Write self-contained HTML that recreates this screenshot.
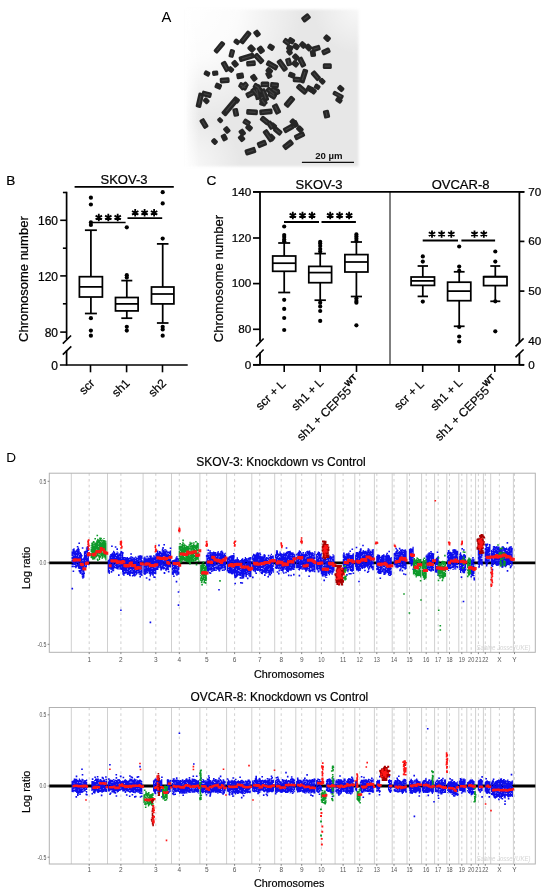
<!DOCTYPE html>
<html><head><meta charset="utf-8"><style>html,body{margin:0;padding:0;background:#fff}svg{display:block;will-change:transform}.bc text{stroke:#000;stroke-width:0.22px}.dd text.t{stroke:#000;stroke-width:0.2px}</style></head>
<body><svg width="550" height="894" viewBox="0 0 550 894">
<defs><radialGradient id="acorner" gradientUnits="userSpaceOnUse" cx="186" cy="9" r="115"><stop offset="0" stop-color="#fff" stop-opacity="1"/><stop offset="0.45" stop-color="#fff" stop-opacity="0.85"/><stop offset="1" stop-color="#fff" stop-opacity="0"/></radialGradient><radialGradient id="acorner2" gradientUnits="userSpaceOnUse" cx="186" cy="167" r="55"><stop offset="0" stop-color="#fff" stop-opacity="0.8"/><stop offset="1" stop-color="#fff" stop-opacity="0"/></radialGradient><radialGradient id="acorner3" gradientUnits="userSpaceOnUse" cx="358" cy="9" r="45"><stop offset="0" stop-color="#fff" stop-opacity="0.7"/><stop offset="1" stop-color="#fff" stop-opacity="0"/></radialGradient><linearGradient id="aleft" x1="0" x2="1" y1="0" y2="0"><stop offset="0" stop-color="#fff" stop-opacity="0.9"/><stop offset="1" stop-color="#fff" stop-opacity="0"/></linearGradient><filter id="asoft" x="-5%" y="-5%" width="110%" height="110%"><feGaussianBlur stdDeviation="0.55"/></filter><filter id="aedge" x="-5%" y="-5%" width="110%" height="110%"><feGaussianBlur stdDeviation="1.2"/></filter></defs><rect x="186" y="9.5" width="172.5" height="157" fill="#e7e7e7" filter="url(#aedge)"/><rect x="185" y="8" width="175" height="160" fill="url(#acorner)"/><rect x="185" y="8" width="175" height="160" fill="url(#acorner2)"/><rect x="300" y="8" width="60" height="60" fill="url(#acorner3)"/><rect x="185" y="8" width="14" height="160" fill="url(#aleft)"/><g fill="#262626" filter="url(#asoft)"><rect x="-3.4" y="-2.9" width="6.9" height="5.7" rx="1.5" transform="translate(257.0 33.5) rotate(53)"/><rect x="-7.4" y="-2.9" width="14.7" height="5.7" rx="1.5" transform="translate(245.2 37.5) rotate(128)"/><rect x="-3.1" y="-2.6" width="6.2" height="5.2" rx="1.5" transform="translate(236.8 41.8) rotate(36)"/><rect x="-6.8" y="-2.6" width="13.6" height="5.2" rx="1.5" transform="translate(219.4 47.3) rotate(130)"/><rect x="-4.2" y="-2.6" width="8.5" height="5.2" rx="1.5" transform="translate(231.8 53.4) rotate(105)"/><rect x="-3.7" y="-3.1" width="7.5" height="6.2" rx="1.5" transform="translate(251.5 48.5) rotate(45)"/><rect x="-3.7" y="-3.1" width="7.5" height="6.2" rx="1.5" transform="translate(260.8 49.8) rotate(54)"/><rect x="-3.4" y="-2.9" width="6.9" height="5.7" rx="1.5" transform="translate(271.0 47.2) rotate(32)"/><rect x="-8.0" y="-2.9" width="15.9" height="5.7" rx="1.5" transform="translate(246.7 57.4) rotate(-17)"/><rect x="-5.9" y="-2.9" width="11.8" height="5.7" rx="1.5" transform="translate(258.8 58.5) rotate(47)"/><rect x="-4.8" y="-2.9" width="9.6" height="5.7" rx="1.5" transform="translate(251.0 63.5) rotate(-5)"/><rect x="-5.5" y="-2.9" width="11.0" height="5.7" rx="1.5" transform="translate(225.4 66.5) rotate(61)"/><rect x="-3.4" y="-2.9" width="6.9" height="5.7" rx="1.5" transform="translate(235.0 63.8) rotate(49)"/><rect x="-3.1" y="-2.6" width="6.2" height="5.2" rx="1.5" transform="translate(230.8 69.5) rotate(41)"/><rect x="-3.1" y="-2.6" width="6.2" height="5.2" rx="1.5" transform="translate(207.0 73.5) rotate(27)"/><rect x="-3.1" y="-2.6" width="6.2" height="5.2" rx="1.5" transform="translate(215.2 73.2) rotate(-6)"/><rect x="-4.9" y="-2.9" width="9.8" height="5.7" rx="1.5" transform="translate(224.7 80.4) rotate(-5)"/><rect x="-3.7" y="-3.1" width="7.5" height="6.2" rx="1.5" transform="translate(240.1 75.9) rotate(-10)"/><rect x="-3.4" y="-2.9" width="6.9" height="5.7" rx="1.5" transform="translate(253.8 77.8) rotate(54)"/><rect x="-3.4" y="-2.9" width="6.9" height="5.7" rx="1.5" transform="translate(269.2 70.8) rotate(39)"/><rect x="-3.4" y="-2.9" width="6.9" height="5.7" rx="1.5" transform="translate(268.8 75.0) rotate(63)"/><rect x="-6.3" y="-2.9" width="12.5" height="5.7" rx="1.5" transform="translate(272.1 65.4) rotate(30)"/><rect x="-3.4" y="-2.9" width="6.9" height="5.7" rx="1.5" transform="translate(218.2 86.2) rotate(24)"/><rect x="-4.6" y="-2.9" width="9.1" height="5.7" rx="1.5" transform="translate(244.1 86.0) rotate(-38)"/><rect x="-3.8" y="-2.9" width="7.6" height="5.7" rx="1.5" transform="translate(256.8 86.8) rotate(32)"/><rect x="-4.4" y="-2.9" width="8.8" height="5.7" rx="1.5" transform="translate(265.0 84.5) rotate(0)"/><rect x="-4.4" y="-2.9" width="8.8" height="5.7" rx="1.5" transform="translate(274.5 85.2) rotate(4)"/><rect x="-4.5" y="-3.1" width="9.0" height="6.2" rx="1.5" transform="translate(306.0 17.9) rotate(-37)"/><rect x="-3.4" y="-2.9" width="6.9" height="5.7" rx="1.5" transform="translate(327.0 38.2) rotate(41)"/><rect x="-4.4" y="-2.9" width="8.8" height="5.7" rx="1.5" transform="translate(326.0 51.4) rotate(-24)"/><rect x="-4.5" y="-2.9" width="9.0" height="5.7" rx="1.5" transform="translate(327.3 66.1) rotate(0)"/><rect x="-4.3" y="-2.9" width="8.6" height="5.7" rx="1.5" transform="translate(316.2 48.5) rotate(-18)"/><rect x="-3.4" y="-2.9" width="6.9" height="5.7" rx="1.5" transform="translate(312.9 53.4) rotate(81)"/><rect x="-3.4" y="-2.9" width="6.9" height="5.7" rx="1.5" transform="translate(308.5 47.5) rotate(45)"/><rect x="-3.4" y="-2.9" width="6.9" height="5.7" rx="1.5" transform="translate(302.8 45.0) rotate(41)"/><rect x="-3.9" y="-2.9" width="7.8" height="5.7" rx="1.5" transform="translate(286.8 42.0) rotate(36)"/><rect x="-3.4" y="-2.9" width="6.9" height="5.7" rx="1.5" transform="translate(291.2 40.8) rotate(31)"/><rect x="-3.4" y="-2.9" width="6.9" height="5.7" rx="1.5" transform="translate(296.0 46.5) rotate(34)"/><rect x="-3.4" y="-2.9" width="6.9" height="5.7" rx="1.5" transform="translate(289.8 47.8) rotate(23)"/><rect x="-3.1" y="-2.6" width="6.2" height="5.2" rx="1.5" transform="translate(289.5 52.2) rotate(51)"/><rect x="-4.1" y="-2.9" width="8.1" height="5.7" rx="1.5" transform="translate(288.6 62.0) rotate(73)"/><rect x="-3.4" y="-2.9" width="6.9" height="5.7" rx="1.5" transform="translate(295.7 57.2) rotate(46)"/><rect x="-3.4" y="-2.9" width="6.9" height="5.7" rx="1.5" transform="translate(295.2 63.8) rotate(39)"/><rect x="-5.3" y="-2.9" width="10.6" height="5.7" rx="1.5" transform="translate(301.7 62.1) rotate(63)"/><rect x="-6.7" y="-2.9" width="13.3" height="5.7" rx="1.5" transform="translate(282.2 65.4) rotate(54)"/><rect x="-3.5" y="-2.9" width="7.0" height="5.7" rx="1.5" transform="translate(291.7 75.2) rotate(21)"/><rect x="-7.2" y="-2.9" width="14.5" height="5.7" rx="1.5" transform="translate(303.6 76.0) rotate(108)"/><rect x="-5.4" y="-2.9" width="10.8" height="5.7" rx="1.5" transform="translate(315.8 75.8) rotate(49)"/><rect x="-3.1" y="-2.6" width="6.2" height="5.2" rx="1.5" transform="translate(322.2 81.2) rotate(45)"/><rect x="-4.1" y="-2.9" width="8.1" height="5.7" rx="1.5" transform="translate(296.9 79.6) rotate(5)"/><rect x="-6.1" y="-2.9" width="12.2" height="5.7" rx="1.5" transform="translate(301.9 89.3) rotate(40)"/><rect x="-3.4" y="-2.9" width="6.9" height="5.7" rx="1.5" transform="translate(309.5 88.8) rotate(27)"/><rect x="-3.4" y="-2.9" width="6.9" height="5.7" rx="1.5" transform="translate(312.9 90.8) rotate(39)"/><rect x="-3.1" y="-2.6" width="6.2" height="5.2" rx="1.5" transform="translate(317.2 86.8) rotate(31)"/><rect x="-7.5" y="-2.9" width="15.1" height="5.7" rx="1.5" transform="translate(199.8 100.2) rotate(103)"/><rect x="-5.1" y="-2.9" width="10.1" height="5.7" rx="1.5" transform="translate(206.7 94.4) rotate(15)"/><rect x="-3.1" y="-2.6" width="6.2" height="5.2" rx="1.5" transform="translate(206.2 100.8) rotate(45)"/><rect x="-11.1" y="-3.1" width="22.3" height="6.2" rx="1.5" transform="translate(230.4 106.3) rotate(130)"/><rect x="-4.2" y="-2.9" width="8.4" height="5.7" rx="1.5" transform="translate(235.7 112.4) rotate(78)"/><rect x="-5.1" y="-2.9" width="10.3" height="5.7" rx="1.5" transform="translate(203.9 123.5) rotate(59)"/><rect x="-2.8" y="-2.3" width="5.6" height="4.7" rx="1.5" transform="translate(220.2 120.2) rotate(45)"/><rect x="-3.4" y="-2.9" width="6.9" height="5.7" rx="1.5" transform="translate(226.8 130.0) rotate(50)"/><rect x="-3.4" y="-2.9" width="6.9" height="5.7" rx="1.5" transform="translate(224.2 137.5) rotate(63)"/><rect x="-3.1" y="-2.6" width="6.2" height="5.2" rx="1.5" transform="translate(214.5 141.5) rotate(45)"/><rect x="-3.8" y="-2.9" width="7.7" height="5.7" rx="1.5" transform="translate(246.6 122.4) rotate(33)"/><rect x="-3.4" y="-2.9" width="6.9" height="5.7" rx="1.5" transform="translate(249.0 127.8) rotate(40)"/><rect x="-3.4" y="-2.9" width="6.9" height="5.7" rx="1.5" transform="translate(242.2 132.5) rotate(53)"/><rect x="-3.4" y="-2.9" width="6.9" height="5.7" rx="1.5" transform="translate(241.5 138.2) rotate(51)"/><rect x="-5.9" y="-2.9" width="11.7" height="5.7" rx="1.5" transform="translate(252.1 112.2) rotate(4)"/><rect x="-6.6" y="-2.9" width="13.3" height="5.7" rx="1.5" transform="translate(265.9 111.9) rotate(-6)"/><rect x="-5.1" y="-2.9" width="10.1" height="5.7" rx="1.5" transform="translate(264.9 120.6) rotate(38)"/><rect x="-6.8" y="-2.9" width="13.6" height="5.7" rx="1.5" transform="translate(268.3 135.8) rotate(55)"/><rect x="-4.8" y="-3.1" width="9.6" height="6.2" rx="1.5" transform="translate(261.9 143.9) rotate(-21)"/><rect x="-5.6" y="-3.1" width="11.2" height="6.2" rx="1.5" transform="translate(250.4 151.2) rotate(-18)"/><rect x="-4.5" y="-2.9" width="8.9" height="5.7" rx="1.5" transform="translate(250.2 94.1) rotate(-26)"/><rect x="-3.7" y="-2.9" width="7.4" height="5.7" rx="1.5" transform="translate(259.8 94.5) rotate(64)"/><rect x="-6.1" y="-2.9" width="12.2" height="5.7" rx="1.5" transform="translate(271.4 92.2) rotate(40)"/><rect x="-3.4" y="-2.9" width="6.9" height="5.7" rx="1.5" transform="translate(262.8 103.2) rotate(18)"/><rect x="-3.4" y="-2.9" width="6.9" height="5.7" rx="1.5" transform="translate(276.5 92.2) rotate(-19)"/><rect x="-3.1" y="-2.6" width="6.2" height="5.2" rx="1.5" transform="translate(236.5 100.2) rotate(37)"/><rect x="-6.7" y="-2.9" width="13.5" height="5.7" rx="1.5" transform="translate(257.4 93.2) rotate(80)"/><rect x="-6.5" y="-2.9" width="13.0" height="5.7" rx="1.5" transform="translate(264.5 94.9) rotate(69)"/><rect x="-5.1" y="-3.1" width="10.1" height="6.2" rx="1.5" transform="translate(255.4 92.2) rotate(52)"/><rect x="-4.6" y="-3.1" width="9.2" height="6.2" rx="1.5" transform="translate(272.1 95.2) rotate(31)"/><rect x="-4.0" y="-3.1" width="8.0" height="6.2" rx="1.5" transform="translate(263.4 101.7) rotate(53)"/><rect x="-4.6" y="-2.9" width="9.2" height="5.7" rx="1.5" transform="translate(243.0 86.4) rotate(31)"/><rect x="-4.6" y="-3.1" width="9.2" height="6.2" rx="1.5" transform="translate(275.0 90.8) rotate(31)"/><rect x="-4.7" y="-3.1" width="9.3" height="6.2" rx="1.5" transform="translate(259.0 89.3) rotate(59)"/><rect x="-4.3" y="-2.9" width="8.7" height="5.7" rx="1.5" transform="translate(270.5 125.2) rotate(57)"/><rect x="-3.4" y="-2.6" width="6.8" height="5.2" rx="1.5" transform="translate(340.8 88.5) rotate(42)"/><rect x="-5.8" y="-2.3" width="11.5" height="4.7" rx="1.5" transform="translate(338.2 95.0) rotate(28)"/><rect x="-3.5" y="-2.6" width="6.9" height="5.2" rx="1.5" transform="translate(339.0 100.2) rotate(35)"/><rect x="-4.1" y="-3.1" width="8.3" height="6.2" rx="1.5" transform="translate(326.5 114.1) rotate(77)"/><rect x="-6.1" y="-3.1" width="12.2" height="6.2" rx="1.5" transform="translate(289.5 101.8) rotate(-50)"/><rect x="-5.3" y="-3.1" width="10.6" height="6.2" rx="1.5" transform="translate(276.5 109.0) rotate(64)"/><rect x="-3.4" y="-2.9" width="6.9" height="5.7" rx="1.5" transform="translate(275.8 91.5) rotate(0)"/><rect x="-3.4" y="-2.9" width="6.9" height="5.7" rx="1.5" transform="translate(295.2 124.0) rotate(63)"/><rect x="-5.5" y="-2.9" width="11.1" height="5.7" rx="1.5" transform="translate(288.5 128.5) rotate(-29)"/><rect x="-3.4" y="-2.9" width="6.9" height="5.7" rx="1.5" transform="translate(299.8 129.2) rotate(45)"/><rect x="-5.4" y="-2.9" width="10.9" height="5.7" rx="1.5" transform="translate(299.5 135.8) rotate(-27)"/><rect x="-4.7" y="-2.9" width="9.3" height="5.7" rx="1.5" transform="translate(277.8 131.2) rotate(40)"/><rect x="-3.4" y="-2.9" width="6.9" height="5.7" rx="1.5" transform="translate(271.5 137.5) rotate(45)"/><rect x="-3.4" y="-2.9" width="6.9" height="5.7" rx="1.5" transform="translate(273.2 126.0) rotate(39)"/><rect x="-5.6" y="-3.1" width="11.3" height="6.2" rx="1.5" transform="translate(288.0 144.8) rotate(-38)"/><rect x="-3.4" y="-2.9" width="6.9" height="5.7" rx="1.5" transform="translate(293.2 122.2) rotate(45)"/></g><g fill="#404040" filter="url(#asoft)"><rect x="-4.4" y="-0.6" width="8.8" height="1.2" transform="translate(245.2 37.5) rotate(128)"/><rect x="-4.1" y="-0.6" width="8.1" height="1.2" transform="translate(219.4 47.3) rotate(130)"/><rect x="-2.5" y="-0.6" width="5.1" height="1.2" transform="translate(231.8 53.4) rotate(105)"/><rect x="-4.8" y="-0.6" width="9.6" height="1.2" transform="translate(246.7 57.4) rotate(-17)"/><rect x="-3.5" y="-0.6" width="7.1" height="1.2" transform="translate(258.8 58.5) rotate(47)"/><rect x="-2.9" y="-0.6" width="5.8" height="1.2" transform="translate(251.0 63.5) rotate(-5)"/><rect x="-3.3" y="-0.6" width="6.6" height="1.2" transform="translate(225.4 66.5) rotate(61)"/><rect x="-3.0" y="-0.6" width="5.9" height="1.2" transform="translate(224.7 80.4) rotate(-5)"/><rect x="-3.8" y="-0.6" width="7.5" height="1.2" transform="translate(272.1 65.4) rotate(30)"/><rect x="-2.7" y="-0.6" width="5.5" height="1.2" transform="translate(244.1 86.0) rotate(-38)"/><rect x="-2.3" y="-0.6" width="4.6" height="1.2" transform="translate(256.8 86.8) rotate(32)"/><rect x="-2.6" y="-0.6" width="5.3" height="1.2" transform="translate(265.0 84.5) rotate(0)"/><rect x="-2.6" y="-0.6" width="5.3" height="1.2" transform="translate(274.5 85.2) rotate(4)"/><rect x="-2.7" y="-0.6" width="5.4" height="1.2" transform="translate(306.0 17.9) rotate(-37)"/><rect x="-2.6" y="-0.6" width="5.3" height="1.2" transform="translate(326.0 51.4) rotate(-24)"/><rect x="-2.7" y="-0.6" width="5.4" height="1.2" transform="translate(327.3 66.1) rotate(0)"/><rect x="-2.6" y="-0.6" width="5.1" height="1.2" transform="translate(316.2 48.5) rotate(-18)"/><rect x="-2.3" y="-0.6" width="4.7" height="1.2" transform="translate(286.8 42.0) rotate(36)"/><rect x="-2.4" y="-0.6" width="4.9" height="1.2" transform="translate(288.6 62.0) rotate(73)"/><rect x="-3.2" y="-0.6" width="6.4" height="1.2" transform="translate(301.7 62.1) rotate(63)"/><rect x="-4.0" y="-0.6" width="8.0" height="1.2" transform="translate(282.2 65.4) rotate(54)"/><rect x="-4.3" y="-0.6" width="8.7" height="1.2" transform="translate(303.6 76.0) rotate(108)"/><rect x="-3.2" y="-0.6" width="6.5" height="1.2" transform="translate(315.8 75.8) rotate(49)"/><rect x="-2.4" y="-0.6" width="4.9" height="1.2" transform="translate(296.9 79.6) rotate(5)"/><rect x="-3.7" y="-0.6" width="7.3" height="1.2" transform="translate(301.9 89.3) rotate(40)"/><rect x="-4.5" y="-0.6" width="9.1" height="1.2" transform="translate(199.8 100.2) rotate(103)"/><rect x="-3.0" y="-0.6" width="6.1" height="1.2" transform="translate(206.7 94.4) rotate(15)"/><rect x="-6.7" y="-0.6" width="13.4" height="1.2" transform="translate(230.4 106.3) rotate(130)"/><rect x="-2.5" y="-0.6" width="5.0" height="1.2" transform="translate(235.7 112.4) rotate(78)"/><rect x="-3.1" y="-0.6" width="6.2" height="1.2" transform="translate(203.9 123.5) rotate(59)"/><rect x="-2.3" y="-0.6" width="4.6" height="1.2" transform="translate(246.6 122.4) rotate(33)"/><rect x="-3.5" y="-0.6" width="7.0" height="1.2" transform="translate(252.1 112.2) rotate(4)"/><rect x="-4.0" y="-0.6" width="8.0" height="1.2" transform="translate(265.9 111.9) rotate(-6)"/><rect x="-3.0" y="-0.6" width="6.1" height="1.2" transform="translate(264.9 120.6) rotate(38)"/><rect x="-4.1" y="-0.6" width="8.2" height="1.2" transform="translate(268.3 135.8) rotate(55)"/><rect x="-2.9" y="-0.6" width="5.8" height="1.2" transform="translate(261.9 143.9) rotate(-21)"/><rect x="-3.4" y="-0.6" width="6.7" height="1.2" transform="translate(250.4 151.2) rotate(-18)"/><rect x="-2.7" y="-0.6" width="5.4" height="1.2" transform="translate(250.2 94.1) rotate(-26)"/><rect x="-3.6" y="-0.6" width="7.3" height="1.2" transform="translate(271.4 92.2) rotate(40)"/><rect x="-4.0" y="-0.6" width="8.1" height="1.2" transform="translate(257.4 93.2) rotate(80)"/><rect x="-3.9" y="-0.6" width="7.8" height="1.2" transform="translate(264.5 94.9) rotate(69)"/><rect x="-3.0" y="-0.6" width="6.1" height="1.2" transform="translate(255.4 92.2) rotate(52)"/><rect x="-2.8" y="-0.6" width="5.5" height="1.2" transform="translate(272.1 95.2) rotate(31)"/><rect x="-2.4" y="-0.6" width="4.8" height="1.2" transform="translate(263.4 101.7) rotate(53)"/><rect x="-2.8" y="-0.6" width="5.5" height="1.2" transform="translate(243.0 86.4) rotate(31)"/><rect x="-2.8" y="-0.6" width="5.5" height="1.2" transform="translate(275.0 90.8) rotate(31)"/><rect x="-2.8" y="-0.6" width="5.6" height="1.2" transform="translate(259.0 89.3) rotate(59)"/><rect x="-2.6" y="-0.6" width="5.2" height="1.2" transform="translate(270.5 125.2) rotate(57)"/><rect x="-3.5" y="-0.6" width="6.9" height="1.2" transform="translate(338.2 95.0) rotate(28)"/><rect x="-2.5" y="-0.6" width="5.0" height="1.2" transform="translate(326.5 114.1) rotate(77)"/><rect x="-3.6" y="-0.6" width="7.3" height="1.2" transform="translate(289.5 101.8) rotate(-50)"/><rect x="-3.2" y="-0.6" width="6.4" height="1.2" transform="translate(276.5 109.0) rotate(64)"/><rect x="-3.3" y="-0.6" width="6.7" height="1.2" transform="translate(288.5 128.5) rotate(-29)"/><rect x="-3.3" y="-0.6" width="6.5" height="1.2" transform="translate(299.5 135.8) rotate(-27)"/><rect x="-2.8" y="-0.6" width="5.6" height="1.2" transform="translate(277.8 131.2) rotate(40)"/><rect x="-3.4" y="-0.6" width="6.8" height="1.2" transform="translate(288.0 144.8) rotate(-38)"/></g><line x1="301.9" y1="162.3" x2="354" y2="162.3" stroke="#111" stroke-width="1.3"/><text x="328.9" y="158.7" font-size="9.6" font-weight="bold" text-anchor="middle" fill="#111" font-family="Liberation Sans, sans-serif">20 µm</text><text x="161.5" y="22.2" font-size="14.8" font-family="Liberation Sans, sans-serif">A</text><g class="bc"><text x="6.3" y="185.4" font-size="13.6" font-family="Liberation Sans, sans-serif">B</text><text x="124" y="184.2" font-size="13" text-anchor="middle" font-family="Liberation Sans, sans-serif">SKOV-3</text><line x1="74.6" y1="186.9" x2="173.8" y2="186.9" stroke="#000" stroke-width="1.6"/><path d="M66.6 191.7 V339.3 M66.6 350.4 V365.6" stroke="#000" stroke-width="1.7" fill="none"/><line x1="62.9" y1="192.5" x2="66.6" y2="192.5" stroke="#000" stroke-width="1.6"/><line x1="60.2" y1="220.3" x2="66.6" y2="220.3" stroke="#000" stroke-width="1.6"/><line x1="62.9" y1="248.2" x2="66.6" y2="248.2" stroke="#000" stroke-width="1.6"/><line x1="60.2" y1="275.9" x2="66.6" y2="275.9" stroke="#000" stroke-width="1.6"/><line x1="62.9" y1="303.8" x2="66.6" y2="303.8" stroke="#000" stroke-width="1.6"/><line x1="60.2" y1="332.1" x2="66.6" y2="332.1" stroke="#000" stroke-width="1.6"/><path d="M62.8 343.6 L71.1 335.5 M62.8 354.6 L71.3 346.4" stroke="#000" stroke-width="1.6" fill="none"/><text x="58.0" y="225.0" font-size="12" text-anchor="end" font-family="Liberation Sans, sans-serif">160</text><text x="58.0" y="280.6" font-size="12" text-anchor="end" font-family="Liberation Sans, sans-serif">120</text><text x="58.0" y="336.8" font-size="12" text-anchor="end" font-family="Liberation Sans, sans-serif">80</text><text x="58.0" y="369.6" font-size="12" text-anchor="end" font-family="Liberation Sans, sans-serif">0</text><line x1="59.9" y1="365" x2="187.7" y2="365" stroke="#000" stroke-width="1.7"/><line x1="90.5" y1="365" x2="90.5" y2="372.3" stroke="#000" stroke-width="1.6"/><line x1="126.6" y1="365" x2="126.6" y2="372.3" stroke="#000" stroke-width="1.6"/><line x1="162.5" y1="365" x2="162.5" y2="372.3" stroke="#000" stroke-width="1.6"/><text transform="translate(28.0 342.0) rotate(-90)" font-size="13.0" font-family="Liberation Sans, sans-serif">Chromosome number</text><text transform="translate(95.3 383.9) rotate(-45)" font-size="12" text-anchor="end" font-family="Liberation Sans, sans-serif">scr</text><text transform="translate(130.4 383.9) rotate(-45)" font-size="12" text-anchor="end" font-family="Liberation Sans, sans-serif">sh1</text><text transform="translate(166.9 383.9) rotate(-45)" font-size="12" text-anchor="end" font-family="Liberation Sans, sans-serif">sh2</text><rect x="79.4" y="276.7" width="23.0" height="20.30000000000001" fill="#fff" stroke="#000" stroke-width="1.75"/><line x1="79.4" y1="286.9" x2="102.4" y2="286.9" stroke="#000" stroke-width="1.75"/><line x1="90.9" y1="276.7" x2="90.9" y2="230.2" stroke="#000" stroke-width="1.75"/><line x1="90.9" y1="297" x2="90.9" y2="313.5" stroke="#000" stroke-width="1.75"/><line x1="84.9" y1="230.2" x2="96.9" y2="230.2" stroke="#000" stroke-width="1.75"/><line x1="84.9" y1="313.5" x2="96.9" y2="313.5" stroke="#000" stroke-width="1.75"/><circle cx="90.9" cy="197.7" r="2.1"/><circle cx="90.9" cy="204.5" r="2.1"/><circle cx="90.9" cy="222.4" r="2.1"/><circle cx="90.9" cy="225.0" r="2.1"/><circle cx="90.9" cy="318.2" r="2.1"/><circle cx="90.9" cy="330.6" r="2.1"/><circle cx="90.9" cy="335.7" r="2.1"/><rect x="115.5" y="297.5" width="22.6" height="13.399999999999977" fill="#fff" stroke="#000" stroke-width="1.75"/><line x1="115.5" y1="303.9" x2="138.1" y2="303.9" stroke="#000" stroke-width="1.75"/><line x1="126.8" y1="297.5" x2="126.8" y2="280.6" stroke="#000" stroke-width="1.75"/><line x1="126.8" y1="310.9" x2="126.8" y2="318.2" stroke="#000" stroke-width="1.75"/><line x1="121.3" y1="280.6" x2="132.3" y2="280.6" stroke="#000" stroke-width="1.75"/><line x1="121.3" y1="318.2" x2="132.3" y2="318.2" stroke="#000" stroke-width="1.75"/><circle cx="126.8" cy="227.3" r="2.1"/><circle cx="126.8" cy="275.2" r="2.1"/><circle cx="126.8" cy="277.6" r="2.1"/><circle cx="126.8" cy="326.8" r="2.1"/><circle cx="126.8" cy="330.6" r="2.1"/><rect x="151.5" y="287.0" width="22.4" height="16.899999999999977" fill="#fff" stroke="#000" stroke-width="1.75"/><line x1="151.5" y1="294.0" x2="173.89999999999998" y2="294.0" stroke="#000" stroke-width="1.75"/><line x1="162.7" y1="287.0" x2="162.7" y2="243.9" stroke="#000" stroke-width="1.75"/><line x1="162.7" y1="303.9" x2="162.7" y2="323.0" stroke="#000" stroke-width="1.75"/><line x1="156.89999999999998" y1="243.9" x2="168.5" y2="243.9" stroke="#000" stroke-width="1.75"/><line x1="156.89999999999998" y1="323.0" x2="168.5" y2="323.0" stroke="#000" stroke-width="1.75"/><circle cx="162.7" cy="192.2" r="2.1"/><circle cx="162.7" cy="203.4" r="2.1"/><circle cx="162.7" cy="238.6" r="2.1"/><circle cx="162.7" cy="326.8" r="2.1"/><circle cx="162.7" cy="329.4" r="2.1"/><circle cx="162.7" cy="335.7" r="2.1"/><path d="M90.5 222.5 H125.6" stroke="#000" stroke-width="1.7" fill="none"/><path d="M127.5 218.2 H162.2" stroke="#000" stroke-width="1.7" fill="none"/><path d="M98.80 213.80V221.20M95.60 215.65L102.00 219.35M95.60 219.35L102.00 215.65M108.30 213.80V221.20M105.10 215.65L111.50 219.35M105.10 219.35L111.50 215.65M117.70 213.80V221.20M114.50 215.65L120.90 219.35M114.50 219.35L120.90 215.65" stroke="#000" stroke-width="1.8" fill="none"/><path d="M135.20 209.10V216.50M132.00 210.95L138.40 214.65M132.00 214.65L138.40 210.95M144.60 209.10V216.50M141.40 210.95L147.80 214.65M141.40 214.65L147.80 210.95M154.10 209.10V216.50M150.90 210.95L157.30 214.65M150.90 214.65L157.30 210.95" stroke="#000" stroke-width="1.8" fill="none"/></g><g class="bc"><text x="206.5" y="185.4" font-size="13.6" font-family="Liberation Sans, sans-serif">C</text><text x="319.1" y="189.3" font-size="13" text-anchor="middle" font-family="Liberation Sans, sans-serif">SKOV-3</text><text x="460.6" y="189.0" font-size="13" text-anchor="middle" font-family="Liberation Sans, sans-serif">OVCAR-8</text><path d="M253.0 191.9 H524.3" stroke="#000" stroke-width="1.7" fill="none"/><path d="M260.0 191.9 V341.5 M260.0 352.5 V365" stroke="#000" stroke-width="1.8" fill="none"/><path d="M519.4 191.9 V342.2 M519.4 353.6 V365" stroke="#000" stroke-width="1.8" fill="none"/><line x1="390" y1="191.9" x2="390" y2="365" stroke="#000" stroke-width="1"/><line x1="253.2" y1="364.8" x2="524" y2="364.8" stroke="#000" stroke-width="1.7"/><line x1="253.0" y1="191.9" x2="260.0" y2="191.9" stroke="#000" stroke-width="1.7"/><text x="251.2" y="195.70000000000002" font-size="11.7" text-anchor="end" font-family="Liberation Sans, sans-serif">140</text><line x1="253.0" y1="238.0" x2="260.0" y2="238.0" stroke="#000" stroke-width="1.7"/><text x="251.2" y="241.8" font-size="11.7" text-anchor="end" font-family="Liberation Sans, sans-serif">120</text><line x1="253.0" y1="283.6" x2="260.0" y2="283.6" stroke="#000" stroke-width="1.7"/><text x="251.2" y="287.40000000000003" font-size="11.7" text-anchor="end" font-family="Liberation Sans, sans-serif">100</text><line x1="253.0" y1="329.3" x2="260.0" y2="329.3" stroke="#000" stroke-width="1.7"/><text x="251.2" y="333.1" font-size="11.7" text-anchor="end" font-family="Liberation Sans, sans-serif">80</text><line x1="253.0" y1="364.8" x2="260.0" y2="364.8" stroke="#000" stroke-width="1.7"/><text x="251.2" y="368.6" font-size="11.7" text-anchor="end" font-family="Liberation Sans, sans-serif">0</text><line x1="519.4" y1="191.9" x2="524.4" y2="191.9" stroke="#000" stroke-width="1.7"/><text x="528.2" y="195.9" font-size="11.7" font-family="Liberation Sans, sans-serif">70</text><line x1="519.4" y1="241.4" x2="524.4" y2="241.4" stroke="#000" stroke-width="1.7"/><text x="528.2" y="245.4" font-size="11.7" font-family="Liberation Sans, sans-serif">60</text><line x1="519.4" y1="291.1" x2="524.4" y2="291.1" stroke="#000" stroke-width="1.7"/><text x="528.2" y="295.1" font-size="11.7" font-family="Liberation Sans, sans-serif">50</text><text x="528.2" y="344.6" font-size="11.7" font-family="Liberation Sans, sans-serif">40</text><line x1="519.4" y1="364.8" x2="524.4" y2="364.8" stroke="#000" stroke-width="1.7"/><text x="528.2" y="368.8" font-size="11.7" font-family="Liberation Sans, sans-serif">0</text><path d="M256 346.5 L263.6 338.5 M256 357.5 L263.6 349.5" stroke="#000" stroke-width="1.6" fill="none"/><path d="M515.5 346.4 L523.6 338.4 M515.5 357.3 L523.6 349.5" stroke="#000" stroke-width="1.6" fill="none"/><text transform="translate(222.8 342.3) rotate(-90)" font-size="13.2" font-family="Liberation Sans, sans-serif">Chromosome number</text><line x1="284.2" y1="365" x2="284.2" y2="372" stroke="#000" stroke-width="1.6"/><line x1="320.2" y1="365" x2="320.2" y2="372" stroke="#000" stroke-width="1.6"/><line x1="356.5" y1="365" x2="356.5" y2="372" stroke="#000" stroke-width="1.6"/><line x1="422.7" y1="365" x2="422.7" y2="372" stroke="#000" stroke-width="1.6"/><line x1="459" y1="365" x2="459" y2="372" stroke="#000" stroke-width="1.6"/><line x1="494.8" y1="365" x2="494.8" y2="372" stroke="#000" stroke-width="1.6"/><text transform="translate(286.3 385.0) rotate(-45)" font-size="12" text-anchor="end" font-family="Liberation Sans, sans-serif">scr + L</text><text transform="translate(324.3 383.2) rotate(-45)" font-size="12" text-anchor="end" font-family="Liberation Sans, sans-serif">sh1 + L</text><text transform="translate(361.4 382.0) rotate(-45)" font-size="12" text-anchor="end" font-family="Liberation Sans, sans-serif">sh1 + CEP55<tspan font-size="8.5" font-weight="bold" dy="-5.8">WT</tspan></text><text transform="translate(424.7 385.0) rotate(-45)" font-size="12" text-anchor="end" font-family="Liberation Sans, sans-serif">scr + L</text><text transform="translate(463.2 383.2) rotate(-45)" font-size="12" text-anchor="end" font-family="Liberation Sans, sans-serif">sh1 + L</text><text transform="translate(499.4 382.0) rotate(-45)" font-size="12" text-anchor="end" font-family="Liberation Sans, sans-serif">sh1 + CEP55<tspan font-size="8.5" font-weight="bold" dy="-5.8">WT</tspan></text><rect x="272.7" y="256.0" width="23.0" height="15.300000000000011" fill="#fff" stroke="#000" stroke-width="1.75"/><line x1="272.7" y1="263.2" x2="295.7" y2="263.2" stroke="#000" stroke-width="1.75"/><line x1="284.2" y1="256.0" x2="284.2" y2="243.0" stroke="#000" stroke-width="1.75"/><line x1="284.2" y1="271.3" x2="284.2" y2="292.5" stroke="#000" stroke-width="1.75"/><line x1="278.2" y1="243.0" x2="290.2" y2="243.0" stroke="#000" stroke-width="1.75"/><line x1="278.2" y1="292.5" x2="290.2" y2="292.5" stroke="#000" stroke-width="1.75"/><circle cx="284.2" cy="226.5" r="2.1"/><circle cx="284.2" cy="235" r="2.1"/><circle cx="284.2" cy="237" r="2.1"/><circle cx="284.2" cy="239.5" r="2.1"/><circle cx="284.2" cy="241.3" r="2.1"/><circle cx="284.2" cy="299.8" r="2.1"/><circle cx="284.2" cy="308.9" r="2.1"/><circle cx="284.2" cy="318" r="2.1"/><circle cx="284.2" cy="330" r="2.1"/><rect x="308.8" y="266.4" width="22.8" height="16.30000000000001" fill="#fff" stroke="#000" stroke-width="1.75"/><line x1="308.8" y1="272.6" x2="331.59999999999997" y2="272.6" stroke="#000" stroke-width="1.75"/><line x1="320.2" y1="266.4" x2="320.2" y2="253.6" stroke="#000" stroke-width="1.75"/><line x1="320.2" y1="282.7" x2="320.2" y2="300.2" stroke="#000" stroke-width="1.75"/><line x1="314.5" y1="253.6" x2="325.9" y2="253.6" stroke="#000" stroke-width="1.75"/><line x1="314.5" y1="300.2" x2="325.9" y2="300.2" stroke="#000" stroke-width="1.75"/><circle cx="320.2" cy="241.8" r="2.1"/><circle cx="320.2" cy="243.5" r="2.1"/><circle cx="320.2" cy="246" r="2.1"/><circle cx="320.2" cy="249" r="2.1"/><circle cx="320.2" cy="251.5" r="2.1"/><circle cx="320.2" cy="302.7" r="2.1"/><circle cx="320.2" cy="306.4" r="2.1"/><circle cx="320.2" cy="311" r="2.1"/><circle cx="320.2" cy="320.9" r="2.1"/><rect x="344.9" y="254.6" width="23.0" height="17.400000000000006" fill="#fff" stroke="#000" stroke-width="1.75"/><line x1="344.9" y1="262.0" x2="367.9" y2="262.0" stroke="#000" stroke-width="1.75"/><line x1="356.4" y1="254.6" x2="356.4" y2="242.0" stroke="#000" stroke-width="1.75"/><line x1="356.4" y1="272.0" x2="356.4" y2="296.5" stroke="#000" stroke-width="1.75"/><line x1="350.79999999999995" y1="242.0" x2="362.0" y2="242.0" stroke="#000" stroke-width="1.75"/><line x1="350.79999999999995" y1="296.5" x2="362.0" y2="296.5" stroke="#000" stroke-width="1.75"/><circle cx="356.4" cy="234.4" r="2.1"/><circle cx="356.4" cy="236.5" r="2.1"/><circle cx="356.4" cy="238.7" r="2.1"/><circle cx="356.4" cy="241" r="2.1"/><circle cx="356.4" cy="298.6" r="2.1"/><circle cx="356.4" cy="300.9" r="2.1"/><circle cx="356.4" cy="302.7" r="2.1"/><circle cx="356.4" cy="325.3" r="2.1"/><rect x="411.1" y="277.0" width="23.4" height="8.399999999999977" fill="#fff" stroke="#000" stroke-width="1.75"/><line x1="411.1" y1="280.9" x2="434.5" y2="280.9" stroke="#000" stroke-width="1.75"/><line x1="422.8" y1="277.0" x2="422.8" y2="266.0" stroke="#000" stroke-width="1.75"/><line x1="422.8" y1="285.4" x2="422.8" y2="296.4" stroke="#000" stroke-width="1.75"/><line x1="417.6" y1="266.0" x2="428.0" y2="266.0" stroke="#000" stroke-width="1.75"/><line x1="417.6" y1="296.4" x2="428.0" y2="296.4" stroke="#000" stroke-width="1.75"/><circle cx="422.8" cy="256.4" r="2.1"/><circle cx="422.8" cy="261.6" r="2.1"/><circle cx="422.8" cy="301.6" r="2.1"/><rect x="447.59999999999997" y="282.2" width="23.2" height="18.5" fill="#fff" stroke="#000" stroke-width="1.75"/><line x1="447.59999999999997" y1="291.1" x2="470.8" y2="291.1" stroke="#000" stroke-width="1.75"/><line x1="459.2" y1="282.2" x2="459.2" y2="271.8" stroke="#000" stroke-width="1.75"/><line x1="459.2" y1="300.7" x2="459.2" y2="326.3" stroke="#000" stroke-width="1.75"/><line x1="453.8" y1="271.8" x2="464.59999999999997" y2="271.8" stroke="#000" stroke-width="1.75"/><line x1="453.8" y1="326.3" x2="464.59999999999997" y2="326.3" stroke="#000" stroke-width="1.75"/><circle cx="459.2" cy="246.5" r="2.1"/><circle cx="459.2" cy="266.6" r="2.1"/><circle cx="459.2" cy="270.8" r="2.1"/><circle cx="459.2" cy="327.0" r="2.1"/><circle cx="459.2" cy="336.5" r="2.1"/><circle cx="459.2" cy="341.5" r="2.1"/><rect x="483.6" y="276.7" width="23.4" height="8.900000000000034" fill="#fff" stroke="#000" stroke-width="1.75"/><line x1="483.6" y1="276.7" x2="507.0" y2="276.7" stroke="#000" stroke-width="1.75"/><line x1="495.3" y1="276.7" x2="495.3" y2="266.0" stroke="#000" stroke-width="1.75"/><line x1="495.3" y1="285.6" x2="495.3" y2="301.3" stroke="#000" stroke-width="1.75"/><line x1="490.3" y1="266.0" x2="500.3" y2="266.0" stroke="#000" stroke-width="1.75"/><line x1="490.3" y1="301.3" x2="500.3" y2="301.3" stroke="#000" stroke-width="1.75"/><circle cx="495.3" cy="251.5" r="2.1"/><circle cx="495.3" cy="261.6" r="2.1"/><circle cx="495.3" cy="301.3" r="2.1"/><circle cx="495.3" cy="331.3" r="2.1"/><path d="M284.0 222 H319 M321.5 222 H355.9" stroke="#000" stroke-width="1.9" fill="none"/><path d="M422.7 240.5 H458 M461.4 240.5 H495.1" stroke="#000" stroke-width="1.9" fill="none"/><path d="M292.80 211.80V219.20M289.60 213.65L296.00 217.35M289.60 217.35L296.00 213.65M302.50 211.80V219.20M299.30 213.65L305.70 217.35M299.30 217.35L305.70 213.65M312.00 211.80V219.20M308.80 213.65L315.20 217.35M308.80 217.35L315.20 213.65" stroke="#000" stroke-width="1.8" fill="none"/><path d="M330.20 211.80V219.20M327.00 213.65L333.40 217.35M327.00 217.35L333.40 213.65M339.60 211.80V219.20M336.40 213.65L342.80 217.35M336.40 217.35L342.80 213.65M349.10 211.80V219.20M345.90 213.65L352.30 217.35M345.90 217.35L352.30 213.65" stroke="#000" stroke-width="1.8" fill="none"/><path d="M432.00 230.40V237.80M428.80 232.25L435.20 235.95M428.80 235.95L435.20 232.25M441.60 230.40V237.80M438.40 232.25L444.80 235.95M438.40 235.95L444.80 232.25M451.30 230.40V237.80M448.10 232.25L454.50 235.95M448.10 235.95L454.50 232.25" stroke="#000" stroke-width="1.8" fill="none"/><path d="M474.50 230.40V237.80M471.30 232.25L477.70 235.95M471.30 235.95L477.70 232.25M483.80 230.40V237.80M480.60 232.25L487.00 235.95M480.60 235.95L487.00 232.25" stroke="#000" stroke-width="1.8" fill="none"/></g><g class="dd"><defs><filter id="dsoft" x="-2%" y="-10%" width="104%" height="120%"><feGaussianBlur stdDeviation="0.35"/></filter></defs><text x="6.3" y="461.7" font-size="13.6" font-family="Liberation Sans, sans-serif">D</text><text class="t" x="281" y="465.6" font-size="12" text-anchor="middle" font-family="Liberation Sans, sans-serif">SKOV-3: Knockdown vs Control</text><path d="M71.3 473.2V652.3M107.5 473.2V652.3M143.1 473.2V652.3M171.5 473.2V652.3M199.9 473.2V652.3M226.6 473.2V652.3M251.8 473.2V652.3M274.7 473.2V652.3M295.8 473.2V652.3M315.8 473.2V652.3M335.1 473.2V652.3M354.8 473.2V652.3M374.4 473.2V652.3M392.2 473.2V652.3M407.0 473.2V652.3M421.6 473.2V652.3M434.6 473.2V652.3M446.8 473.2V652.3M458.8 473.2V652.3M466.8 473.2V652.3M475.6 473.2V652.3M483.4 473.2V652.3M490.7 473.2V652.3M513.4 473.2V652.3" stroke="#d0d0d0" stroke-width="1" fill="none"/><path d="M89.2 473.2V652.3M120.9 473.2V652.3M155.8 473.2V652.3M179.3 473.2V652.3M206.7 473.2V652.3M234.6 473.2V652.3M259.7 473.2V652.3M281.2 473.2V652.3M301.7 473.2V652.3M321.4 473.2V652.3M343.1 473.2V652.3M359.7 473.2V652.3M376.8 473.2V652.3M394.0 473.2V652.3M409.5 473.2V652.3M426.2 473.2V652.3M438.2 473.2V652.3M449.5 473.2V652.3M461.8 473.2V652.3M471.2 473.2V652.3M478.4 473.2V652.3M485.3 473.2V652.3M499.4 473.2V652.3M514.5 473.2V652.3" stroke="#c4c4c4" stroke-width="0.8" stroke-dasharray="2.6 3.2" fill="none"/><rect x="49.3" y="473.2" width="485.99999999999994" height="179.09999999999997" fill="none" stroke="#b2b2b2" stroke-width="1"/><line x1="47.6" y1="481.29999999999995" x2="49.3" y2="481.29999999999995" stroke="#666" stroke-width="0.8"/><text x="46.4" y="483.69999999999993" font-size="6.6" fill="#555" text-anchor="end" textLength="7.0" lengthAdjust="spacingAndGlyphs" font-family="Liberation Sans, sans-serif">0.5</text><line x1="47.6" y1="562.8" x2="49.3" y2="562.8" stroke="#666" stroke-width="0.8"/><text x="46.4" y="565.1999999999999" font-size="6.6" fill="#555" text-anchor="end" textLength="7.0" lengthAdjust="spacingAndGlyphs" font-family="Liberation Sans, sans-serif">0.0</text><line x1="47.6" y1="644.3" x2="49.3" y2="644.3" stroke="#666" stroke-width="0.8"/><text x="46.4" y="646.6999999999999" font-size="6.6" fill="#555" text-anchor="end" textLength="9.0" lengthAdjust="spacingAndGlyphs" font-family="Liberation Sans, sans-serif">-0.5</text><path d="M89.2 652.3v1.8M120.9 652.3v1.8M155.8 652.3v1.8M179.3 652.3v1.8M206.7 652.3v1.8M234.6 652.3v1.8M259.7 652.3v1.8M281.2 652.3v1.8M301.7 652.3v1.8M321.4 652.3v1.8M343.1 652.3v1.8M359.7 652.3v1.8M376.8 652.3v1.8M394.0 652.3v1.8M409.5 652.3v1.8M426.2 652.3v1.8M438.2 652.3v1.8M449.5 652.3v1.8M461.8 652.3v1.8M471.2 652.3v1.8M478.4 652.3v1.8M485.3 652.3v1.8M499.4 652.3v1.8M514.5 652.3v1.8" stroke="#666" stroke-width="0.8" fill="none"/><text x="89.2" y="661.8" font-size="6.5" fill="#555" text-anchor="middle" font-family="Liberation Sans, sans-serif">1</text><text x="120.9" y="661.8" font-size="6.5" fill="#555" text-anchor="middle" font-family="Liberation Sans, sans-serif">2</text><text x="155.8" y="661.8" font-size="6.5" fill="#555" text-anchor="middle" font-family="Liberation Sans, sans-serif">3</text><text x="179.3" y="661.8" font-size="6.5" fill="#555" text-anchor="middle" font-family="Liberation Sans, sans-serif">4</text><text x="206.7" y="661.8" font-size="6.5" fill="#555" text-anchor="middle" font-family="Liberation Sans, sans-serif">5</text><text x="234.6" y="661.8" font-size="6.5" fill="#555" text-anchor="middle" font-family="Liberation Sans, sans-serif">6</text><text x="259.7" y="661.8" font-size="6.5" fill="#555" text-anchor="middle" font-family="Liberation Sans, sans-serif">7</text><text x="281.2" y="661.8" font-size="6.5" fill="#555" text-anchor="middle" font-family="Liberation Sans, sans-serif">8</text><text x="301.7" y="661.8" font-size="6.5" fill="#555" text-anchor="middle" font-family="Liberation Sans, sans-serif">9</text><text x="321.4" y="661.8" font-size="6.5" fill="#555" text-anchor="middle" textLength="6.2" lengthAdjust="spacingAndGlyphs" font-family="Liberation Sans, sans-serif">10</text><text x="343.1" y="661.8" font-size="6.5" fill="#555" text-anchor="middle" textLength="6.2" lengthAdjust="spacingAndGlyphs" font-family="Liberation Sans, sans-serif">11</text><text x="359.7" y="661.8" font-size="6.5" fill="#555" text-anchor="middle" textLength="6.2" lengthAdjust="spacingAndGlyphs" font-family="Liberation Sans, sans-serif">12</text><text x="376.8" y="661.8" font-size="6.5" fill="#555" text-anchor="middle" textLength="6.2" lengthAdjust="spacingAndGlyphs" font-family="Liberation Sans, sans-serif">13</text><text x="394.0" y="661.8" font-size="6.5" fill="#555" text-anchor="middle" textLength="6.2" lengthAdjust="spacingAndGlyphs" font-family="Liberation Sans, sans-serif">14</text><text x="409.5" y="661.8" font-size="6.5" fill="#555" text-anchor="middle" textLength="6.2" lengthAdjust="spacingAndGlyphs" font-family="Liberation Sans, sans-serif">15</text><text x="426.2" y="661.8" font-size="6.5" fill="#555" text-anchor="middle" textLength="6.2" lengthAdjust="spacingAndGlyphs" font-family="Liberation Sans, sans-serif">16</text><text x="438.2" y="661.8" font-size="6.5" fill="#555" text-anchor="middle" textLength="6.2" lengthAdjust="spacingAndGlyphs" font-family="Liberation Sans, sans-serif">17</text><text x="449.5" y="661.8" font-size="6.5" fill="#555" text-anchor="middle" textLength="6.2" lengthAdjust="spacingAndGlyphs" font-family="Liberation Sans, sans-serif">18</text><text x="461.8" y="661.8" font-size="6.5" fill="#555" text-anchor="middle" textLength="6.2" lengthAdjust="spacingAndGlyphs" font-family="Liberation Sans, sans-serif">19</text><text x="471.2" y="661.8" font-size="6.5" fill="#555" text-anchor="middle" textLength="6.2" lengthAdjust="spacingAndGlyphs" font-family="Liberation Sans, sans-serif">20</text><text x="478.4" y="661.8" font-size="6.5" fill="#555" text-anchor="middle" textLength="6.2" lengthAdjust="spacingAndGlyphs" font-family="Liberation Sans, sans-serif">21</text><text x="485.3" y="661.8" font-size="6.5" fill="#555" text-anchor="middle" textLength="6.2" lengthAdjust="spacingAndGlyphs" font-family="Liberation Sans, sans-serif">22</text><text x="499.4" y="661.8" font-size="6.5" fill="#555" text-anchor="middle" font-family="Liberation Sans, sans-serif">X</text><text x="514.5" y="661.8" font-size="6.5" fill="#555" text-anchor="middle" font-family="Liberation Sans, sans-serif">Y</text><text class="t" x="254" y="677.5" font-size="11.6" textLength="70.4" lengthAdjust="spacingAndGlyphs" font-family="Liberation Sans, sans-serif">Chromosomes</text><text class="t" transform="translate(30.2 589.2) rotate(-90)" font-size="10.9" font-family="Liberation Sans, sans-serif">Log ratio</text><text x="530.5" y="649.5" font-size="6.6" fill="#d4d4d4" font-style="italic" text-anchor="end" textLength="54" lengthAdjust="spacingAndGlyphs" font-family="Liberation Sans, sans-serif">Sabine Jossel(UKE)</text><line x1="49.3" y1="562.8" x2="535.3" y2="562.8" stroke="#000" stroke-width="2.8"/><text class="t" x="279.4" y="701.1" font-size="12" text-anchor="middle" textLength="177.6" lengthAdjust="spacingAndGlyphs" font-family="Liberation Sans, sans-serif">OVCAR-8: Knockdown vs Control</text><path d="M71.3 707.5V864.0M107.5 707.5V864.0M143.1 707.5V864.0M171.5 707.5V864.0M199.9 707.5V864.0M226.6 707.5V864.0M251.8 707.5V864.0M274.7 707.5V864.0M295.8 707.5V864.0M315.8 707.5V864.0M335.1 707.5V864.0M354.8 707.5V864.0M374.4 707.5V864.0M392.2 707.5V864.0M407.0 707.5V864.0M421.6 707.5V864.0M434.6 707.5V864.0M446.8 707.5V864.0M458.8 707.5V864.0M466.8 707.5V864.0M475.6 707.5V864.0M483.4 707.5V864.0M490.7 707.5V864.0M513.4 707.5V864.0" stroke="#d0d0d0" stroke-width="1" fill="none"/><path d="M89.2 707.5V864.0M120.9 707.5V864.0M155.8 707.5V864.0M179.3 707.5V864.0M206.7 707.5V864.0M234.6 707.5V864.0M259.7 707.5V864.0M281.2 707.5V864.0M301.7 707.5V864.0M321.4 707.5V864.0M343.1 707.5V864.0M359.7 707.5V864.0M376.8 707.5V864.0M394.0 707.5V864.0M409.5 707.5V864.0M426.2 707.5V864.0M438.2 707.5V864.0M449.5 707.5V864.0M461.8 707.5V864.0M471.2 707.5V864.0M478.4 707.5V864.0M485.3 707.5V864.0M499.4 707.5V864.0M514.5 707.5V864.0" stroke="#c4c4c4" stroke-width="0.8" stroke-dasharray="2.6 3.2" fill="none"/><rect x="49.3" y="707.5" width="485.99999999999994" height="156.5" fill="none" stroke="#b2b2b2" stroke-width="1"/><line x1="47.6" y1="714.8" x2="49.3" y2="714.8" stroke="#666" stroke-width="0.8"/><text x="46.4" y="717.1999999999999" font-size="6.6" fill="#555" text-anchor="end" textLength="7.0" lengthAdjust="spacingAndGlyphs" font-family="Liberation Sans, sans-serif">0.5</text><line x1="47.6" y1="786.0" x2="49.3" y2="786.0" stroke="#666" stroke-width="0.8"/><text x="46.4" y="788.4" font-size="6.6" fill="#555" text-anchor="end" textLength="7.0" lengthAdjust="spacingAndGlyphs" font-family="Liberation Sans, sans-serif">0.0</text><line x1="47.6" y1="857.2" x2="49.3" y2="857.2" stroke="#666" stroke-width="0.8"/><text x="46.4" y="859.6" font-size="6.6" fill="#555" text-anchor="end" textLength="9.0" lengthAdjust="spacingAndGlyphs" font-family="Liberation Sans, sans-serif">-0.5</text><path d="M89.2 864.0v1.8M120.9 864.0v1.8M155.8 864.0v1.8M179.3 864.0v1.8M206.7 864.0v1.8M234.6 864.0v1.8M259.7 864.0v1.8M281.2 864.0v1.8M301.7 864.0v1.8M321.4 864.0v1.8M343.1 864.0v1.8M359.7 864.0v1.8M376.8 864.0v1.8M394.0 864.0v1.8M409.5 864.0v1.8M426.2 864.0v1.8M438.2 864.0v1.8M449.5 864.0v1.8M461.8 864.0v1.8M471.2 864.0v1.8M478.4 864.0v1.8M485.3 864.0v1.8M499.4 864.0v1.8M514.5 864.0v1.8" stroke="#666" stroke-width="0.8" fill="none"/><text x="89.2" y="872.3" font-size="6.5" fill="#555" text-anchor="middle" font-family="Liberation Sans, sans-serif">1</text><text x="120.9" y="872.3" font-size="6.5" fill="#555" text-anchor="middle" font-family="Liberation Sans, sans-serif">2</text><text x="155.8" y="872.3" font-size="6.5" fill="#555" text-anchor="middle" font-family="Liberation Sans, sans-serif">3</text><text x="179.3" y="872.3" font-size="6.5" fill="#555" text-anchor="middle" font-family="Liberation Sans, sans-serif">4</text><text x="206.7" y="872.3" font-size="6.5" fill="#555" text-anchor="middle" font-family="Liberation Sans, sans-serif">5</text><text x="234.6" y="872.3" font-size="6.5" fill="#555" text-anchor="middle" font-family="Liberation Sans, sans-serif">6</text><text x="259.7" y="872.3" font-size="6.5" fill="#555" text-anchor="middle" font-family="Liberation Sans, sans-serif">7</text><text x="281.2" y="872.3" font-size="6.5" fill="#555" text-anchor="middle" font-family="Liberation Sans, sans-serif">8</text><text x="301.7" y="872.3" font-size="6.5" fill="#555" text-anchor="middle" font-family="Liberation Sans, sans-serif">9</text><text x="321.4" y="872.3" font-size="6.5" fill="#555" text-anchor="middle" textLength="6.2" lengthAdjust="spacingAndGlyphs" font-family="Liberation Sans, sans-serif">10</text><text x="343.1" y="872.3" font-size="6.5" fill="#555" text-anchor="middle" textLength="6.2" lengthAdjust="spacingAndGlyphs" font-family="Liberation Sans, sans-serif">11</text><text x="359.7" y="872.3" font-size="6.5" fill="#555" text-anchor="middle" textLength="6.2" lengthAdjust="spacingAndGlyphs" font-family="Liberation Sans, sans-serif">12</text><text x="376.8" y="872.3" font-size="6.5" fill="#555" text-anchor="middle" textLength="6.2" lengthAdjust="spacingAndGlyphs" font-family="Liberation Sans, sans-serif">13</text><text x="394.0" y="872.3" font-size="6.5" fill="#555" text-anchor="middle" textLength="6.2" lengthAdjust="spacingAndGlyphs" font-family="Liberation Sans, sans-serif">14</text><text x="409.5" y="872.3" font-size="6.5" fill="#555" text-anchor="middle" textLength="6.2" lengthAdjust="spacingAndGlyphs" font-family="Liberation Sans, sans-serif">15</text><text x="426.2" y="872.3" font-size="6.5" fill="#555" text-anchor="middle" textLength="6.2" lengthAdjust="spacingAndGlyphs" font-family="Liberation Sans, sans-serif">16</text><text x="438.2" y="872.3" font-size="6.5" fill="#555" text-anchor="middle" textLength="6.2" lengthAdjust="spacingAndGlyphs" font-family="Liberation Sans, sans-serif">17</text><text x="449.5" y="872.3" font-size="6.5" fill="#555" text-anchor="middle" textLength="6.2" lengthAdjust="spacingAndGlyphs" font-family="Liberation Sans, sans-serif">18</text><text x="461.8" y="872.3" font-size="6.5" fill="#555" text-anchor="middle" textLength="6.2" lengthAdjust="spacingAndGlyphs" font-family="Liberation Sans, sans-serif">19</text><text x="471.2" y="872.3" font-size="6.5" fill="#555" text-anchor="middle" textLength="6.2" lengthAdjust="spacingAndGlyphs" font-family="Liberation Sans, sans-serif">20</text><text x="478.4" y="872.3" font-size="6.5" fill="#555" text-anchor="middle" textLength="6.2" lengthAdjust="spacingAndGlyphs" font-family="Liberation Sans, sans-serif">21</text><text x="485.3" y="872.3" font-size="6.5" fill="#555" text-anchor="middle" textLength="6.2" lengthAdjust="spacingAndGlyphs" font-family="Liberation Sans, sans-serif">22</text><text x="499.4" y="872.3" font-size="6.5" fill="#555" text-anchor="middle" font-family="Liberation Sans, sans-serif">X</text><text x="514.5" y="872.3" font-size="6.5" fill="#555" text-anchor="middle" font-family="Liberation Sans, sans-serif">Y</text><text class="t" x="254" y="887.3" font-size="11.6" textLength="70.4" lengthAdjust="spacingAndGlyphs" font-family="Liberation Sans, sans-serif">Chromosomes</text><text class="t" transform="translate(30.2 813.0) rotate(-90)" font-size="10.9" font-family="Liberation Sans, sans-serif">Log ratio</text><text x="530.5" y="861.2" font-size="6.6" fill="#d4d4d4" font-style="italic" text-anchor="end" textLength="54" lengthAdjust="spacingAndGlyphs" font-family="Liberation Sans, sans-serif">Sabine Jossel(UKE)</text><line x1="49.3" y1="786.0" x2="535.3" y2="786.0" stroke="#000" stroke-width="2.8"/><g filter="url(#dsoft)"><path d="M72.2 551.6v4.5M72.2 556.9v2.4M72.2 560.1v0.9M72.2 561.5v1.1M72.2 563.7v1.3M73.1 549v2.6M73.1 551.5v1M73.1 552.5v2M73.1 555.1v2.1M73.1 557.1v1.5M73.1 558.6v4.4M73.1 563.8v1M73.1 565.5v1.1M74 548.2v2M74 550.3v5M74 556.1v3.4M74 559.5v5.4M74 566v1.2M74.9 550.4v0.9M74.9 551.4v5.9M74.9 557.2v8.1M74.9 566.2v0.9M75.8 550.8v10.9M75.8 562.6v1M75.8 563.6v4.4M75.8 568.1v0.1M76.7 549.4v3M76.7 552.9v1M76.7 553.9v1.3M76.7 555.9v8M76.7 564.7v2.2M77.6 548.4v1.9M77.6 551v8.3M77.6 559.4v1.4M77.6 561.4v1.7M77.6 564v1.9M77.6 566.6v0.4M78.5 547.6v3.3M78.5 550.9v4.7M78.5 556.7v6.1M78.5 562.8v6M79.4 549.5v1M79.4 551.2v1.4M79.4 553.1v0.8M79.4 554.5v2.4M79.4 557.9v4.1M79.4 562.7v2.3M79.4 565.6v2.6M79.5 554.5v7.2M79.5 562.6v6.4M79.5 570v2.3M80.4 552.3v1.5M80.4 553.8v2.2M80.4 556v13.3M80.4 570v3.7M81.3 553.6v1.4M81.3 555v6.5M81.3 562.6v8.9M82 558.4v2.3M82 561.6v9M82 571.7v3.2M82 575.7v0.4M82.9 558.4v1.5M82.9 560.8v3.6M82.9 565.3v3.6M82.9 568.9v1.2M82.9 570.1v1.8M82.9 572.9v3.3M82.9 576.1v2.6M83.8 557.4v3.3M83.8 561.6v2.9M83.8 565.3v10.7M83.8 576v1.7M84.5 551.3v11.5M84.5 563.5v3.1M85.4 550.8v3.3M85.4 554.8v2.1M85.4 556.9v0.9M85.4 557.8v2.8M85.4 561.3v4.2M85.4 566.1v1.7M86.3 550.8v1.9M86.3 553.7v1.9M86.3 556.3v9.3M86.3 565.6v1.8M86.5 547.4v1.3M86.5 549.3v1.2M86.5 551.1v1.6M86.5 553.3v5.8M86.5 559.9v1.5M86.5 561.9v0.9M87.4 545.9v3.1M87.4 548.9v1.2M87.4 550.1v2.8M87.4 553.9v2.5M87.4 557.4v5.9M88.3 546.5v2.6M88.3 549.6v1.3M88.3 551.9v1.8M88.3 554.3v7.2M88.3 561.5v2.8M108.4 559.9v3.1M108.4 562.9v9.8M109.3 558.7v10M109.3 569.7v4.4M110 555.4v2.2M110 557.5v8.3M110 565.9v1.9M110 568.3v0.8M110.9 554.1v2.7M110.9 556.8v4.7M110.9 561.5v7.4M110.9 568.9v0.8M111.8 553.4v2.4M111.8 555.8v1.6M111.8 558.1v1.4M111.8 559.5v3.8M111.8 564v5.7M112.7 552.4v17.3M112.7 570.5v0.4M113.6 550.7v2M113.6 553.3v13.4M113.6 566.8v2.7M114.5 551.7v6.1M114.5 557.8v1.2M114.5 559v4.2M114.5 563.9v1.3M114.5 565.8v2.5M115.4 553.7v2.2M115.4 555.8v1.5M115.4 558v6.4M115.4 564.9v1.2M115.4 566.9v1.4M116.3 553v2M116.3 556v2.1M116.3 558.1v2.3M116.3 561.5v7.2M117.2 551.5v0.8M117.2 552.4v2.7M117.2 555.1v2.6M117.2 557.7v3M117.2 561.2v3.6M117.2 564.8v4.4M118.1 552.4v1.4M118.1 554.6v9.9M118.1 565.3v4.2M119 553.9v10.8M119 564.7v3.1M119 568.9v0.4M119.9 553.2v1.4M119.9 554.6v1.7M119.9 557.3v7M119.9 564.9v2.6M119.9 568.2v1.3M120.8 551.3v3.7M120.8 555v0.9M120.8 555.9v1.2M120.8 557.1v3.6M120.8 560.7v2.1M120.8 563.7v2.7M120.8 566.4v2.9M120.8 569.8v0.1M121.7 550.9v2.9M121.7 554.6v1.2M121.7 556.6v1.1M121.7 558.5v0.9M121.7 559.5v1.1M121.7 560.6v6.1M121.7 567.2v2.7M122.6 553v19.1M123 558.7v5.4M123 565.2v1M123 566.9v1.7M123 569.6v0.8M123 570.5v4.2M123.9 557.1v4.4M123.9 561.4v1.5M123.9 563.6v1M123.9 564.6v6.1M123.9 570.7v0.8M123.9 571.5v4.5M124.8 557v1.2M124.8 558.7v2.2M124.8 561v5M124.8 565.9v5.2M124.8 571.9v2.1M125.7 557.3v4.4M125.7 561.7v1.7M125.7 563.3v0.9M125.7 564.8v5.6M125.7 570.4v3M126.6 557.6v9.1M126.6 566.7v4.9M126.6 571.7v1.8M127.5 557.1v2.8M127.5 559.9v3.8M127.5 564.3v4.2M127.5 569.6v1.3M127.5 571.5v3.6M128.4 558v4.9M128.4 562.9v5M128.4 567.9v1M128.4 568.9v2.4M128.4 571.3v3.2M129.3 559.7v9.4M129.3 569.1v1.2M129.3 570.9v0.9M129.3 571.8v2.8M130.2 557.5v2M130.2 560v5.8M130.2 566.5v2.7M130.2 569.9v2M130.2 571.8v2.4M130.2 575.3v0.9M131.1 556v2.7M131.1 559.6v2.3M131.1 561.9v3.5M131.1 566.4v1.1M131.1 567.6v1.5M131.1 569.6v4.2M132 558.2v3.2M132 561.4v1.5M132 563.6v7M132 571.7v1.8M132.9 558.6v4.3M132.9 563.9v5M132.9 568.9v4.3M133.8 557.5v1.1M133.8 558.6v0.9M133.8 560.2v8.9M133.8 569.8v5M134.7 557.4v5.7M134.7 563.1v2.3M134.7 566v7.3M134.7 573.3v3.3M135.6 556.4v1.3M135.6 558.7v1.8M135.6 561.1v5.1M135.6 566.1v1.4M135.6 568.2v2.2M135.6 571v2.2M135.6 574.2v1.5M136.5 557.5v15.2M136.5 572.8v1.9M137.4 557.9v1.6M137.4 560v2.6M137.4 562.6v4.9M137.4 568.4v3M137.4 572.3v1.1M138.3 555.7v3.8M138.3 559.5v2.7M138.3 563.1v8.2M138.3 571.4v2.2M139.2 555.6v2.9M139.2 559.4v1.2M139.2 561.5v5.2M139.2 566.7v1.8M139.2 569.3v4.2M139.2 574.4v0.6M140.1 555.9v3.2M140.1 559.1v0.9M140.1 560.6v6.1M140.1 566.8v3.4M140.1 571v3.5M140.1 574.5v0.4M141 555.5v2.6M141 558.2v1.6M141 559.8v2.5M141 562.3v1.3M141 563.6v2.3M141 566.6v2.6M141 569.9v2.7M141 572.7v1.9M141.9 555.6v3.4M141.9 560v2.5M141.9 563.2v6M141.9 569.2v4.3M141.9 574.4v1.7M141.9 576.1v0M144 557.6v5.8M144 564.1v0.9M144 565v7.8M144.9 556.6v6.2M144.9 562.8v1.8M144.9 565.4v2.1M144.9 568.4v6.6M145.8 558.3v6.6M145.8 564.9v9.2M146.7 558.3v10.5M146.7 568.8v3.1M146.7 572.4v1.1M147.6 558.3v4.8M147.6 564.3v1.1M147.6 565.4v1.3M147.6 567.6v1.8M147.6 569.4v1.5M147.6 571.9v1.3M148.5 557.4v4.3M148.5 561.7v3M148.5 564.6v1.8M148.5 566.5v5.2M149.4 555.7v1.1M149.4 557.7v1.4M149.4 559.1v3.1M149.4 563v3.8M149.4 567.7v1.3M149.4 569v2.4M149.4 571.4v2.6M150.3 555.5v6.2M150.3 561.7v2M150.3 564.8v5.1M150.3 569.8v2.2M150.3 572v4.4M151.2 555.6v2.8M151.2 558.4v2.5M151.2 560.8v4M151.2 564.9v6.6M151.2 571.9v1.9M151.2 574.7v0.3M152.1 557.7v6.6M152.1 564.3v3.8M152.1 569.1v5.6M153 556.8v1.1M153 557.9v6.4M153 565.3v9.5M153.9 555.1v1.6M153.9 557.6v6.3M153.9 564.5v6.6M153.9 571v1.7M153.9 572.8v1M154.8 556.2v3.9M154.8 560.7v1.5M154.8 562.2v2.4M154.8 564.6v2.6M154.8 567.7v1M154.8 568.7v2.4M154.8 572v2.1M155.7 557.1v0.9M155.7 559v7.8M155.7 567.7v1.9M155.7 569.6v2.7M155.7 572.3v2M156 553.5v2.1M156 555.6v1.2M156 556.9v1M156 557.9v4.7M156 563.3v2M156 565.9v1.5M156.9 550.7v1.2M156.9 552.9v1M156.9 553.9v2M156.9 556v0.9M156.9 556.8v2.3M156.9 559.6v7M156.9 567.2v2.7M157.8 550.6v1.3M157.8 552.9v5.2M157.8 558.6v1.1M157.8 559.7v3.2M157.8 563.5v4.1M157.8 567.6v2.5M158.7 552.8v5.4M158.7 559.1v1M158.7 560.1v2.2M158.7 562.4v5.4M159.6 550.9v8M159.6 559.5v7M159.6 567.1v0.4M160.5 551.4v2.9M160.5 554.9v5.2M160.5 560.1v7.8M161.4 552.9v1M161.4 553.9v11.6M161.4 566.3v3.2M162.3 550.2v1.5M162.3 552.4v6.7M162.3 559.7v5M162.3 565.2v3.5M163.2 549.9v1.2M163.2 551v5.2M163.2 556.8v3.2M163.2 560.7v1.3M163.2 562.5v3.9M163.2 566.4v1.4M163.2 567.8v0.8M164.1 549.9v2.7M164.1 552.6v3.4M164.1 557.1v6.1M164.1 563.8v2.2M164.1 567.1v1.9M165 549.1v1M165 551.2v10.3M165 562.3v4.3M165 567.4v1.1M165 569.3v0.2M165.9 549.6v4.3M165.9 553.9v8.4M165.9 562.2v0.9M165.9 563.2v1.9M165.9 565v1.9M165.9 568v2.9M166.8 550.6v2M166.8 553.5v1.2M166.8 554.7v11.7M166.8 567.1v3M166.8 570.7v0.5M167.7 551.6v1.8M167.7 554.2v7.2M167.7 561.5v3.8M167.7 565.2v1.6M167.7 566.8v2.7M168.6 551.5v1.8M168.6 554.1v2.5M168.6 556.6v0.8M168.6 558.5v1.8M168.6 560.2v3.2M168.6 564.5v2M168.6 566.5v1.2M169.5 551.5v2.5M169.5 554.9v1.2M169.5 557.2v5.5M169.5 563.4v2.3M169.5 565.7v1.4M170.4 550.5v5.5M170.4 556v5.8M170.4 562.7v4.9M172.4 560.2v3.5M172.4 563.7v3.8M172.4 568v1.4M172.4 569.4v1.2M172.4 571.2v3.4M172.4 574.6v0.2M173.3 560v6M173.3 566.9v2.3M173.3 569.9v1.2M173.3 571.1v3.8M174.2 559.7v8.5M174.2 568.3v5M175.1 559.2v10.1M175.1 569.4v2.1M175.1 571.5v1.8M176 557.6v11.3M176 569.6v4.9M176.9 555.9v6.3M176.9 562.8v2.4M176.9 566.3v2M176.9 568.3v1.2M176.9 570.2v2.6M176.9 573.4v2.4M177.8 558v1.7M177.8 560.7v2.3M177.8 563.8v1.1M177.8 566v1.3M177.8 568.3v6.5M178.7 558.4v11.9M178.7 571.4v3.3M206.5 554.9v1.4M206.5 556.3v1.2M206.5 558.4v1.1M206.5 560.5v5.2M206.5 565.8v3.8M207.4 552.7v0.9M207.4 554.3v2.8M207.4 557.6v13.9M208.3 552.4v1.3M208.3 554.4v4.8M208.3 560.1v3.2M208.3 564.1v3.2M208.3 567.3v2.3M209.2 552.2v1.9M209.2 554.8v1M209.2 556.6v2.6M209.2 559.3v2.4M209.2 562.5v4.5M209.2 567.9v2.5M210.1 550.1v2.6M210.1 553.5v13.4M210.1 567.6v2.6M211 552.5v9.9M211 563.3v2.5M211 566.4v1.2M211 567.6v3.1M211.9 554.8v2.2M211.9 557v3.6M211.9 561.6v0.8M211.9 562.4v7.5M212.8 552.1v4.3M212.8 556.4v2.5M212.8 558.8v2.6M212.8 562.2v4.8M212.8 567.9v1.7M213.7 551.5v3M213.7 554.5v3.4M213.7 558.5v1.3M213.7 559.9v3.4M213.7 564.1v6.1M214.6 552v4.4M214.6 556.3v8.7M214.6 565v1M214.6 567v3.9M215.5 552v2.3M215.5 554.3v3.4M215.5 558.3v2.6M215.5 560.8v5M215.5 566.6v2M216.4 553.8v2.4M216.4 556.9v2.4M216.4 560v0.9M216.4 561.7v1M216.4 563.7v1.9M216.4 566.3v3M217.3 552.2v2.7M217.3 554.9v4.2M217.3 559.6v2.8M217.3 563.4v2M217.3 566.3v3.2M218.2 551v1.5M218.2 552.5v5.2M218.2 558.6v2.2M218.2 561.7v2.5M218.2 565v5.1M219.1 553.3v3M219.1 557.3v2.7M219.1 561v2.8M219.1 564.6v6.6M220 552.8v0.9M220 553.8v3.6M220 557.4v5.9M220 564v1.1M220 565.1v1.2M220 567.2v2.6M220.9 551v1M220.9 552v2.7M220.9 554.6v14.8M221.8 550.6v2.2M221.8 553.3v15.5M222.7 551.7v7.7M222.7 559.3v3.3M222.7 563.2v2.1M222.7 565.3v2.9M223.6 553.4v1M223.6 555.1v3M223.6 558.9v2.4M223.6 561.3v1.6M223.6 562.9v3.6M223.6 567.2v1.1M224.5 553.4v6.4M224.5 560.6v6.5M224.5 567.1v1.2M225.4 552.8v1M225.4 554.7v1M225.4 555.7v1.1M225.4 556.8v1.5M225.4 558.3v3.7M225.4 561.9v3.2M225.4 565.2v4.7M227.5 557.4v4M227.5 561.4v0.9M227.5 562.3v4.9M227.5 567.2v2.3M227.5 569.5v0.8M228.4 557.3v2.7M228.4 560.6v1.8M228.4 562.3v4.8M228.4 567.8v1.3M228.4 569.8v2.2M228.4 572v0.9M229.3 556.2v6.1M229.3 562.3v5.7M229.3 568v1.6M229.3 569.5v4.1M230.2 556v2.3M230.2 559.4v4.7M230.2 564.1v1.3M230.2 565.4v7.6M231.1 555.2v6.5M231.1 561.7v2.8M231.1 564.5v6.2M231.1 570.7v2M231.1 572.7v1.2M232 555.2v6.2M232 562.4v1.7M232 564.9v1.7M232 567.7v4.8M232 572.5v2.1M232.9 555v10.7M232.9 565.8v2.6M232.9 569.3v4.9M233.8 553.1v0.8M233.8 554.4v1.2M233.8 555.6v2.7M233.8 558.3v2.9M233.8 561.9v2.3M233.8 564.2v4.2M233.8 568.9v1.9M233.8 570.8v2.8M233.8 573.7v0M234.6 559.9v5.4M234.6 565.3v0.9M234.6 566.8v9.7M235.5 559.5v3.8M235.5 564v5.6M235.5 569.6v2M235.5 571.6v2M235.5 574.4v3.8M236.4 559.3v2.5M236.4 561.8v5.1M236.4 566.9v1.9M236.4 569.7v6.9M236.4 576.6v0.9M237.3 557.3v5.5M237.3 563.5v1M237.3 565.2v11.1M238.2 559v10.9M238.2 570.6v2.8M238.2 574.1v1.3M239.1 560.7v9.2M239.1 570.9v4.3M239.1 575.2v0.2M240 559.9v4.7M240 564.6v1.9M240 567.6v3.4M240 571.9v1.9M240 573.8v0.9M240 574.7v1.4M240.9 559.9v1.1M240.9 561.9v4.8M240.9 567.7v1.2M240.9 569.8v6.5M241.8 559.3v2.6M241.8 561.9v5.5M241.8 568.2v6.5M241.8 575.3v1.5M242.7 558.2v1.3M242.7 560v2.7M242.7 563.7v4.7M242.7 568.4v2.6M242.7 571v1.9M242.7 572.9v5.7M243.6 559.7v5.7M243.6 566.4v8.8M243.6 575.3v3.1M244.5 559.1v5.1M244.5 564.2v4.1M244.5 568.8v4M244.5 572.9v1.9M244.5 575.4v0.8M245.4 556.9v2.4M245.4 559.2v1.1M245.4 560.3v2.2M245.4 563.3v1.3M245.4 565.2v2.9M245.4 568.1v6.6M245.4 575.6v1M246.3 558.3v3.7M246.3 563.1v1.6M246.3 564.7v6.6M246.3 571.8v5.4M247.2 559.8v4.3M247.2 564.1v3.9M247.2 568.8v3.9M247.2 573.7v1.4M248.1 558.1v15.8M248.1 574.7v0.4M249 557.4v2.3M249 560.4v2M249 563.3v3.3M249 567.2v5.1M249 572.9v3.3M249.9 557.3v11.2M249.9 568.5v5.3M249.9 573.8v1M249.9 575.3v2M250.8 557.5v2.3M250.8 560.8v16.1M252.7 555.6v4M252.7 559.5v1.1M252.7 561.4v2M252.7 563.9v5.6M252.7 570.5v0.2M253.6 553.8v2.8M253.6 557.6v3.6M253.6 561.7v5.4M253.6 567.1v4.2M254.5 554.3v1.4M254.5 555.7v14.3M254.5 569.9v0.8M254.5 571.3v0.4M255.4 554.7v2.6M255.4 557.3v4.5M255.4 561.8v5.4M255.4 567.2v5.2M256.3 553.5v4.8M256.3 558.3v2.8M256.3 561.1v1.5M256.3 562.6v2.8M256.3 565.5v1.8M256.3 568v2.2M257.2 552.3v10.2M257.2 562.5v7.1M257.2 569.6v1.3M258.1 553.1v1.7M258.1 554.8v9.7M258.1 565.5v5.4M259 553.6v1.2M259 554.8v2.1M259 556.9v2.4M259 560.4v1.4M259 562.7v3.5M259 566.2v2.6M259 568.9v1.7M259.7 555.7v7.6M259.7 563.2v4.7M259.7 568.4v1.5M259.7 570v0.7M260.6 554.1v1.5M260.6 556.1v15M260.6 572v0.5M261.5 556.3v1.3M261.5 557.6v2.4M261.5 560v1.3M261.5 561.3v1.8M261.5 563.9v1.2M261.5 566.1v2M261.5 569v1.7M261.5 571.4v2.5M262.4 556.6v1M262.4 557.6v7.1M262.4 565.2v2.8M262.4 568.8v5.2M262.4 574.6v0.2M263.3 555.4v1M263.3 557.3v10.5M263.3 567.7v1.1M263.3 569.7v3M264.2 554.1v1.2M264.2 555.3v3.4M264.2 559.3v7.8M264.2 567.7v1.9M264.2 569.5v3M264.2 572.5v0.2M265.1 554.7v2.4M265.1 558.2v3.1M265.1 561.8v4.5M265.1 566.8v3M265.1 569.8v3.5M265.1 574.1v0.1M266 557v11M266 568v6.1M266.9 557.1v4M266.9 561v1.1M266.9 562.7v2.8M266.9 566.1v5.6M266.9 571.7v1.1M267.8 557.4v1.7M267.8 560v11.2M267.8 572.2v1.1M268.7 557.4v2.9M268.7 561.4v2.2M268.7 564.2v4.7M268.7 569.6v1.4M268.7 571v0.8M268.7 571.8v1.8M268.7 574.5v0.9M269.6 557.1v1.4M269.6 559.2v3.8M269.6 563.1v1M269.6 564.7v3.9M269.6 569.3v6.1M270.5 555.3v1.9M270.5 557.1v2.6M270.5 560.8v1.2M270.5 562.7v2M270.5 564.7v8M270.5 573.5v1.9M271.4 553.8v1.2M271.4 555.9v3.9M271.4 559.8v8.8M271.4 568.6v1.5M271.4 571.2v2.9M272.3 555.5v2.4M272.3 558.8v1.1M272.3 559.8v4.2M272.3 564.9v6.4M273.2 555.4v4.4M273.2 560.9v6.2M273.2 567.9v4.8M275.6 554.3v4.3M275.6 559.3v2.7M275.6 563v0.9M275.6 563.9v1.7M275.6 566.5v1.9M276.5 551.9v2.1M276.5 554v1.9M276.5 556.5v6M276.5 562.4v5.2M276.5 567.6v1.3M277.4 551.5v4.1M277.4 556.1v3.3M277.4 560.5v8.1M278.3 553.6v3.4M278.3 557.9v3.4M278.3 561.4v1.2M278.3 563.3v3.1M278.3 567.3v1.7M279.2 553.7v2.4M279.2 557.1v10.3M279.2 567.5v1.2M279.2 569.5v1.9M280.1 551.5v3M280.1 554.5v2M280.1 557.5v6M280.1 564v2.6M280.1 567.6v1M280.1 569.6v1M281 553v7.1M281 560.7v5.9M281 567.2v1.3M281 569.6v0.3M281.2 554.4v2.3M281.2 557.3v1.7M281.2 559v2.7M281.2 561.7v6.9M282.1 553.8v6.5M282.1 560.3v5.4M282.1 565.6v5.5M283 553.7v1.3M283 555.7v6.8M283 563.6v7.4M283 570.9v1.3M283 572.3v0.1M283.9 552.6v7.9M283.9 561.3v2.3M283.9 563.6v6.1M283.9 569.7v0.3M284.8 553.4v0.9M284.8 554.3v1.7M284.8 556.5v5.5M284.8 562.8v2.6M284.8 565.4v3.2M285.7 552.7v8.8M285.7 561.6v2.1M285.7 563.7v3.8M285.7 568.3v1.4M286.6 551.8v4.6M286.6 557.2v2.4M286.6 559.6v5M286.6 565.6v0.9M286.6 566.5v2.8M286.6 569.3v2M287.5 552v2.3M287.5 555.3v6.5M287.5 562.8v9.3M288.4 551.2v1.6M288.4 553.5v5.4M288.4 559.8v3.2M288.4 563v1.3M288.4 564.3v7.9M289.3 551.3v9.2M289.3 560.5v5.8M289.3 566.3v2.4M289.3 568.7v1.6M290.2 550.8v11.7M290.2 563.5v3.7M290.2 568.1v2.5M291.1 552.3v2.7M291.1 555.8v1.1M291.1 557.6v5.2M291.1 562.8v1.7M291.1 565.4v1.5M291.1 566.8v3.9M292 552.8v5.2M292 557.9v1.9M292 559.8v9.9M292.9 552.3v1.1M292.9 553.3v4.8M292.9 558.8v4.4M292.9 563.2v2.2M292.9 565.4v1.8M292.9 567.8v2M293.8 553.4v1.7M293.8 555.7v2.1M293.8 558.4v3.1M293.8 562.6v3.1M293.8 565.7v2.5M294.7 554.2v1.1M294.7 555.3v12.7M296.7 553.8v1.8M296.7 556.7v11.5M297.6 553.3v1.4M297.6 555.6v1M297.6 557.5v0.9M297.6 559.4v3.8M297.6 564.2v4M298.5 551.9v9.4M298.5 561.3v1.3M298.5 563.4v4.9M298.5 569.3v0.7M299.4 550.2v4.7M299.4 554.8v5.4M299.4 561.3v9.3M300.3 551.1v2.5M300.3 554.6v6.3M300.3 560.9v6.8M300.3 567.7v1.4M301.2 552.5v1.4M301.2 553.9v3.1M301.2 558.1v1.1M301.2 559.2v5.8M301.2 566v3.6M302.2 553.6v5.6M302.2 560.2v1M302.2 561.2v3.5M302.2 564.7v1.3M302.2 566v1.4M303.1 553.6v1.1M303.1 554.7v8.6M303.1 564.1v3M303.1 567.1v1.6M304 554.3v6.7M304 561.7v3.2M304 565.5v3.3M304.9 553.8v1.7M304.9 555.4v4.1M304.9 559.5v6M304.9 565.5v3.5M304.9 569v1M305.8 552v5.6M305.8 558.4v6.9M305.8 565.3v6.2M306.7 551.2v1.4M306.7 553.4v3.2M306.7 557.3v3.6M306.7 561v3.9M306.7 565.9v2.4M306.7 568.3v1.7M307.6 550.8v3.6M307.6 554.9v1.6M307.6 557.1v4.3M307.6 561.4v7.8M308.5 551.3v4.3M308.5 556.6v4.7M308.5 562.2v2M308.5 564.2v1.8M308.5 566v1M308.5 567.9v1.6M308.5 570v0.7M309.4 552.1v17.8M309.4 569.8v2.4M310.3 551.9v2.1M310.3 554v0.8M310.3 555.9v3.9M310.3 559.8v0.8M310.3 561.3v7M310.3 569.4v1.9M310.3 571.2v1M311.2 552.7v1M311.2 553.7v14.7M311.2 569.4v1.9M312.1 552v18.7M312.1 570.7v0.9M313 552.7v3.6M313 557.3v1.8M313 559.8v1.4M313 561.1v6.4M313 568.4v3.3M313.9 553.4v0.9M313.9 555v1.7M313.9 556.7v1.8M313.9 558.5v1.8M313.9 561v2.5M313.9 564.5v1.7M313.9 566.2v4.3M314.8 551.3v1.5M314.8 553.3v2.2M314.8 556.4v2.7M314.8 560v10.2M316.7 554.1v6.2M316.7 560.3v3.9M316.7 564.2v4.4M316.7 568.6v1M317.6 552.7v2.4M317.6 556v1.7M317.6 558.5v3.3M317.6 562.7v1.5M317.6 564.9v5.6M318.5 551.5v1.8M318.5 553.3v3.3M318.5 557.3v2.6M318.5 559.9v6.8M318.5 567.6v1.6M319.4 552v5.7M319.4 557.7v1.6M319.4 560.3v4.5M319.4 564.8v4.3M319.4 569.1v0.3M320.3 554v3.4M320.3 557.4v12.7M320.3 570.1v0.6M321.2 552.7v3.1M321.2 556.5v3.1M321.2 559.6v8.7M321.2 568.3v3.4M321.4 561.1v7.6M321.4 568.7v1.7M321.4 570.4v3.8M322.3 560.2v4M322.3 564.8v1.6M322.3 567.2v2.4M322.3 569.6v1.2M322.3 570.8v1.8M322.3 572.6v1.8M322.3 574.4v2M323.2 558.8v6M323.2 566v1M323.2 567.6v4.2M323.2 571.8v4.7M324.1 557.5v1.9M324.1 559.4v2.8M324.1 562.2v1.1M324.1 564v0.8M324.1 565.3v2.4M324.1 568.5v2M324.1 570.5v3.3M324.1 573.9v1.2M325 558.7v1.6M325 560.4v2.3M325 563.6v3.7M325 567.8v8.9M325.9 559.1v2.2M325.9 562.3v2.2M325.9 565.6v2.4M325.9 568.6v4.6M325.9 573.2v2.9M325.9 576.7v1.2M326.8 559.1v0.9M326.8 561.1v4.8M326.8 565.9v3.2M326.8 569.7v1.5M326.8 571.2v4.9M326.8 577v0.5M327.6 556v0.9M327.6 557.4v1.1M327.6 558.5v1.3M327.6 560.4v1.9M327.6 562.3v9.1M327.6 571.4v0.1M328.5 555.2v6.6M328.5 561.8v1.7M328.5 564.6v3.6M328.5 568.2v5.8M329.4 556.4v2.9M329.4 560.4v2M329.4 562.4v7M329.4 570.3v2.6M329.4 573.5v1.8M330.3 555.8v5.7M330.3 561.5v8.1M330.3 570.2v2.3M330.3 572.5v0.3M331.2 556.6v3M331.2 560.7v1.6M331.2 562.2v2.3M331.2 564.6v1.1M331.2 566.6v3.1M331.2 570.5v1.7M331.2 572.7v0.5M332.1 556.5v4.2M332.1 561.7v2M332.1 563.7v6.2M332.1 569.9v4.8M333 554.3v1.2M333 556.3v1.4M333 558.7v2.5M333 561.8v3.8M333 566.4v3.5M333 570.7v2M333.9 555.3v5.9M333.9 561.2v3.5M333.9 565.7v2.1M333.9 567.7v1.7M333.9 569.4v1.7M343.4 554.2v3.8M343.4 558.8v7.8M343.4 567.4v1.8M344.3 554.2v4.3M344.3 558.5v3M344.3 562.2v5.2M344.3 567.3v1.6M344.3 568.9v1.9M345.2 555.7v2.2M345.2 557.8v2.2M345.2 561v2M345.2 563v2.1M345.2 566v1.2M345.2 567.2v1M345.2 568.3v0.9M345.2 569.2v1.6M346.1 554.3v1.3M346.1 556.2v12.8M346.1 569.8v0.4M347 553.5v7.1M347 561.5v1.9M347 564v2.9M347 566.8v1.6M347 569.4v1.4M347.9 553.7v8.8M347.9 563.3v2.7M347.9 566.8v5.5M348.8 552.6v9.8M348.8 563.1v5.2M348.8 569.1v1.3M349.7 553.4v1.1M349.7 555.1v3.4M349.7 559.4v2.7M349.7 562.8v5.9M350.6 555.1v2.6M350.6 557.7v7.8M350.6 566v4.9M350.6 570.9v0.1M351.5 555v2M351.5 556.9v2M351.5 559.9v1.1M351.5 561v3.2M351.5 564.7v3.3M351.5 569v2.4M352.4 554.5v8.6M352.4 563.1v8.7M353.3 553.3v17.8M355.7 554.4v2M355.7 556.3v2.4M355.7 558.8v8.4M355.7 568.2v0.3M356.6 552.1v3.6M356.6 555.7v1.4M356.6 557.8v2.6M356.6 561.3v3.8M356.6 565.1v4.3M356.6 569.3v1.1M357.5 552v10M357.5 562.5v2.2M357.5 564.7v5.9M358.4 552.4v6.1M358.4 559.2v5.8M358.4 565.6v4.2M358.4 569.8v1.6M359.3 551.5v1.3M359.3 553.5v11.2M359.3 564.7v2.9M359.3 567.6v3.2M359.7 551.1v3.8M359.7 555.7v1.9M359.7 557.6v1M359.7 559.3v3.2M359.7 563.1v4.1M360.6 549.5v4M360.6 553.5v14M361.5 551.7v4.6M361.5 557.4v6.9M361.5 564.3v1.8M361.5 566.1v2.2M362.4 551.6v3.5M362.4 555.2v3.7M362.4 558.9v3.7M362.4 562.6v0.9M362.4 564.4v4.5M363.3 550v4.3M363.3 555.3v11.1M363.3 567.1v0.7M364.2 551.7v6.4M364.2 558.8v1.7M364.2 560.5v3.4M364.2 564v2.2M364.2 566.1v2.5M365.1 550.7v3.3M365.1 554.8v6.5M365.1 562.1v5.9M366 550.8v3.2M366 554v1.4M366 555.4v2.6M366 559v1M366 560.6v1.3M366 562.9v3.8M366.9 552v6.8M366.9 558.8v1.7M366.9 560.5v6.2M367.8 549.7v1.2M367.8 550.8v6M367.8 556.8v7.1M367.8 563.9v2.2M367.8 566.1v2.2M368.7 549.2v3.7M368.7 553.6v3.5M368.7 558.1v8.5M368.7 567.5v2.6M369.6 549.5v1.2M369.6 551.6v3M369.6 554.6v1.4M369.6 556.7v8.2M369.6 565.5v3.3M370.5 551.1v4.6M370.5 555.7v2.6M370.5 558.9v2.3M370.5 562.1v5M371.4 551.8v1.3M371.4 553.7v2M371.4 555.7v1.6M371.4 558v7.8M371.4 565.8v2.4M372.3 549.4v3.7M372.3 553.1v1.8M372.3 555.5v3.2M372.3 558.8v1.4M372.3 561.3v3.1M372.3 565.4v3.3M373.2 549.1v9.8M373.2 558.9v2.1M373.2 561.7v2.9M373.2 565.6v3.2M376.8 556.1v2.9M376.8 559v6.1M376.8 565.1v2.1M376.8 568.1v2M376.8 570.2v0.4M377.7 554.6v15.7M377.7 571.3v0.8M377.7 572.1v0.7M378.6 554.8v1.6M378.6 556.4v3.6M378.6 560v3.2M378.6 564.1v1.7M378.6 566.2v1.8M378.6 568.1v5.6M379.5 555.1v4.7M379.5 560.6v4M379.5 564.6v1.6M379.5 566.9v1.2M379.5 569v3.8M380.4 556.9v1.4M380.4 558.9v3.3M380.4 563.3v10.6M381.3 556.2v1.8M381.3 558v11.8M381.3 570.5v2.2M381.3 573.4v0.7M382.2 555.7v8.8M382.2 565.2v1.2M382.2 567v1.5M382.2 569.3v2.8M383.1 555.5v2.3M383.1 557.7v6.3M383.1 564v3.1M383.1 567.7v4.9M384 556v8.4M384 565.4v1.8M384 568.2v2.3M384 571.4v1.5M384 572.9v2.2M384.9 557.7v0.9M384.9 559.2v1.4M384.9 561.1v6.3M384.9 568.4v6.7M385.8 555.8v10.2M385.8 566.8v7M386.7 553.9v3.6M386.7 557.5v1.2M386.7 558.7v6M386.7 564.7v4M386.7 569.8v1.2M386.7 571v1.4M387.6 554.9v1M387.6 555.8v2.5M387.6 558.3v3M387.6 561.4v2.1M387.6 563.9v3.2M387.6 568.1v4.8M388.5 554.7v1.1M388.5 555.8v5.4M388.5 561.2v0.9M388.5 562v2.8M388.5 564.8v6.7M388.5 572.1v3.2M389.4 555.5v5.5M389.4 561.6v8.8M389.4 570.4v3.9M389.4 575v1M390.3 557.9v1.2M390.3 559.1v7.2M390.3 566.3v1M390.3 567.3v3.2M390.3 571.1v3.3M390.3 574.4v1.3M390.3 575.7v0.4M391.2 557v3.8M391.2 560.8v3.3M391.2 565.2v1.6M391.2 567.5v2.1M391.2 570.4v0.9M391.2 571.3v3.1M391.2 574.4v0.6M394.3 553v1.3M394.3 554.3v1.5M394.3 556.6v8.9M394.3 566.1v0M395.2 552.6v2.8M395.2 555.4v1.4M395.2 557.4v1.6M395.2 559.8v5.8M395.2 566.4v0.5M396.1 551v9.7M396.1 561.8v3.4M396.1 565.2v2.5M397 549v5M397 554.8v1.6M397 557.2v4.8M397 562.5v5.1M397 568.1v0.1M397.9 550v1.8M397.9 552.5v2.3M397.9 554.8v6.2M397.9 561v6.9M398.8 552.1v1.4M398.8 554.4v6.8M398.8 561.2v2.8M398.8 565.1v2M399.7 550.9v7.4M399.7 559.2v2.3M399.7 561.6v2M399.7 564.2v2.7M400.6 549.5v2M400.6 552v15.4M400.6 568.3v0.3M401.5 549.6v1.4M401.5 551.1v4.5M401.5 556.2v8.1M401.5 564.9v1.8M401.5 567.4v1.2M402.4 548.9v0.9M402.4 549.9v0.9M402.4 551.3v4M402.4 555.4v1.3M402.4 557.7v4.9M402.4 563.5v4.6M403.3 549.7v1.3M403.3 551.7v1.3M403.3 553.8v3.6M403.3 558.4v1.1M403.3 560.6v7.6M404.2 550v6.2M404.2 556.3v1.2M404.2 558.1v8.1M404.2 566.9v1.5M405.1 549.7v8.3M405.1 558.5v5.8M405.1 564.3v2.4M405.1 567.3v2.4M406 550.8v3.3M406 554.1v8.3M406 563.4v2.6M406 566v3.1M409.5 549v2.7M409.5 551.7v7.1M409.5 558.8v1.7M409.5 561v1.4M410.4 548.2v3.7M410.4 551.9v2M410.4 553.9v4.9M410.4 558.8v3M410.4 562.5v0.9M411.3 548.6v8.2M411.3 556.8v6.7M411.3 564.1v1.9M411.3 566v0.2M412.2 548.5v4M412.2 553.5v2.2M412.2 555.7v2.2M412.2 558.5v6.9M413.1 546.7v3.5M413.1 550.2v12.9M426.2 555.6v2.2M426.2 558.5v2.2M426.2 561.7v5.5M426.2 567.7v1.4M427.1 554.4v6.8M427.1 561.2v1.3M427.1 563.3v1.2M427.1 565.4v4.3M428 553.4v1M428 555.4v7.8M428 563.2v1.1M428 564.3v1.5M428 566.4v3.7M428.9 552.4v10.4M428.9 563.6v4.7M428.9 569.1v1.2M428.9 570.2v0.3M429.8 552.3v3.4M429.8 555.7v5.7M429.8 562.2v1.4M429.8 564.2v1.1M429.8 566.4v4.5M430.7 553v0.9M430.7 554.7v4M430.7 559.7v1.8M430.7 561.4v3.4M430.7 565.9v2.6M430.7 569.3v2.3M431.6 552.6v5.2M431.6 557.8v12M431.6 569.8v1.6M432.5 553v6.1M432.5 560.1v3.2M432.5 564.1v5.3M432.5 569.5v1.1M433.4 554.4v3.2M433.4 557.6v2.9M433.4 561v3M433.4 564.7v1.2M433.4 566.4v1.5M433.4 568.6v2.3M435.5 559.2v3.2M435.5 563v8.1M435.5 571.1v1.4M436.4 558v1.9M436.4 559.8v5.3M436.4 566v6.8M437.3 557v8M437.3 565.7v1.3M437.3 567.8v3M437.3 571.4v1.1M438.2 556v9.7M438.2 565.8v1M438.2 567.6v1.8M438.2 569.4v5.3M447.7 552.3v1.2M447.7 553.4v1.5M447.7 555.5v3M447.7 559.4v4.4M447.7 563.8v4.6M448.6 550.8v3.2M448.6 554.9v1.5M448.6 556.3v3.5M448.6 559.8v3.2M448.6 563.9v5.1M448.6 569.7v1.3M449.5 551.8v3.1M449.5 554.9v1M449.5 557.1v1.9M449.5 559v2.1M449.5 561.8v7.2M449.5 552.6v3.6M449.5 556.9v0.9M449.5 557.9v9.1M449.5 567v0.1M450.4 551.8v4.5M450.4 556.3v5.5M450.4 562.8v3.5M450.4 566.4v2.9M451.3 552.2v8.1M451.3 560.3v3.2M451.3 564.5v1.1M451.3 566.4v2.1M452.2 552.3v2.3M452.2 554.6v8.9M452.2 563.5v1.9M452.2 566v2.1M453.1 550.7v2.4M453.1 554.1v1M453.1 555.1v7.6M453.1 563.8v4.4M453.1 569v1M454 548.9v0.8M454 549.7v4.5M454 554.1v1.1M454 556.2v2.4M454 559.7v1.6M454 561.3v1M454 562.3v5.5M454 568.8v0.3M454.9 549.3v5.2M454.9 555.5v6.5M454.9 562.1v4.7M454.9 567.4v2.1M455.8 549.6v18.6M455.8 568.8v0.6M456.7 550.8v7.6M456.7 559.2v2.8M456.7 563.2v1.9M456.7 565.9v1.3M457.6 550.8v1M457.6 551.8v1.3M457.6 553.1v1M457.6 554.1v1.4M457.6 556.2v5.7M457.6 562.6v2.6M457.6 565.9v2.4M459.7 553.8v0.9M459.7 555.7v8M459.7 563.8v4.2M459.7 568.7v1.4M459.7 570.7v0M460.6 552.2v2M460.6 554.2v1.9M460.6 556.1v1.6M460.6 557.7v3.6M460.6 561.9v3.1M460.6 566.1v1.6M460.6 568.3v4.8M461.5 554.7v5.1M461.5 560.4v3M461.5 563.4v2.5M461.5 565.9v2.7M461.5 569.2v1.9M461.8 555.9v4.1M461.8 560v4.6M461.8 565.1v5.1M462.7 555.8v3.1M462.7 559.6v1.1M462.7 560.7v1.7M462.7 562.3v1.5M462.7 563.8v4.2M462.7 568v4.6M463.6 555.1v6.9M463.6 562v4M463.6 567.1v6.1M464.5 554.3v4.8M464.5 559.1v6.5M464.5 566.3v6.4M464.5 572.7v0.5M465.4 555.3v3M465.4 559.3v1.1M465.4 560.4v1.7M465.4 563.1v4.8M465.4 568.7v2M471.2 559.9v12.6M471.2 572.5v1.5M471.2 573.9v1.5M472.1 558.5v2.2M472.1 561.2v4.1M472.1 566.3v3.8M472.1 570.1v1.1M472.1 571.2v3.3M472.1 574.5v1.4M473 559.4v3.9M473 563.9v5.7M473 570.5v3.6M473 574.1v2.2M473.9 558.8v3.3M473.9 562.9v1.9M473.9 565.4v8.7M473.9 575.1v1.1M478.4 547.2v3.8M478.4 551v4.7M478.4 556.5v3.3M478.4 560.4v4.3M479.3 545.3v3.3M479.3 548.6v4.6M479.3 554v12.6M480.2 547.8v6.9M480.2 555.7v6.4M480.2 562.1v1.8M480.2 563.9v0.7M481.1 548.2v1.2M481.1 550.1v1.2M481.1 551.3v1.8M481.1 553.1v4.8M481.1 558.8v2.1M481.1 561.5v3.1M482 546.9v2.3M482 549.8v5.5M482 555.3v1.3M482 557.4v0.9M482 559v1.3M482 560.3v1.3M482 561.6v4.2M485.3 547.9v2.6M485.3 551.3v3.9M485.3 555.2v2M485.3 557.8v1.2M485.3 559v3.4M486.2 545.4v14.2M486.2 559.6v2.1M486.2 562.4v2.4M487.1 544.9v1.4M487.1 546.9v1.1M487.1 548.6v6.4M487.1 555.1v1M487.1 556v7.3M487.1 563.3v1.7M488 547.1v11.6M488 559.8v2.9M488.9 546.6v4.6M488.9 551.3v1.7M488.9 553.6v7.6M489.8 545v1M489.8 546v6.1M489.8 552.9v3.2M489.8 556.1v3.5M489.8 560.4v1.6M489.8 562.8v0M491.6 550v5.4M491.6 555.3v9M492.5 549.5v0.8M492.5 551v1.5M492.5 553.1v4.5M492.5 558.2v4.9M492.5 563.6v1.7M493.4 548.1v1.9M493.4 549.9v1.4M493.4 551.3v4.5M493.4 556.3v2M493.4 559.4v1.3M493.4 560.7v1.1M493.4 561.8v3.1M494.3 546.5v1.8M494.3 549.1v1.1M494.3 550.8v9.6M494.3 560.4v2M494.3 562.4v1.4M495.2 546.7v6.2M495.2 553.9v2.2M495.2 556.7v5.3M495.2 562.9v0.9M496.1 546.4v1.4M496.1 547.8v0.9M496.1 549.4v5.9M496.1 555.2v4.8M496.1 560.6v4.4M496.1 565v0.3M497 546.1v3.4M497 549.5v9.9M497 559.4v3.3M497 562.7v3.2M497.9 547.3v2.6M497.9 550.6v5.6M497.9 556.2v2.9M497.9 559.1v1.3M497.9 561.3v3.6M498.8 547.2v4.5M498.8 552.2v3.8M498.8 557v4.6M498.8 561.6v3.8M498.8 565.4v0.3M499.4 548.8v3.5M499.4 553.4v5.1M499.4 558.5v1.8M499.4 561.2v2.2M500.3 548.6v16M501.2 548.6v5.5M501.2 555v1.6M501.2 556.6v0.9M501.2 558.1v2.3M501.2 560.4v0.9M501.2 561.3v1.1M501.2 562.4v4M502.1 546.6v2.9M502.1 549.4v0.9M502.1 550.4v4.5M502.1 554.8v1.4M502.1 557v4.1M502.1 561.1v1.5M502.1 562.6v5.3M503 546v2.8M503 549.6v1.3M503 551.5v1.5M503 553v2.4M503 555.4v3.7M503 559.1v8.4M503.9 547.1v3.7M503.9 551.8v1M503.9 552.7v2.2M503.9 555.8v9.8M504.8 548.7v11.7M504.8 561.3v1.6M504.8 562.9v3.1M504.8 566v0.4M505.7 548.1v1.3M505.7 549.9v1.5M505.7 551.4v2.5M505.7 554.6v1M505.7 555.6v1.7M505.7 558.2v9M506.6 547.4v2.7M506.6 550.9v3.4M506.6 555.4v2.3M506.6 557.6v6.6M506.6 564.2v1.7M507.5 549v0.8M507.5 550.6v11.7M507.5 562.4v2.6M508.4 548.6v1.4M508.4 550v1M508.4 551.7v13.4M509.3 546.7v10.1M509.3 557.4v2.1M509.3 559.5v1.2M509.3 560.7v4.7M510.2 546.6v3.1M510.2 550.2v1.8M510.2 552v3.8M510.2 556.5v1M510.2 557.5v5.7M511.1 546v1.8M511.1 548.7v4M511.1 553.7v3.4M511.1 558v5.7M512 547.9v2.8M512 550.7v4.7M512 555.3v3.8M512 559.2v6.5M336 574.4v0.1M336.9 574.4v0.1M337.8 574.4v0.1M338.7 574.4v0.1M339.6 574.4v0.2M340.5 574.4v0.2M341.4 574.4v0.2M342.3 574.4v0.2" stroke="#0a0aec" stroke-width="1.25" fill="none"/><path d="M72.6 570.5h1.6v1.6h-1.6zM71.6 565.7h1.6v1.6h-1.6zM75.4 565.9h1.6v1.6h-1.6zM77.1 549.4h1.6v1.6h-1.6zM78.6 570h1.6v1.6h-1.6zM76.8 545.9h1.6v1.6h-1.6zM73.1 551.3h1.6v1.6h-1.6zM78.4 542.5h1.6v1.6h-1.6zM81 554.9h1.6v1.6h-1.6zM79.8 571.8h1.6v1.6h-1.6zM79.2 552.2h1.6v1.6h-1.6zM81.8 547.2h1.6v1.6h-1.6zM81.8 575.9h1.6v1.6h-1.6zM83.4 572.4h1.6v1.6h-1.6zM86.4 562.5h1.6v1.6h-1.6zM86.4 561.4h1.6v1.6h-1.6zM88.1 563.7h1.6v1.6h-1.6zM119.8 567.4h1.6v1.6h-1.6zM111.1 545.4h1.6v1.6h-1.6zM111.6 569.2h1.6v1.6h-1.6zM118 574.3h1.6v1.6h-1.6zM110.7 571.1h1.6v1.6h-1.6zM116.4 548.3h1.6v1.6h-1.6zM110.6 553.9h1.6v1.6h-1.6zM112.6 569.6h1.6v1.6h-1.6zM122 552.1h1.6v1.6h-1.6zM114.8 546.2h1.6v1.6h-1.6zM127.9 558.2h1.6v1.6h-1.6zM132.7 574.3h1.6v1.6h-1.6zM129 574.3h1.6v1.6h-1.6zM127.1 571.8h1.6v1.6h-1.6zM130.4 558.7h1.6v1.6h-1.6zM129.2 557.6h1.6v1.6h-1.6zM125.1 559h1.6v1.6h-1.6zM139.4 555.3h1.6v1.6h-1.6zM139.1 557.9h1.6v1.6h-1.6zM131.7 572.3h1.6v1.6h-1.6zM131.6 556.7h1.6v1.6h-1.6zM133 558.8h1.6v1.6h-1.6zM140.6 573.8h1.6v1.6h-1.6zM122.7 557.2h1.6v1.6h-1.6zM140.1 558.6h1.6v1.6h-1.6zM128.5 573.3h1.6v1.6h-1.6zM139.4 575.8h1.6v1.6h-1.6zM130.3 553.2h1.6v1.6h-1.6zM138.1 558.6h1.6v1.6h-1.6zM131.9 575h1.6v1.6h-1.6zM144.2 573h1.6v1.6h-1.6zM148.7 578.8h1.6v1.6h-1.6zM146.3 555.7h1.6v1.6h-1.6zM146.3 555.9h1.6v1.6h-1.6zM154.1 576.5h1.6v1.6h-1.6zM153.2 576.2h1.6v1.6h-1.6zM152.3 574.2h1.6v1.6h-1.6zM146.1 571.1h1.6v1.6h-1.6zM143.4 572.7h1.6v1.6h-1.6zM145.8 577.2h1.6v1.6h-1.6zM167.9 570.8h1.6v1.6h-1.6zM162.5 567.8h1.6v1.6h-1.6zM166.6 565.7h1.6v1.6h-1.6zM160.7 552.5h1.6v1.6h-1.6zM161.8 548.7h1.6v1.6h-1.6zM160.9 552.9h1.6v1.6h-1.6zM161.7 552.7h1.6v1.6h-1.6zM163.7 572.3h1.6v1.6h-1.6zM159.9 567.2h1.6v1.6h-1.6zM167.5 568.3h1.6v1.6h-1.6zM158.2 544.6h1.6v1.6h-1.6zM163.4 543.9h1.6v1.6h-1.6zM163.1 567.4h1.6v1.6h-1.6zM160.3 568.9h1.6v1.6h-1.6zM163.6 572h1.6v1.6h-1.6zM162.3 547.1h1.6v1.6h-1.6zM156.8 551.9h1.6v1.6h-1.6zM169.7 547.4h1.6v1.6h-1.6zM175.7 580.8h1.6v1.6h-1.6zM173.1 575.5h1.6v1.6h-1.6zM176.1 559.5h1.6v1.6h-1.6zM172.2 572.5h1.6v1.6h-1.6zM221.8 569.5h1.6v1.6h-1.6zM209.7 572.3h1.6v1.6h-1.6zM207.6 570.1h1.6v1.6h-1.6zM224 566.9h1.6v1.6h-1.6zM208.7 568.1h1.6v1.6h-1.6zM208.6 571.9h1.6v1.6h-1.6zM221 566.9h1.6v1.6h-1.6zM207.5 549.5h1.6v1.6h-1.6zM218.7 569.8h1.6v1.6h-1.6zM208 568.6h1.6v1.6h-1.6zM211.3 553.6h1.6v1.6h-1.6zM215.2 569.5h1.6v1.6h-1.6zM223.6 566.8h1.6v1.6h-1.6zM210.9 570.5h1.6v1.6h-1.6zM210.1 552h1.6v1.6h-1.6zM223.5 569.2h1.6v1.6h-1.6zM212.3 569.6h1.6v1.6h-1.6zM216.4 567.3h1.6v1.6h-1.6zM212.5 553.1h1.6v1.6h-1.6zM208.8 567.3h1.6v1.6h-1.6zM226.7 569.9h1.6v1.6h-1.6zM227.9 569.9h1.6v1.6h-1.6zM232.8 556.2h1.6v1.6h-1.6zM229.9 569h1.6v1.6h-1.6zM239.6 577.1h1.6v1.6h-1.6zM241.2 559.9h1.6v1.6h-1.6zM241.5 582.2h1.6v1.6h-1.6zM234.1 576.2h1.6v1.6h-1.6zM249.8 557h1.6v1.6h-1.6zM234.5 559.8h1.6v1.6h-1.6zM240 582h1.6v1.6h-1.6zM241.2 558.9h1.6v1.6h-1.6zM241 577.2h1.6v1.6h-1.6zM241.5 558.9h1.6v1.6h-1.6zM237.7 561h1.6v1.6h-1.6zM241.5 558.7h1.6v1.6h-1.6zM236.1 575h1.6v1.6h-1.6zM245.9 558.6h1.6v1.6h-1.6zM234.4 582.7h1.6v1.6h-1.6zM246.9 577.6h1.6v1.6h-1.6zM237.4 559.8h1.6v1.6h-1.6zM252 576.6h1.6v1.6h-1.6zM257.1 552.6h1.6v1.6h-1.6zM256.4 553.8h1.6v1.6h-1.6zM255.4 572.4h1.6v1.6h-1.6zM264 574.3h1.6v1.6h-1.6zM259.1 570.2h1.6v1.6h-1.6zM267.8 554.8h1.6v1.6h-1.6zM267.4 575.9h1.6v1.6h-1.6zM270.9 569.6h1.6v1.6h-1.6zM261.7 556.8h1.6v1.6h-1.6zM259.1 552.5h1.6v1.6h-1.6zM263.4 556.4h1.6v1.6h-1.6zM261.6 569.9h1.6v1.6h-1.6zM276.4 550.6h1.6v1.6h-1.6zM276.7 571.2h1.6v1.6h-1.6zM275.9 550.2h1.6v1.6h-1.6zM279.6 567.4h1.6v1.6h-1.6zM278 572.8h1.6v1.6h-1.6zM282.5 554.4h1.6v1.6h-1.6zM293 568.3h1.6v1.6h-1.6zM285.4 567.9h1.6v1.6h-1.6zM288.5 551h1.6v1.6h-1.6zM289.7 551.9h1.6v1.6h-1.6zM287.9 574.6h1.6v1.6h-1.6zM287.2 551.2h1.6v1.6h-1.6zM285.2 571.7h1.6v1.6h-1.6zM287.7 569.5h1.6v1.6h-1.6zM285 553.6h1.6v1.6h-1.6zM291.2 566.8h1.6v1.6h-1.6zM280.7 569.5h1.6v1.6h-1.6zM283 572.2h1.6v1.6h-1.6zM290.3 574.7h1.6v1.6h-1.6zM287.9 551.9h1.6v1.6h-1.6zM293 573.8h1.6v1.6h-1.6zM286.3 569h1.6v1.6h-1.6zM285.7 547.2h1.6v1.6h-1.6zM298.6 574.8h1.6v1.6h-1.6zM298.9 566.7h1.6v1.6h-1.6zM297.9 551.8h1.6v1.6h-1.6zM305.3 569.9h1.6v1.6h-1.6zM305.5 569.2h1.6v1.6h-1.6zM302.1 568.2h1.6v1.6h-1.6zM303.9 567h1.6v1.6h-1.6zM302.5 551.9h1.6v1.6h-1.6zM308.3 575.5h1.6v1.6h-1.6zM308.7 550.5h1.6v1.6h-1.6zM313.8 570.6h1.6v1.6h-1.6zM310.6 554.1h1.6v1.6h-1.6zM306.1 568.8h1.6v1.6h-1.6zM317.7 571h1.6v1.6h-1.6zM318 570.2h1.6v1.6h-1.6zM321.4 557.8h1.6v1.6h-1.6zM324.4 559.5h1.6v1.6h-1.6zM325.7 556.8h1.6v1.6h-1.6zM323.4 579.6h1.6v1.6h-1.6zM320.7 559.9h1.6v1.6h-1.6zM327.2 557.2h1.6v1.6h-1.6zM327.8 555.5h1.6v1.6h-1.6zM328.5 570.5h1.6v1.6h-1.6zM328.8 557.3h1.6v1.6h-1.6zM329 571.9h1.6v1.6h-1.6zM332 570.3h1.6v1.6h-1.6zM329.5 569.9h1.6v1.6h-1.6zM327.3 571.4h1.6v1.6h-1.6zM348.5 572.9h1.6v1.6h-1.6zM344.4 567.5h1.6v1.6h-1.6zM350.1 569.3h1.6v1.6h-1.6zM347.6 554.9h1.6v1.6h-1.6zM343.1 552.6h1.6v1.6h-1.6zM344.6 567.6h1.6v1.6h-1.6zM349.4 550.4h1.6v1.6h-1.6zM346.8 553.6h1.6v1.6h-1.6zM352.6 572.5h1.6v1.6h-1.6zM350.1 573h1.6v1.6h-1.6zM345.9 553.5h1.6v1.6h-1.6zM351.5 548.5h1.6v1.6h-1.6zM346.1 574.1h1.6v1.6h-1.6zM355.6 552.3h1.6v1.6h-1.6zM356.5 567.8h1.6v1.6h-1.6zM356.9 553.2h1.6v1.6h-1.6zM355.7 546.7h1.6v1.6h-1.6zM372.2 568.6h1.6v1.6h-1.6zM367.7 570.5h1.6v1.6h-1.6zM359.2 569.5h1.6v1.6h-1.6zM364.6 551h1.6v1.6h-1.6zM360.1 548.2h1.6v1.6h-1.6zM364.6 565.2h1.6v1.6h-1.6zM366.9 571.4h1.6v1.6h-1.6zM367.6 548.2h1.6v1.6h-1.6zM364.6 565h1.6v1.6h-1.6zM367.1 551.8h1.6v1.6h-1.6zM363.3 551.3h1.6v1.6h-1.6zM362.2 544.7h1.6v1.6h-1.6zM369.7 550.8h1.6v1.6h-1.6zM359.5 568h1.6v1.6h-1.6zM364.1 569.7h1.6v1.6h-1.6zM363.1 552.5h1.6v1.6h-1.6zM359.8 549.3h1.6v1.6h-1.6zM362.1 566h1.6v1.6h-1.6zM388 570h1.6v1.6h-1.6zM379 572.3h1.6v1.6h-1.6zM386.8 570.5h1.6v1.6h-1.6zM384.2 555.6h1.6v1.6h-1.6zM384.5 555.7h1.6v1.6h-1.6zM377.9 554.8h1.6v1.6h-1.6zM382.2 557.3h1.6v1.6h-1.6zM381.7 555h1.6v1.6h-1.6zM379.5 577.5h1.6v1.6h-1.6zM381.6 556.3h1.6v1.6h-1.6zM388.4 550.7h1.6v1.6h-1.6zM386.4 552.7h1.6v1.6h-1.6zM382.9 554.3h1.6v1.6h-1.6zM388.9 572.3h1.6v1.6h-1.6zM403 573.2h1.6v1.6h-1.6zM400 551.4h1.6v1.6h-1.6zM399.9 551.8h1.6v1.6h-1.6zM404.5 549.4h1.6v1.6h-1.6zM395.3 547.7h1.6v1.6h-1.6zM399.7 568.4h1.6v1.6h-1.6zM398.2 552.6h1.6v1.6h-1.6zM399.2 569.6h1.6v1.6h-1.6zM402.9 550h1.6v1.6h-1.6zM401.6 569.8h1.6v1.6h-1.6zM398.8 547.8h1.6v1.6h-1.6zM404.8 573.7h1.6v1.6h-1.6zM412.4 568.4h1.6v1.6h-1.6zM412 562.2h1.6v1.6h-1.6zM409.6 561.9h1.6v1.6h-1.6zM426.4 570.3h1.6v1.6h-1.6zM432.6 553.3h1.6v1.6h-1.6zM430.2 551h1.6v1.6h-1.6zM427.9 554.4h1.6v1.6h-1.6zM425.7 569.7h1.6v1.6h-1.6zM430.2 555h1.6v1.6h-1.6zM437.4 574.5h1.6v1.6h-1.6zM436.7 551.4h1.6v1.6h-1.6zM447.8 550.1h1.6v1.6h-1.6zM452.3 549.5h1.6v1.6h-1.6zM454.4 550.8h1.6v1.6h-1.6zM459.5 567.7h1.6v1.6h-1.6zM460.7 576.3h1.6v1.6h-1.6zM459.7 554.7h1.6v1.6h-1.6zM463.1 554.2h1.6v1.6h-1.6zM463.8 569.6h1.6v1.6h-1.6zM464.8 568.4h1.6v1.6h-1.6zM464.1 555.5h1.6v1.6h-1.6zM461.4 548h1.6v1.6h-1.6zM463 549.2h1.6v1.6h-1.6zM470.4 576h1.6v1.6h-1.6zM472.2 557h1.6v1.6h-1.6zM473.4 577.3h1.6v1.6h-1.6zM473.5 578.9h1.6v1.6h-1.6zM478.9 547h1.6v1.6h-1.6zM480.4 543.7h1.6v1.6h-1.6zM478.3 566.1h1.6v1.6h-1.6zM481.1 562.4h1.6v1.6h-1.6zM485.4 544.9h1.6v1.6h-1.6zM486.6 543.5h1.6v1.6h-1.6zM485 543.8h1.6v1.6h-1.6zM485.8 565h1.6v1.6h-1.6zM488.8 544h1.6v1.6h-1.6zM492.8 546.2h1.6v1.6h-1.6zM497.9 546.5h1.6v1.6h-1.6zM495 562.6h1.6v1.6h-1.6zM497.6 563.4h1.6v1.6h-1.6zM491.7 568.8h1.6v1.6h-1.6zM493.5 546.1h1.6v1.6h-1.6zM496.3 564.2h1.6v1.6h-1.6zM491 564.6h1.6v1.6h-1.6zM491.7 565.4h1.6v1.6h-1.6zM493.1 548h1.6v1.6h-1.6zM510.8 547.4h1.6v1.6h-1.6zM506.6 542.1h1.6v1.6h-1.6zM506.7 570.1h1.6v1.6h-1.6zM504.5 549.5h1.6v1.6h-1.6zM504.3 548.8h1.6v1.6h-1.6zM510.2 565.4h1.6v1.6h-1.6zM509.7 566.6h1.6v1.6h-1.6zM500.4 562.4h1.6v1.6h-1.6zM503.5 548h1.6v1.6h-1.6zM499.4 548.8h1.6v1.6h-1.6zM507.7 548.3h1.6v1.6h-1.6zM498.8 548.4h1.6v1.6h-1.6zM510.2 565.2h1.6v1.6h-1.6zM510.9 548h1.6v1.6h-1.6zM340.2 573.8h1.6v1.6h-1.6zM335.8 573.6h1.6v1.6h-1.6zM340.4 573.8h1.6v1.6h-1.6zM336.8 573.6h1.6v1.6h-1.6zM71.5 587.8h1.6v1.6h-1.6zM120.1 609.5h1.6v1.6h-1.6zM149.6 621.6h1.6v1.6h-1.6zM177.7 591.2h1.6v1.6h-1.6zM177.7 604.3h1.6v1.6h-1.6zM218.2 588.9h1.6v1.6h-1.6zM462.7 600.7h1.6v1.6h-1.6zM358.2 580.7h1.6v1.6h-1.6z" fill="#0a0aec"/><path d="M91.2 545.2v1.1M91.2 546.9v0.9M91.2 548.4v3.9M91.2 553.2v4.6M91.2 557.8v0.3M92.1 542.5v5.3M92.1 547.8v1M92.1 548.8v8.6M92.1 557.4v1.1M93 542.2v3.3M93 545.4v6.5M93 551.9v3.9M93 555.8v3.4M93.9 544.2v1.3M93.9 546.1v7.1M93.9 553.2v4.3M93.9 557.5v1.4M94.8 542.4v3.2M94.8 546.6v1M94.8 547.6v1.8M94.8 550.1v5.4M94.8 556.4v3.1M95 542.9v6.8M95 549.7v2.9M95 553.2v3.1M95.9 542.5v11.5M95.9 555v2.8M96.8 540.6v8.8M96.8 549.9v0.8M96.8 551.5v2.1M96.8 554.3v2.1M96.8 556.4v0.7M97.7 538.7v9.9M97.7 548.6v7.4M98.6 539.6v3.9M98.6 544.2v1.9M98.6 546.7v7.1M98.6 554.9v1.8M98.6 557.5v0.6M99.5 539.4v4.3M99.5 543.7v10.7M99.5 555.3v1M99.5 556.3v2.9M99.5 559.2v0.8M100.4 538v3M100.4 541.7v5.5M100.4 547.2v1.9M100.4 549v2.1M100.4 551.1v2.6M100.4 554.2v1.6M100.4 555.9v1.8M101.3 537.7v1.3M101.3 539.5v2.3M101.3 542.4v1.8M101.3 544.3v8.4M101.3 552.7v2.7M101.3 556.2v0.4M102.2 539.4v1.3M102.2 541.6v7.8M102.2 550v1.8M102.2 552.6v6.4M103.1 539.8v0.9M103.1 540.7v8.7M103.1 550.3v0.8M103.1 552.1v5.6M104 537.9v1.2M104 539.9v4.8M104 544.7v5.3M104 550v5.8M104.9 540.2v1.7M104.9 541.9v4.4M104.9 546.9v1.8M104.9 548.7v5M104.9 554.3v3.4M104.9 557.7v0.2M105 543v1M105 544.7v9.6M105 555v3.5M105.9 540.8v0.9M105.9 542.2v9.6M105.9 552.8v7.8M179.3 546v2.3M179.3 548.3v1.5M179.3 550.8v5.4M179.3 556.3v0.9M179.3 557.8v1.6M179.3 560.1v0.9M180.2 545.5v3.8M180.2 549.2v1.8M180.2 552v2.3M180.2 555.3v6M180.2 561.8v1.5M181.1 546v1.2M181.1 547.2v1.6M181.1 548.9v5.6M181.1 555.4v2.6M181.1 558v3.8M182 543.9v10.1M182 554v5.5M182 559.5v1.1M182.9 542.1v3.3M182.9 545.4v1.3M182.9 546.7v1M182.9 547.7v6.5M182.9 555v6.1M183.8 543.2v1M183.8 545v1.6M183.8 547.2v5.1M183.8 552.3v1.8M183.8 554.8v2.9M183.8 557.7v2.3M184.7 544.8v2.2M184.7 547v3.6M184.7 550.6v1.4M184.7 552v4M184.7 557v4M185.6 545.3v1M185.6 546.9v5M185.6 552.5v2.2M185.6 555.4v1.4M185.6 557.3v3.5M186.5 545.4v14.5M186.5 560v1.2M187.4 545.9v0.8M187.4 546.7v4.4M187.4 551.1v10.4M187.4 561.5v0.7M188.3 546.1v7.2M188.3 553.9v4.4M188.3 558.2v4.1M189.2 544.3v2.2M189.2 547.5v2.2M189.2 550.5v2.4M189.2 552.9v1.8M189.2 555.5v4.3M189.2 559.7v3.2M190.1 541.8v3.2M190.1 545.7v3.8M190.1 550.4v1.4M190.1 552.9v1.1M190.1 554.8v1.5M190.1 556.4v0.8M190.1 557.2v5M191 542.9v4.6M191 548.2v2.2M191 551.4v6.9M191 558.3v1.4M191 560.5v0.4M191.9 545.2v3M191.9 548.2v9.2M191.9 557.4v3M192.8 544.7v1M192.8 545.7v4.1M192.8 550.7v11.2M193.7 544.1v8.4M193.7 553.1v4.8M193.7 558.4v3.5M194.6 544.7v3.7M194.6 549v1.5M194.6 550.5v3.6M194.6 555.1v1.8M194.6 557.7v1.8M194.6 560.3v0.8M195.5 545.2v3.9M195.5 549.8v1.1M195.5 551.9v3.6M195.5 555.5v5.7M196.4 544.4v7M196.4 552v8.5M197.3 542.5v6M197.3 549.2v2.4M197.3 552.5v1.6M197.3 555.1v2.7M197.3 557.8v1.6M198.2 543v8M198.2 551.9v2.3M198.2 554.1v4.8M198.2 558.9v1.3M198.2 561.1v0.5M200.8 564.9v1.1M200.8 566v8.1M200.8 574.7v1.5M200.8 577.2v3.8M201.7 564.5v5.6M201.7 570.1v2.6M201.7 572.8v2.2M201.7 575.8v1M201.7 576.7v2.2M201.7 579.8v1.8M201.7 582.2v0M202.6 564.5v4.1M202.6 568.6v2.2M202.6 571.4v1.3M202.6 572.7v1.1M202.6 573.8v2.7M202.6 577.4v2.8M203.5 563.7v5.5M203.5 570.2v5.8M203.5 576v2.1M203.5 578.1v2.1M204.4 564.6v1.3M204.4 566.7v4.5M204.4 571.2v2.4M204.4 573.6v1.7M204.4 575.3v1.1M204.4 577v1M204.4 578.9v1.5M204.4 580.4v2.4M204.4 583.4v0.1M205.3 565.4v6.1M205.3 572.6v3.2M205.3 575.8v2.3M205.3 578.1v3M205.3 582.1v0.2M206.2 566.3v2.6M206.2 568.9v1M206.2 569.9v2.6M206.2 572.6v8.7M413.5 559.5v1.3M413.5 562v6.4M413.5 569.4v5.1M414.4 558.1v3.4M414.4 561.4v5.4M414.4 566.8v7.3M414.4 574.9v0.3M415.3 559.9v3.8M415.3 564.8v2.8M415.3 568.3v3.9M415.3 572.8v1.1M415.3 573.9v1.3M416.2 559v1.5M416.2 561.4v4M416.2 565.9v2.8M416.2 569.6v7.9M417.1 557.2v1.7M417.1 559.9v2.2M417.1 562.9v1.4M417.1 565.2v2.2M417.1 567.4v1.5M417.1 569.8v2.9M417.1 572.7v1.2M417.1 573.9v2.4M418 557.9v3M418 561.8v4.1M418 566.5v3M418 570.5v5.4M418.9 558.9v4.3M418.9 563.1v1.8M418.9 564.9v11.3M419.8 559.3v7.8M419.8 567.9v8.1M420.7 558.9v4.3M420.7 563.2v4.7M420.7 568.4v0.9M420.7 569.9v3.4M420.7 573.3v1.6M420.7 574.9v2.5M422.5 561.5v7.6M422.5 569.8v0.8M422.5 570.6v2.7M422.5 573.3v2.4M423.4 558.8v10M423.4 568.8v1.1M423.4 569.9v1.7M423.4 572.3v5.5M424.3 559.9v3.2M424.3 563.1v3.4M424.3 566.5v2.2M424.3 569.6v5M424.3 574.7v2.1M424.3 576.8v3.1M425.2 561.5v1.1M425.2 563.2v1.3M425.2 565.4v5.4M425.2 570.8v1.6M425.2 572.4v6.9M426.1 561.2v2.6M426.1 564.3v7.8M426.1 572.2v6M438.2 563.4v1.1M438.2 565.6v2.3M438.2 567.9v0.9M438.2 569.7v1.2M438.2 570.8v2.9M438.2 574.7v1.2M439.1 563.3v4.3M439.1 567.6v9.1M440 563.1v5.8M440 570v4M440 574.7v1.3M440 576v2.9M440.9 563.2v13.4M440.9 577.3v0.8M441.8 561.3v4.1M441.8 566.3v4.1M441.8 570.4v3.3M441.8 574.4v3M442.7 560.7v3.6M442.7 565.4v3.8M442.7 570v7.6M442.7 578.4v1.4M443.6 561.4v3.9M443.6 566v5.2M443.6 572v2.1M443.6 574.1v4.5M444.5 561.3v3.3M444.5 565.2v5.9M444.5 571.8v1.8M444.5 573.6v3.4M445.4 562.2v4.3M445.4 567.5v4.8M445.4 573.1v3.6M467.7 559.5v3.1M467.7 562.6v2.4M467.7 565v3.2M467.7 569.2v2M467.7 572.3v1.1M468.6 559.1v3.3M468.6 563.1v3.3M468.6 567.1v8.6M469.5 558.6v3.4M469.5 562v1.1M469.5 563.8v5.6M469.5 569.3v6.1M470.4 558.5v5.1M470.4 563.6v1M470.4 565.3v3M470.4 568.3v3.7M470.4 571.9v1.6" stroke="#0f9a2a" stroke-width="1.25" fill="none"/><path d="M92.2 558.2h1.6v1.6h-1.6zM92.8 541.1h1.6v1.6h-1.6zM93 541.3h1.6v1.6h-1.6zM91.5 542.9h1.6v1.6h-1.6zM103.8 555.4h1.6v1.6h-1.6zM96.7 558.5h1.6v1.6h-1.6zM94.4 538h1.6v1.6h-1.6zM96.8 540.5h1.6v1.6h-1.6zM96.5 534.7h1.6v1.6h-1.6zM101 554.3h1.6v1.6h-1.6zM99.2 537.5h1.6v1.6h-1.6zM97.1 559.5h1.6v1.6h-1.6zM98.4 539.8h1.6v1.6h-1.6zM94.7 554.5h1.6v1.6h-1.6zM97.5 554.5h1.6v1.6h-1.6zM179.4 543h1.6v1.6h-1.6zM190.4 558.9h1.6v1.6h-1.6zM180.7 561h1.6v1.6h-1.6zM182.3 539.6h1.6v1.6h-1.6zM186 560.5h1.6v1.6h-1.6zM189.1 562.9h1.6v1.6h-1.6zM195.7 558.4h1.6v1.6h-1.6zM191.9 545.8h1.6v1.6h-1.6zM195.1 541h1.6v1.6h-1.6zM190.5 560.5h1.6v1.6h-1.6zM183.7 544.3h1.6v1.6h-1.6zM198 560.4h1.6v1.6h-1.6zM191 542.4h1.6v1.6h-1.6zM195.7 563.8h1.6v1.6h-1.6zM193.1 542.2h1.6v1.6h-1.6zM184.9 559.7h1.6v1.6h-1.6zM181.2 558.2h1.6v1.6h-1.6zM189.4 562.2h1.6v1.6h-1.6zM201.3 583.8h1.6v1.6h-1.6zM201.3 579.6h1.6v1.6h-1.6zM201.7 563.4h1.6v1.6h-1.6zM200.9 581.5h1.6v1.6h-1.6zM202.8 578h1.6v1.6h-1.6zM205.1 577.3h1.6v1.6h-1.6zM203.4 581.6h1.6v1.6h-1.6zM202.6 561.5h1.6v1.6h-1.6zM204.9 582.1h1.6v1.6h-1.6zM415.3 560.5h1.6v1.6h-1.6zM415.5 559.7h1.6v1.6h-1.6zM419.8 580h1.6v1.6h-1.6zM418 559.3h1.6v1.6h-1.6zM419.2 574.5h1.6v1.6h-1.6zM418.6 573.8h1.6v1.6h-1.6zM423.6 557.5h1.6v1.6h-1.6zM423.5 576.2h1.6v1.6h-1.6zM425.1 559.6h1.6v1.6h-1.6zM438.2 560.8h1.6v1.6h-1.6zM441.8 576.7h1.6v1.6h-1.6zM442.8 560.9h1.6v1.6h-1.6zM437.7 557.1h1.6v1.6h-1.6zM437.7 579.7h1.6v1.6h-1.6zM441.6 579.7h1.6v1.6h-1.6zM444.1 554.8h1.6v1.6h-1.6zM468.2 557.6h1.6v1.6h-1.6zM469.9 572.4h1.6v1.6h-1.6zM466.9 575.6h1.6v1.6h-1.6zM499.7 556.7h1.6v1.6h-1.6zM500.6 555.9h1.6v1.6h-1.6zM499.6 552.3h1.6v1.6h-1.6zM499.9 554.3h1.6v1.6h-1.6zM499.8 564.8h1.6v1.6h-1.6zM500.1 556.3h1.6v1.6h-1.6zM499.3 547.7h1.6v1.6h-1.6zM499.8 554.1h1.6v1.6h-1.6zM500 564.8h1.6v1.6h-1.6zM500 557.8h1.6v1.6h-1.6zM500.3 551.6h1.6v1.6h-1.6zM499.9 553.3h1.6v1.6h-1.6zM499.8 555.9h1.6v1.6h-1.6zM498.9 552.1h1.6v1.6h-1.6zM499.7 556.5h1.6v1.6h-1.6zM499.9 560.7h1.6v1.6h-1.6zM499.9 559h1.6v1.6h-1.6zM500.3 555.9h1.6v1.6h-1.6zM498.1 553.5h1.6v1.6h-1.6zM500.4 562.5h1.6v1.6h-1.6zM501.5 547.3h1.6v1.6h-1.6zM499.3 562h1.6v1.6h-1.6zM500.5 556.2h1.6v1.6h-1.6zM500.4 553.9h1.6v1.6h-1.6zM501.6 558.5h1.6v1.6h-1.6zM499.9 548.2h1.6v1.6h-1.6zM502.3 552.3h1.6v1.6h-1.6zM499.4 552.5h1.6v1.6h-1.6zM499.8 564.3h1.6v1.6h-1.6zM500.6 564.9h1.6v1.6h-1.6zM503.5 553.6h1.6v1.6h-1.6zM503 557.4h1.6v1.6h-1.6zM504.1 563.6h1.6v1.6h-1.6zM503.5 552.2h1.6v1.6h-1.6zM503.2 555.5h1.6v1.6h-1.6zM502.7 553.1h1.6v1.6h-1.6zM503.4 561.4h1.6v1.6h-1.6zM503.8 564.7h1.6v1.6h-1.6zM503.1 560.2h1.6v1.6h-1.6zM502.2 553.1h1.6v1.6h-1.6zM502.4 563.6h1.6v1.6h-1.6zM503.9 553.2h1.6v1.6h-1.6zM504.3 561h1.6v1.6h-1.6zM504 561.9h1.6v1.6h-1.6zM344.6 565.5h1.6v1.6h-1.6zM344.4 575.5h1.6v1.6h-1.6zM343.6 565.2h1.6v1.6h-1.6zM345.2 575.5h1.6v1.6h-1.6zM344.2 570.3h1.6v1.6h-1.6zM344.9 569.8h1.6v1.6h-1.6zM342.4 570.3h1.6v1.6h-1.6zM345 568.3h1.6v1.6h-1.6zM344.2 571.4h1.6v1.6h-1.6zM343.9 569.6h1.6v1.6h-1.6zM342.1 571.8h1.6v1.6h-1.6zM343.6 577.2h1.6v1.6h-1.6zM344.7 576.4h1.6v1.6h-1.6zM344.2 578.8h1.6v1.6h-1.6zM343 576.8h1.6v1.6h-1.6zM345.1 578.1h1.6v1.6h-1.6zM343.9 570.6h1.6v1.6h-1.6zM343.5 565.3h1.6v1.6h-1.6zM462.6 551.2h1.6v1.6h-1.6zM462.2 567.1h1.6v1.6h-1.6zM464 551.5h1.6v1.6h-1.6zM462.9 557h1.6v1.6h-1.6zM461.8 562h1.6v1.6h-1.6zM463.7 559h1.6v1.6h-1.6zM463.3 563.4h1.6v1.6h-1.6zM461.7 558.8h1.6v1.6h-1.6zM462.3 559.1h1.6v1.6h-1.6zM461.7 558.8h1.6v1.6h-1.6zM462.8 563h1.6v1.6h-1.6zM462.8 556.6h1.6v1.6h-1.6zM219.2 580.1h1.6v1.6h-1.6zM437.9 609.4h1.6v1.6h-1.6zM439.5 624.9h1.6v1.6h-1.6zM439.5 629.2h1.6v1.6h-1.6zM408.6 612.2h1.6v1.6h-1.6zM403.2 593.2h1.6v1.6h-1.6zM420.2 599.2h1.6v1.6h-1.6zM497.2 544.2h1.6v1.6h-1.6z" fill="#0f9a2a"/><path d="M72.5 558.7h3v3h-3zM73.6 558.3h3v3h-3zM74.7 558.4h3v3h-3zM75.8 558.6h3v3h-3zM76.9 558.5h3v3h-3zM78 558.6h3v3h-3zM79.8 562.8h3v3h-3zM80.9 563.2h3v3h-3zM82.3 567.3h3v3h-3zM83.4 567.4h3v3h-3zM84.8 562.1h3v3h-3zM85.9 561.5h3v3h-3zM86.8 553.3h3v3h-3zM87.9 553.1h3v3h-3zM91.5 553.1h3v3h-3zM92.6 553.4h3v3h-3zM93.7 552.5h3v3h-3zM95.3 550.2h3v3h-3zM96.4 549.9h3v3h-3zM97.5 550.3h3v3h-3zM98.6 550.1h3v3h-3zM99.7 547.1h3v3h-3zM100.8 548.3h3v3h-3zM101.9 548.3h3v3h-3zM103 550.4h3v3h-3zM104.1 551.3h3v3h-3zM105.3 551.8h3v3h-3zM108.7 564.3h3v3h-3zM110.3 559.2h3v3h-3zM111.4 559.4h3v3h-3zM112.5 559.6h3v3h-3zM113.6 559.3h3v3h-3zM114.7 559.4h3v3h-3zM115.8 561.1h3v3h-3zM116.9 560.2h3v3h-3zM118 560.4h3v3h-3zM119.1 560.8h3v3h-3zM120.2 561.2h3v3h-3zM121.3 559.9h3v3h-3zM122.4 560.6h3v3h-3zM123.3 563.9h3v3h-3zM124.4 564.4h3v3h-3zM125.5 563.9h3v3h-3zM126.6 564.5h3v3h-3zM127.7 563.7h3v3h-3zM128.8 562h3v3h-3zM129.9 561.4h3v3h-3zM131 563.9h3v3h-3zM132.1 564.2h3v3h-3zM133.2 564h3v3h-3zM134.3 566.4h3v3h-3zM135.4 566.9h3v3h-3zM136.5 565.9h3v3h-3zM137.6 566.3h3v3h-3zM138.7 566.4h3v3h-3zM139.8 562.2h3v3h-3zM140.9 562.5h3v3h-3zM144.3 562.8h3v3h-3zM145.4 562.2h3v3h-3zM146.5 562.4h3v3h-3zM147.6 562.4h3v3h-3zM148.7 564.2h3v3h-3zM149.8 563.9h3v3h-3zM150.9 564h3v3h-3zM152 564.3h3v3h-3zM153.1 563.9h3v3h-3zM154.2 563.2h3v3h-3zM155.3 563.3h3v3h-3zM156.3 556.3h3v3h-3zM157.4 556.6h3v3h-3zM158.5 556.8h3v3h-3zM159.6 557h3v3h-3zM160.7 557.1h3v3h-3zM161.8 557.1h3v3h-3zM162.9 556.6h3v3h-3zM164 557.5h3v3h-3zM165.1 557h3v3h-3zM166.2 560.9h3v3h-3zM167.3 561.7h3v3h-3zM168.4 555.9h3v3h-3zM169.5 555.8h3v3h-3zM172.7 562h3v3h-3zM173.8 562h3v3h-3zM174.9 562.3h3v3h-3zM176 561.9h3v3h-3zM177.1 561.7h3v3h-3zM178.2 563.8h3v3h-3zM179.6 552.6h3v3h-3zM180.7 552.6h3v3h-3zM181.8 552.6h3v3h-3zM182.9 552.9h3v3h-3zM184 553.1h3v3h-3zM185.1 553h3v3h-3zM186.2 550.4h3v3h-3zM187.3 551.4h3v3h-3zM188.4 551.4h3v3h-3zM189.5 551.2h3v3h-3zM190.6 551.3h3v3h-3zM191.7 550.6h3v3h-3zM192.8 550.4h3v3h-3zM193.9 550.3h3v3h-3zM195 553.8h3v3h-3zM196.1 554.1h3v3h-3zM197.2 553.4h3v3h-3zM198.3 549.2h3v3h-3zM201.1 571.6h3v3h-3zM202.2 571h3v3h-3zM203.3 571.1h3v3h-3zM204.4 571.7h3v3h-3zM205.5 571.6h3v3h-3zM206.8 560.4h3v3h-3zM207.9 560.6h3v3h-3zM209 560.4h3v3h-3zM210.1 561.1h3v3h-3zM211.2 555.7h3v3h-3zM212.3 556.1h3v3h-3zM213.4 558.3h3v3h-3zM214.5 558.5h3v3h-3zM215.6 558.8h3v3h-3zM216.7 559.4h3v3h-3zM217.8 558.9h3v3h-3zM218.9 560.3h3v3h-3zM220 560.9h3v3h-3zM221.1 559.2h3v3h-3zM222.2 558.3h3v3h-3zM223.3 558.4h3v3h-3zM224.4 556.6h3v3h-3zM227.8 564h3v3h-3zM228.9 563.4h3v3h-3zM230 563h3v3h-3zM231.1 564.4h3v3h-3zM232.2 564.3h3v3h-3zM233.3 562.9h3v3h-3zM234.9 563.1h3v3h-3zM236 562.7h3v3h-3zM237.1 562.9h3v3h-3zM238.2 562.9h3v3h-3zM239.3 562.8h3v3h-3zM240.4 565.6h3v3h-3zM241.5 565.4h3v3h-3zM242.6 565.7h3v3h-3zM243.7 565.5h3v3h-3zM244.8 565.5h3v3h-3zM245.9 565.6h3v3h-3zM247 566.7h3v3h-3zM248.1 568.1h3v3h-3zM249.2 567.4h3v3h-3zM250.3 566.8h3v3h-3zM253 561.8h3v3h-3zM254.1 562.5h3v3h-3zM255.2 561.7h3v3h-3zM256.3 562.8h3v3h-3zM257.4 562.4h3v3h-3zM258.5 562.5h3v3h-3zM260 562.2h3v3h-3zM261.1 562h3v3h-3zM262.2 562.2h3v3h-3zM263.3 561.3h3v3h-3zM264.4 561.1h3v3h-3zM265.5 561h3v3h-3zM266.6 561.1h3v3h-3zM267.7 561.1h3v3h-3zM268.8 559.4h3v3h-3zM269.9 559.5h3v3h-3zM271 559.1h3v3h-3zM272.1 559h3v3h-3zM273.2 559.5h3v3h-3zM275.9 561.4h3v3h-3zM277 560.2h3v3h-3zM278.1 560.4h3v3h-3zM279.2 561.3h3v3h-3zM280.3 560.8h3v3h-3zM281.5 563.4h3v3h-3zM282.6 562.3h3v3h-3zM283.7 562.5h3v3h-3zM284.8 563.2h3v3h-3zM285.9 563.1h3v3h-3zM287 560.3h3v3h-3zM288.1 560.2h3v3h-3zM289.2 560.1h3v3h-3zM290.3 560.4h3v3h-3zM291.4 560.5h3v3h-3zM292.5 557.6h3v3h-3zM293.6 557.3h3v3h-3zM297 556.3h3v3h-3zM298.1 555.9h3v3h-3zM299.2 556.7h3v3h-3zM300.3 555.9h3v3h-3zM302.5 564.6h3v3h-3zM303.6 564.4h3v3h-3zM304.7 564.3h3v3h-3zM305.8 563.7h3v3h-3zM306.9 558.7h3v3h-3zM308 558.8h3v3h-3zM309.1 558.6h3v3h-3zM310.2 558.4h3v3h-3zM311.3 559.2h3v3h-3zM312.4 560h3v3h-3zM313.5 560.9h3v3h-3zM317 561.9h3v3h-3zM318.1 561.9h3v3h-3zM319.2 561.6h3v3h-3zM320.3 561.4h3v3h-3zM321.7 567.8h3v3h-3zM322.8 567.8h3v3h-3zM323.9 567.6h3v3h-3zM325 568.1h3v3h-3zM326.1 567.8h3v3h-3zM327.9 561.8h3v3h-3zM329 562.5h3v3h-3zM330.1 562.5h3v3h-3zM331.2 562h3v3h-3zM332.3 564.1h3v3h-3zM333.4 563.4h3v3h-3zM343.7 560.9h3v3h-3zM344.8 561.1h3v3h-3zM345.9 561.2h3v3h-3zM347 558.8h3v3h-3zM348.1 558.9h3v3h-3zM349.2 559.2h3v3h-3zM350.3 558.9h3v3h-3zM351.4 560.4h3v3h-3zM352.5 560.2h3v3h-3zM356 559.8h3v3h-3zM357.1 560.7h3v3h-3zM358.2 560.1h3v3h-3zM360 558.7h3v3h-3zM361.1 557.9h3v3h-3zM362.2 558.6h3v3h-3zM363.3 558.1h3v3h-3zM364.4 559h3v3h-3zM365.5 555.5h3v3h-3zM366.6 555.6h3v3h-3zM367.7 555.8h3v3h-3zM368.8 556.4h3v3h-3zM369.9 557.5h3v3h-3zM371 557.4h3v3h-3zM372.1 557.4h3v3h-3zM377.1 562.7h3v3h-3zM378.2 562.6h3v3h-3zM379.3 563.3h3v3h-3zM380.4 562.5h3v3h-3zM381.5 562.4h3v3h-3zM382.6 562.6h3v3h-3zM383.7 561.7h3v3h-3zM384.8 562.9h3v3h-3zM385.9 564.4h3v3h-3zM387 564.8h3v3h-3zM388.1 564.8h3v3h-3zM389.2 564.2h3v3h-3zM390.3 564.2h3v3h-3zM394.6 560.4h3v3h-3zM395.7 560.1h3v3h-3zM396.8 560h3v3h-3zM397.9 559.4h3v3h-3zM399 557.2h3v3h-3zM400.1 556.5h3v3h-3zM401.2 557.8h3v3h-3zM402.3 557.6h3v3h-3zM403.4 556.9h3v3h-3zM404.5 558.7h3v3h-3zM409.8 553.3h3v3h-3zM410.9 553.9h3v3h-3zM412 553.8h3v3h-3zM413.8 566h3v3h-3zM414.9 565.4h3v3h-3zM416 566.2h3v3h-3zM417.1 563.1h3v3h-3zM418.2 562.9h3v3h-3zM419.3 563.3h3v3h-3zM422.8 568.9h3v3h-3zM423.9 568.9h3v3h-3zM425 568.9h3v3h-3zM426.5 562.7h3v3h-3zM427.6 562.4h3v3h-3zM428.7 562h3v3h-3zM429.8 563.1h3v3h-3zM430.9 563.1h3v3h-3zM432 559.3h3v3h-3zM433.1 559.2h3v3h-3zM435.8 566.6h3v3h-3zM436.9 566.2h3v3h-3zM438.5 566.9h3v3h-3zM439.6 566.5h3v3h-3zM440.7 567.2h3v3h-3zM441.8 567.3h3v3h-3zM442.9 567.4h3v3h-3zM444 566.6h3v3h-3zM445.1 567.1h3v3h-3zM448 561.2h3v3h-3zM449.8 559.4h3v3h-3zM450.9 559.4h3v3h-3zM452 559.6h3v3h-3zM453.1 559.7h3v3h-3zM454.2 558.5h3v3h-3zM455.3 559.4h3v3h-3zM456.4 560.1h3v3h-3zM460 559.9h3v3h-3zM461.1 559.8h3v3h-3zM462.1 560.2h3v3h-3zM463.2 560.8h3v3h-3zM464.3 560.4h3v3h-3zM468 566.6h3v3h-3zM469.1 566.1h3v3h-3zM470.2 566.5h3v3h-3zM471.5 566.9h3v3h-3zM472.6 567.9h3v3h-3zM473.7 567h3v3h-3zM485.6 555.7h3v3h-3zM486.7 556h3v3h-3zM487.8 555.9h3v3h-3zM488.9 555.5h3v3h-3zM491.9 555.5h3v3h-3zM493 555.5h3v3h-3zM494.1 554.9h3v3h-3zM495.2 553.9h3v3h-3zM496.3 555.8h3v3h-3zM497.4 555.1h3v3h-3zM498.5 555h3v3h-3zM499.7 554.5h3v3h-3zM500.8 554.4h3v3h-3zM501.9 553.7h3v3h-3zM503 553.5h3v3h-3zM504.1 554.1h3v3h-3zM505.2 555.5h3v3h-3zM506.3 555.1h3v3h-3zM507.4 555.4h3v3h-3zM508.5 555.4h3v3h-3zM509.6 557.2h3v3h-3zM510.7 557.9h3v3h-3zM511.8 557.8h3v3h-3zM336.3 575.1h3v3h-3zM337.4 574.5h3v3h-3zM338.5 575.2h3v3h-3zM339.6 575.1h3v3h-3zM340.7 572.2h3v3h-3zM341.8 572.6h3v3h-3z" fill="#ff1414"/><path d="M336.5 572.3h2v2h-2zM336.7 582.7h2v2h-2zM335.6 575h2v2h-2zM336.5 571.5h2v2h-2zM340 573.3h2v2h-2zM338 565h2v2h-2zM337.1 582.8h2v2h-2zM339.9 565h2v2h-2zM335.4 573.1h2v2h-2zM335.3 574.3h2v2h-2zM336.3 580.6h2v2h-2zM340.9 579.3h2v2h-2zM336.2 575.3h2v2h-2zM340.6 570.1h2v2h-2zM338.2 569.4h2v2h-2zM338.5 580.4h2v2h-2zM338 583.5h2v2h-2zM337.7 577.6h2v2h-2zM341.3 569.9h2v2h-2zM340.1 567.6h2v2h-2zM337.1 572.2h2v2h-2zM341.1 569h2v2h-2zM340.8 567.9h2v2h-2zM338.5 577.8h2v2h-2zM338.3 583.5h2v2h-2zM338.5 568h2v2h-2zM337.9 578.7h2v2h-2zM334.8 565h2v2h-2zM342.1 568.8h2v2h-2zM340.3 576.3h2v2h-2zM336.8 570.6h2v2h-2zM339.2 571.8h2v2h-2zM340 575.1h2v2h-2zM337.8 582h2v2h-2zM338.1 568.4h2v2h-2zM337.3 572h2v2h-2zM341.5 577.3h2v2h-2zM337 571.2h2v2h-2zM338.4 574.2h2v2h-2zM342.1 571.2h2v2h-2zM336.7 572.5h2v2h-2zM337.4 578.4h2v2h-2zM338.4 571.7h2v2h-2zM337.8 570.5h2v2h-2zM337.9 573.7h2v2h-2zM341.5 569.6h2v2h-2zM340.8 574.2h2v2h-2zM336.5 582.6h2v2h-2zM339.1 568.7h2v2h-2zM337.5 572.1h2v2h-2zM336.1 574.7h2v2h-2zM338.2 580.2h2v2h-2zM337.8 566.2h2v2h-2zM340.7 578.9h2v2h-2zM336.8 580.4h2v2h-2zM338.5 569.4h2v2h-2zM339.7 575.4h2v2h-2zM337.5 576.4h2v2h-2zM337 574.2h2v2h-2zM338.9 577h2v2h-2zM339.3 565h2v2h-2zM337.5 576h2v2h-2zM339.8 569.9h2v2h-2zM340.3 570.3h2v2h-2zM340.6 575h2v2h-2zM338.8 568.1h2v2h-2zM336.9 575.2h2v2h-2zM338.8 573.5h2v2h-2zM337.7 580.3h2v2h-2zM337 576.7h2v2h-2zM340 576h2v2h-2zM338.6 568.9h2v2h-2zM341.5 580.5h2v2h-2zM336.6 570.5h2v2h-2zM336.4 567.8h2v2h-2zM338.2 569.8h2v2h-2zM338.4 576.2h2v2h-2zM337 568.7h2v2h-2zM340 578.2h2v2h-2zM338 570.2h2v2h-2zM339.1 575.3h2v2h-2zM340.1 574.9h2v2h-2zM337.1 570.7h2v2h-2zM338.6 567.6h2v2h-2zM336.8 578.1h2v2h-2zM339.8 576.7h2v2h-2zM340.9 572.9h2v2h-2zM337.1 574.7h2v2h-2zM340 569.9h2v2h-2zM341.9 579.7h2v2h-2zM335.9 570.4h2v2h-2zM339.7 575.7h2v2h-2zM340.4 576.1h2v2h-2zM338.1 572h2v2h-2zM339.1 576.3h2v2h-2zM337 572.8h2v2h-2zM338.4 572.3h2v2h-2zM336.2 576.5h2v2h-2zM335.4 574.1h2v2h-2zM336.8 574.2h2v2h-2zM341 583.5h2v2h-2zM339.7 573.3h2v2h-2zM336.1 573.1h2v2h-2zM338.9 567.1h2v2h-2zM337.2 575.7h2v2h-2zM338.9 572.3h2v2h-2zM336.4 575.4h2v2h-2zM336.4 583.1h2v2h-2zM337.9 571.9h2v2h-2zM340.5 570.1h2v2h-2zM337.3 577.1h2v2h-2zM335.6 575.7h2v2h-2zM337 568.7h2v2h-2zM338.3 573.6h2v2h-2zM338.2 576.1h2v2h-2zM336.4 578.9h2v2h-2zM341.5 567.5h2v2h-2zM337.2 573.9h2v2h-2zM335.7 575.5h2v2h-2zM338 572.9h2v2h-2zM339.3 572.2h2v2h-2zM337.3 576.6h2v2h-2zM338.5 576.8h2v2h-2zM340.5 569.5h2v2h-2zM338.9 579.6h2v2h-2zM338.5 574.2h2v2h-2zM339.2 576.6h2v2h-2zM338.7 572.1h2v2h-2zM339 571.7h2v2h-2zM338.6 573.4h2v2h-2zM334.4 573.5h2v2h-2zM339 576.1h2v2h-2zM338.2 569.9h2v2h-2zM335.7 565h2v2h-2zM338.8 578.5h2v2h-2zM340.8 582.1h2v2h-2zM336.1 577h2v2h-2zM336.7 565.7h2v2h-2zM338.1 571.8h2v2h-2zM339.4 577.2h2v2h-2zM338.6 580.7h2v2h-2zM341.8 572.8h2v2h-2zM340 580.9h2v2h-2zM337.9 572.3h2v2h-2zM338.7 571.8h2v2h-2zM339.5 578.6h2v2h-2zM337.7 577.7h2v2h-2zM338.1 583.3h2v2h-2zM339.6 581.2h2v2h-2zM339.9 571.3h2v2h-2zM337.5 576.6h2v2h-2zM336.6 579.8h2v2h-2zM338.1 583.5h2v2h-2zM336.8 569.4h2v2h-2zM340.4 573.4h2v2h-2zM335.6 580.9h2v2h-2zM338.8 574.5h2v2h-2zM337.1 575.6h2v2h-2zM338.8 572.2h2v2h-2zM338.1 576.9h2v2h-2zM336.7 581.4h2v2h-2zM338.3 571.7h2v2h-2zM338.9 568.9h2v2h-2zM339.5 580.2h2v2h-2zM335.2 573.8h2v2h-2zM338.7 570.8h2v2h-2zM335.8 569.5h2v2h-2zM335.6 576.6h2v2h-2zM335.9 575.2h2v2h-2zM337.5 580.4h2v2h-2zM337.4 576.5h2v2h-2zM339 571.9h2v2h-2zM337.1 577.5h2v2h-2zM337.7 569.1h2v2h-2zM338.6 577.7h2v2h-2zM337.7 579.8h2v2h-2zM336.4 565h2v2h-2zM336.4 579.7h2v2h-2zM336.2 573h2v2h-2zM338.2 575.4h2v2h-2zM341.1 578.9h2v2h-2zM340.2 571.8h2v2h-2zM339.9 578h2v2h-2zM335 574.2h2v2h-2zM336.3 565h2v2h-2zM337.1 579.6h2v2h-2zM337.2 582.6h2v2h-2zM340.3 576.4h2v2h-2zM338.6 572.7h2v2h-2zM337.3 574.4h2v2h-2zM335.4 579.1h2v2h-2zM342 580.7h2v2h-2zM338.3 582.1h2v2h-2zM338 566.2h2v2h-2zM339 580.5h2v2h-2zM337.2 577.9h2v2h-2zM339.3 573.1h2v2h-2zM336.6 576.7h2v2h-2zM340.2 577.4h2v2h-2zM340 580h2v2h-2zM322.7 545.1h2v2h-2zM323.6 551.3h2v2h-2zM323.9 544.1h2v2h-2zM325.2 547.8h2v2h-2zM323.4 554.2h2v2h-2zM325.8 546.5h2v2h-2zM324.7 547.1h2v2h-2zM323.8 546.2h2v2h-2zM324.2 545.8h2v2h-2zM325 552h2v2h-2zM324.2 542.7h2v2h-2zM325.7 546.8h2v2h-2zM326.8 551.9h2v2h-2zM324.5 555.4h2v2h-2zM323.1 549.3h2v2h-2zM325.5 549.6h2v2h-2zM324.5 544.5h2v2h-2zM326.4 544h2v2h-2zM321.7 546.6h2v2h-2zM325.9 549.1h2v2h-2zM324.1 548.7h2v2h-2zM325.1 547.3h2v2h-2zM323.6 547.4h2v2h-2zM323.4 552.1h2v2h-2zM324.3 551.4h2v2h-2zM323.6 544.1h2v2h-2zM327.4 554.3h2v2h-2zM325.3 550.8h2v2h-2zM324.3 552.8h2v2h-2zM321.7 549.5h2v2h-2zM326 552.1h2v2h-2zM323.8 546.8h2v2h-2zM323.6 552.5h2v2h-2zM326.3 544.4h2v2h-2zM324 549.2h2v2h-2zM323 554.8h2v2h-2zM323.3 550.6h2v2h-2zM324.3 548.1h2v2h-2zM323.3 544.1h2v2h-2zM325.6 551.7h2v2h-2zM325.2 546.5h2v2h-2zM323.3 548.3h2v2h-2zM323.3 547.7h2v2h-2zM322.8 556.6h2v2h-2zM322.8 540.5h2v2h-2zM323.8 552.9h2v2h-2zM322.7 555.1h2v2h-2zM323.2 553.5h2v2h-2zM325.3 553.5h2v2h-2zM324.2 557.5h2v2h-2zM322.3 556.4h2v2h-2zM323.4 547.5h2v2h-2zM321.7 546.1h2v2h-2zM323.7 541.9h2v2h-2zM322.8 546.7h2v2h-2zM326.2 554.9h2v2h-2zM323.3 544.5h2v2h-2zM323.8 555.5h2v2h-2zM323.4 548.4h2v2h-2zM326.9 548.6h2v2h-2zM323.4 542h2v2h-2zM324.1 545.2h2v2h-2zM327.4 546.6h2v2h-2zM323.9 545.2h2v2h-2zM324.1 549h2v2h-2zM326.5 544.1h2v2h-2zM323.3 546.5h2v2h-2zM324.6 548.2h2v2h-2zM323.7 550.8h2v2h-2zM323.6 546.6h2v2h-2zM322.3 543.6h2v2h-2zM324 550.1h2v2h-2zM327.1 549.6h2v2h-2zM323.1 549.9h2v2h-2zM325.2 549.4h2v2h-2zM327.4 549h2v2h-2zM325.7 550h2v2h-2zM322.8 549.9h2v2h-2zM324.9 554.7h2v2h-2zM322 540.5h2v2h-2zM325.5 550.9h2v2h-2zM325.4 551h2v2h-2zM324.6 550h2v2h-2zM324.9 546h2v2h-2zM324.5 541.6h2v2h-2zM324.6 548.1h2v2h-2zM322.3 544.9h2v2h-2zM323.3 544.9h2v2h-2zM322.3 552.4h2v2h-2zM323.3 548.2h2v2h-2zM323 549.1h2v2h-2zM325.3 554.6h2v2h-2zM325.5 543.9h2v2h-2zM325.9 549.3h2v2h-2zM324.6 546.9h2v2h-2zM322.5 548.8h2v2h-2zM323.4 548.2h2v2h-2zM326.7 549.7h2v2h-2zM325.5 553.7h2v2h-2zM322.4 548h2v2h-2zM327.3 556.1h2v2h-2zM324.5 540.8h2v2h-2zM325.4 554.9h2v2h-2zM323 553.3h2v2h-2zM324.1 545.1h2v2h-2zM325.9 547.6h2v2h-2zM322.4 550.3h2v2h-2zM326.2 556h2v2h-2zM323.1 556.4h2v2h-2zM325 550.6h2v2h-2zM477.4 545.4h2v2h-2zM476.5 539.5h2v2h-2zM482.1 542.2h2v2h-2zM479.6 547.2h2v2h-2zM481.2 544.5h2v2h-2zM479.8 538.9h2v2h-2zM480.5 547.8h2v2h-2zM481.5 538.9h2v2h-2zM481 545.7h2v2h-2zM480.1 550.7h2v2h-2zM478.3 545.1h2v2h-2zM480.7 540.2h2v2h-2zM476.5 546.7h2v2h-2zM479.1 547.9h2v2h-2zM478.9 539.6h2v2h-2zM478.6 539.4h2v2h-2zM480.7 537.8h2v2h-2zM479.5 537.1h2v2h-2zM479.2 538.6h2v2h-2zM480.6 546.1h2v2h-2zM479.6 543.4h2v2h-2zM480 537.4h2v2h-2zM477.4 543.6h2v2h-2zM480.5 543.7h2v2h-2zM479.7 541.5h2v2h-2zM481 538.9h2v2h-2zM482.7 541h2v2h-2zM478.6 545h2v2h-2zM477.3 545.8h2v2h-2zM477.4 544.4h2v2h-2zM482.3 542.3h2v2h-2zM477.2 542.1h2v2h-2zM477.7 543h2v2h-2zM476.6 547.7h2v2h-2zM481.7 542.3h2v2h-2zM479.1 542h2v2h-2zM476.5 538.7h2v2h-2zM479.9 550.3h2v2h-2zM479.7 549.7h2v2h-2zM479.3 548.6h2v2h-2zM479.8 541.6h2v2h-2zM480.8 538.2h2v2h-2zM479.8 546.5h2v2h-2zM477.4 540.3h2v2h-2zM480 544.3h2v2h-2zM480 549h2v2h-2zM477.6 547h2v2h-2zM479.5 538.6h2v2h-2zM479 541.4h2v2h-2zM478 538.7h2v2h-2zM479.9 549.3h2v2h-2zM482.4 551.8h2v2h-2zM476.5 539.8h2v2h-2zM479.2 540.1h2v2h-2zM479.5 536.7h2v2h-2zM478 547.4h2v2h-2zM479.9 536.1h2v2h-2zM480.5 552h2v2h-2zM481.1 540.2h2v2h-2zM483 536.5h2v2h-2zM479.2 545.1h2v2h-2zM479.8 547.9h2v2h-2zM480.5 545.3h2v2h-2zM479.7 541.9h2v2h-2zM478.5 539.8h2v2h-2zM479.5 539.4h2v2h-2zM478.7 543.2h2v2h-2zM482.8 543.6h2v2h-2zM478.9 545.5h2v2h-2zM481.1 541.1h2v2h-2zM478.9 542.1h2v2h-2zM477.1 547.5h2v2h-2zM481 535.5h2v2h-2zM480.7 541.1h2v2h-2zM480.5 543.5h2v2h-2zM478.6 538.3h2v2h-2zM478.1 547.8h2v2h-2zM480.1 548.7h2v2h-2zM479 543.9h2v2h-2zM479.9 540h2v2h-2zM480.6 535.7h2v2h-2zM478.2 544.6h2v2h-2zM480 545.1h2v2h-2zM479.3 538.7h2v2h-2zM478.4 541.1h2v2h-2zM479.7 545.4h2v2h-2zM479.9 538.1h2v2h-2zM481.6 550.1h2v2h-2zM480.4 545.4h2v2h-2zM480.8 547.5h2v2h-2zM479.8 541.7h2v2h-2zM481.9 539.6h2v2h-2zM480.5 538.7h2v2h-2zM479.1 543.5h2v2h-2zM479.5 551.6h2v2h-2zM479 552h2v2h-2zM481.5 534.2h2v2h-2zM480.8 546.3h2v2h-2zM480.4 539.5h2v2h-2zM479.8 543.6h2v2h-2zM477.8 541.6h2v2h-2zM480 546.1h2v2h-2zM479.1 540.7h2v2h-2zM480.5 534h2v2h-2zM479 543.9h2v2h-2zM478.6 541.2h2v2h-2zM481.7 547h2v2h-2zM478.6 541.5h2v2h-2zM479.8 549.8h2v2h-2zM481 540.7h2v2h-2zM478.8 541.2h2v2h-2zM477.8 544h2v2h-2zM479 548.4h2v2h-2zM479.3 542.4h2v2h-2zM480.9 545.8h2v2h-2zM480.9 547.2h2v2h-2zM477.9 539.3h2v2h-2zM481.3 538.8h2v2h-2zM479.9 540.6h2v2h-2zM482.2 535.5h2v2h-2zM477.3 538.3h2v2h-2zM478.2 541.3h2v2h-2zM480.7 547h2v2h-2zM479.1 535.1h2v2h-2zM481.2 539.5h2v2h-2zM481.2 541.3h2v2h-2zM481.4 543.3h2v2h-2zM477.2 540.8h2v2h-2zM479.8 543.7h2v2h-2zM479.6 539.9h2v2h-2z" fill="#a80000"/><path d="M339.4 575.7h1.8v1.8h-1.8zM341 577.2h1.8v1.8h-1.8zM339.4 573.2h1.8v1.8h-1.8zM337.7 571.9h1.8v1.8h-1.8zM337.3 573h1.8v1.8h-1.8zM337.9 569.3h1.8v1.8h-1.8zM338.7 572.8h1.8v1.8h-1.8zM337.8 571.5h1.8v1.8h-1.8zM340.4 577.1h1.8v1.8h-1.8zM338.8 571.5h1.8v1.8h-1.8zM338.2 575.5h1.8v1.8h-1.8zM338.4 575.8h1.8v1.8h-1.8zM337.3 573.5h1.8v1.8h-1.8zM339.6 575.3h1.8v1.8h-1.8zM338.5 576.4h1.8v1.8h-1.8zM336.6 575h1.8v1.8h-1.8zM339.3 576.3h1.8v1.8h-1.8zM338.8 569.9h1.8v1.8h-1.8zM338.1 569.1h1.8v1.8h-1.8zM338.3 577.7h1.8v1.8h-1.8zM338.3 575.6h1.8v1.8h-1.8zM338.5 573.6h1.8v1.8h-1.8zM337.8 575h1.8v1.8h-1.8zM338.1 582.5h1.8v1.8h-1.8zM339.7 571.4h1.8v1.8h-1.8zM339.2 573.2h1.8v1.8h-1.8zM338 573h1.8v1.8h-1.8zM339.3 573.9h1.8v1.8h-1.8zM336.3 573.7h1.8v1.8h-1.8zM337.7 568.5h1.8v1.8h-1.8zM339 575.4h1.8v1.8h-1.8zM339.3 567.8h1.8v1.8h-1.8zM335.8 578.3h1.8v1.8h-1.8zM338.6 571.1h1.8v1.8h-1.8zM338.7 574.9h1.8v1.8h-1.8zM337.9 572.4h1.8v1.8h-1.8zM337.8 574.4h1.8v1.8h-1.8zM336.5 572.9h1.8v1.8h-1.8zM338.7 574.6h1.8v1.8h-1.8zM336.6 570.2h1.8v1.8h-1.8zM337.6 576.1h1.8v1.8h-1.8zM338.1 572.5h1.8v1.8h-1.8zM336.4 573.7h1.8v1.8h-1.8zM340.8 571.7h1.8v1.8h-1.8zM341 568.1h1.8v1.8h-1.8zM336.8 577.7h1.8v1.8h-1.8zM337 572.2h1.8v1.8h-1.8zM339.3 570.2h1.8v1.8h-1.8zM337.3 569.4h1.8v1.8h-1.8zM339.6 574.9h1.8v1.8h-1.8zM324 548h1.8v1.8h-1.8zM324 549.6h1.8v1.8h-1.8zM324.3 545.1h1.8v1.8h-1.8zM324.4 547.8h1.8v1.8h-1.8zM325.6 549.9h1.8v1.8h-1.8zM325.7 550.9h1.8v1.8h-1.8zM322.7 547.4h1.8v1.8h-1.8zM325 545.8h1.8v1.8h-1.8zM325 546.4h1.8v1.8h-1.8zM324.5 549.8h1.8v1.8h-1.8zM324.2 545.6h1.8v1.8h-1.8zM323.9 546.8h1.8v1.8h-1.8zM322.8 550.5h1.8v1.8h-1.8zM324.2 549.9h1.8v1.8h-1.8zM325.9 547.8h1.8v1.8h-1.8zM326.4 544.7h1.8v1.8h-1.8zM324.1 549.5h1.8v1.8h-1.8zM323.6 549.1h1.8v1.8h-1.8zM323.5 551.8h1.8v1.8h-1.8zM324.5 555.4h1.8v1.8h-1.8zM324.7 550.9h1.8v1.8h-1.8zM324.8 547.4h1.8v1.8h-1.8zM324.4 547.1h1.8v1.8h-1.8zM323.8 550.5h1.8v1.8h-1.8zM324.6 553.5h1.8v1.8h-1.8zM326.3 547h1.8v1.8h-1.8zM324.7 549.5h1.8v1.8h-1.8zM480.5 540h1.8v1.8h-1.8zM480.5 545.2h1.8v1.8h-1.8zM479.8 540.9h1.8v1.8h-1.8zM480.1 542.5h1.8v1.8h-1.8zM480.5 545.6h1.8v1.8h-1.8zM479.2 539.5h1.8v1.8h-1.8zM480.3 541.9h1.8v1.8h-1.8zM480.9 543.7h1.8v1.8h-1.8zM479.2 544.9h1.8v1.8h-1.8zM478.2 546.1h1.8v1.8h-1.8zM479.4 546.7h1.8v1.8h-1.8zM479.1 541.9h1.8v1.8h-1.8zM480.4 541.7h1.8v1.8h-1.8zM479.6 544.4h1.8v1.8h-1.8zM479.3 538.9h1.8v1.8h-1.8zM479.4 543.7h1.8v1.8h-1.8zM479.1 541.4h1.8v1.8h-1.8zM478.5 541.5h1.8v1.8h-1.8zM480 542.8h1.8v1.8h-1.8zM480.5 537.9h1.8v1.8h-1.8zM480.3 543.7h1.8v1.8h-1.8zM478.2 545h1.8v1.8h-1.8zM478.9 548.9h1.8v1.8h-1.8zM481.4 545.9h1.8v1.8h-1.8zM480.9 544h1.8v1.8h-1.8zM481.2 542h1.8v1.8h-1.8zM480.5 541.5h1.8v1.8h-1.8zM481.7 541.2h1.8v1.8h-1.8zM479.5 547.2h1.8v1.8h-1.8zM480.3 541.8h1.8v1.8h-1.8zM478.5 545.6h1.8v1.8h-1.8zM477.9 540.1h1.8v1.8h-1.8zM87.3 546.1h1.6v1.6h-1.6zM87.6 543.6h1.6v1.6h-1.6zM87.4 553.2h1.6v1.6h-1.6zM88.3 552h1.6v1.6h-1.6zM87.5 548.3h1.6v1.6h-1.6zM87.5 541.1h1.6v1.6h-1.6zM88.4 552.5h1.6v1.6h-1.6zM87.3 543.7h1.6v1.6h-1.6zM87.2 554.2h1.6v1.6h-1.6zM87.6 553.7h1.6v1.6h-1.6zM87.4 552.3h1.6v1.6h-1.6zM87.2 540.9h1.6v1.6h-1.6zM87.5 542.1h1.6v1.6h-1.6zM87.7 548.3h1.6v1.6h-1.6zM87.7 544.2h1.6v1.6h-1.6zM88.2 545.1h1.6v1.6h-1.6zM88 539.3h1.6v1.6h-1.6zM87.5 539.7h1.6v1.6h-1.6zM87.9 548.1h1.6v1.6h-1.6zM120.3 544.2h1.6v1.6h-1.6zM120.3 543.5h1.6v1.6h-1.6zM120.9 547h1.6v1.6h-1.6zM121.1 545.7h1.6v1.6h-1.6zM119.8 542.1h1.6v1.6h-1.6zM119.7 543.5h1.6v1.6h-1.6zM120.5 540.5h1.6v1.6h-1.6zM119.8 541h1.6v1.6h-1.6zM120.3 547.1h1.6v1.6h-1.6zM120.6 541.9h1.6v1.6h-1.6zM155.2 550.3h1.6v1.6h-1.6zM154.7 544.9h1.6v1.6h-1.6zM155.1 550.1h1.6v1.6h-1.6zM154.5 546.5h1.6v1.6h-1.6zM154.6 551h1.6v1.6h-1.6zM154.9 548.2h1.6v1.6h-1.6zM155.6 549.3h1.6v1.6h-1.6zM155 549h1.6v1.6h-1.6zM154.9 549.2h1.6v1.6h-1.6zM178.6 529h1.6v1.6h-1.6zM178.8 530.6h1.6v1.6h-1.6zM178.5 527.6h1.6v1.6h-1.6zM178.9 529.2h1.6v1.6h-1.6zM179 529.5h1.6v1.6h-1.6zM178.5 530.6h1.6v1.6h-1.6zM178 529.4h1.6v1.6h-1.6zM178.4 530.4h1.6v1.6h-1.6zM178.5 530.3h1.6v1.6h-1.6zM178.8 527.9h1.6v1.6h-1.6zM205.9 540.8h1.6v1.6h-1.6zM206 543.1h1.6v1.6h-1.6zM206.4 544.2h1.6v1.6h-1.6zM206.3 543.4h1.6v1.6h-1.6zM205.3 544.6h1.6v1.6h-1.6zM206.2 545h1.6v1.6h-1.6zM205.6 541h1.6v1.6h-1.6zM205.8 545.4h1.6v1.6h-1.6zM205.9 542.8h1.6v1.6h-1.6zM234 545.1h1.6v1.6h-1.6zM233.9 540.8h1.6v1.6h-1.6zM234.7 540.5h1.6v1.6h-1.6zM233.4 542.3h1.6v1.6h-1.6zM234.1 544.1h1.6v1.6h-1.6zM233.8 545.1h1.6v1.6h-1.6zM234 541.3h1.6v1.6h-1.6zM280.4 542.2h1.6v1.6h-1.6zM281 546.7h1.6v1.6h-1.6zM280.4 542.7h1.6v1.6h-1.6zM281.3 545.1h1.6v1.6h-1.6zM280.6 544.2h1.6v1.6h-1.6zM280.6 543.3h1.6v1.6h-1.6zM280.9 545.3h1.6v1.6h-1.6zM301.1 542.1h1.6v1.6h-1.6zM300.8 537.2h1.6v1.6h-1.6zM301.3 540.9h1.6v1.6h-1.6zM300.7 541.6h1.6v1.6h-1.6zM300.6 539.2h1.6v1.6h-1.6zM300.1 541h1.6v1.6h-1.6zM301.1 540.4h1.6v1.6h-1.6zM300.7 540.7h1.6v1.6h-1.6zM375.6 542.2h1.6v1.6h-1.6zM374.9 542.9h1.6v1.6h-1.6zM375.2 541.4h1.6v1.6h-1.6zM376.7 542.2h1.6v1.6h-1.6zM375.9 542.4h1.6v1.6h-1.6zM376.2 541.4h1.6v1.6h-1.6zM394.5 545.5h1.6v1.6h-1.6zM394.2 545.5h1.6v1.6h-1.6zM394.6 545.9h1.6v1.6h-1.6zM393.9 544.5h1.6v1.6h-1.6zM393.7 544.8h1.6v1.6h-1.6zM449.1 542.2h1.6v1.6h-1.6zM448.8 543.9h1.6v1.6h-1.6zM448.3 542.8h1.6v1.6h-1.6zM448.4 541.4h1.6v1.6h-1.6zM447.9 541.4h1.6v1.6h-1.6zM448.7 544h1.6v1.6h-1.6zM461.2 541.4h1.6v1.6h-1.6zM461.4 542.4h1.6v1.6h-1.6zM461.1 543h1.6v1.6h-1.6zM461.3 540.6h1.6v1.6h-1.6zM461.2 542.7h1.6v1.6h-1.6zM460.8 543.6h1.6v1.6h-1.6zM461.4 541.1h1.6v1.6h-1.6zM490.8 583.4h1.6v1.6h-1.6zM491.1 579.8h1.6v1.6h-1.6zM491 573.7h1.6v1.6h-1.6zM491.6 575.4h1.6v1.6h-1.6zM490.9 576.4h1.6v1.6h-1.6zM491.3 571.1h1.6v1.6h-1.6zM490.9 584.3h1.6v1.6h-1.6zM491.3 580.1h1.6v1.6h-1.6zM490.2 579h1.6v1.6h-1.6zM490.6 567h1.6v1.6h-1.6zM491.2 574.1h1.6v1.6h-1.6zM491.5 570.2h1.6v1.6h-1.6zM491.1 579h1.6v1.6h-1.6zM490.1 571.8h1.6v1.6h-1.6zM490.9 568.7h1.6v1.6h-1.6zM490.9 578.3h1.6v1.6h-1.6zM491.6 581.7h1.6v1.6h-1.6zM490.5 584.6h1.6v1.6h-1.6zM491.1 572.2h1.6v1.6h-1.6zM491.7 572.8h1.6v1.6h-1.6zM490.5 585.5h1.6v1.6h-1.6zM490.3 583.8h1.6v1.6h-1.6zM490.8 583.8h1.6v1.6h-1.6zM434.5 500h1.6v1.6h-1.6z" fill="#ff1414"/></g><g filter="url(#dsoft)"><path d="M72.2 780.9v6.4M72.2 788v4.1M73.1 780.5v9.2M73.1 789.7v2.6M74 780v3.4M74 784v2.3M74 787.2v1.8M74 790v1.4M74.9 778.9v3.1M74.9 782v6.5M74.9 789.3v2.2M75.8 778.7v2.9M75.8 781.6v3.4M75.8 785.6v5.5M75.8 791.1v0.8M76.7 778.7v6.6M76.7 785.2v0.9M76.7 786.2v2.9M76.7 789.1v3.9M77.6 779.9v2.2M77.6 782.8v6.6M77.6 789.4v2M77.6 791.5v1.5M77.6 793v0.1M78.5 780.3v5M78.5 786.1v3.7M78.5 790.6v3.1M79.4 778.6v3.3M79.4 782.8v4.5M79.4 787.3v5.6M80.3 779.7v2.8M80.3 783v3.2M80.3 786.2v1.9M80.3 788.2v5M81.2 780.5v4.7M81.2 785.2v7.1M82.1 778.8v2.3M82.1 781v1.4M82.1 783.5v3M82.1 786.4v1.6M82.1 788.7v3.3M83 779.2v1.6M83 781.7v2.1M83 784.6v2.9M83 787.5v2.5M83 791.1v1.2M83.9 780.5v3M83.9 783.5v1.2M83.9 785.3v4M83.9 790.3v1.1M84.8 781.1v4.2M84.8 785.3v1.3M84.8 786.6v4.4M85.7 780.2v2.4M85.7 782.6v3.1M85.7 786.6v1.2M85.7 788.5v1.4M85.7 790.9v0.5M86.6 779.6v1.6M86.6 782.1v5M86.6 787.8v2.3M86.6 791v1.8M92 781v3.3M92 784.3v1M92 785.3v2.2M92 787.5v1.9M92 789.4v1.5M92.9 781v9.1M92.9 790.9v0.1M93.8 781.3v2.8M93.8 784.1v4M93.8 788.9v3.4M94.7 779.9v1.3M94.7 782v0.9M94.7 782.9v1.2M94.7 784.1v1.9M94.7 787v4.2M94.7 791.2v2.3M95.6 778.6v2.5M95.6 781.9v2.6M95.6 784.5v1.7M95.6 787.2v4.5M96.5 778.6v5.3M96.5 784.8v1.1M96.5 785.9v4.8M97.4 778.5v2M97.4 780.5v3.8M97.4 785.3v2.7M97.4 788.9v3.2M98.3 778.6v1.8M98.3 781.5v1.1M98.3 783.4v9.2M99.2 780.4v1.3M99.2 782.3v3.2M99.2 785.5v6.8M100.1 780.3v8.9M100.1 790.3v1.3M100.1 791.6v0.1M101 779.4v3.6M101 783.1v3.5M101 786.5v1.3M101 787.8v4M101 791.8v0.1M101.9 780.3v7.4M101.9 787.6v3.2M101.9 791.7v0.8M102.8 780.9v6.4M102.8 787.3v4.7M103.7 779.5v2.3M103.7 782.4v1.9M103.7 784.3v1M103.7 785.3v2.8M103.7 788.7v3.3M104.6 779.6v3.3M104.6 783.6v7.2M104.6 790.9v0.1M105.5 781.3v0.8M105.5 782.8v1.9M105.5 785.8v1.3M105.5 787.1v4.2M106.4 780.9v4.9M106.4 786.7v1.3M106.4 788.6v3.1M106.4 791.7v0.4M108.4 781.5v1.9M108.4 783.4v1M108.4 784.4v1.8M108.4 786.3v2.2M108.4 788.5v0.9M108.4 789.4v2.1M109.3 780v5.6M109.3 786.2v5.3M110.2 779.6v4.5M110.2 784.7v1M110.2 786.6v1.9M110.2 788.5v1.9M110.2 790.4v0.1M111.1 779.8v7M111.1 786.8v3.5M112 780v2.1M112 783v0.9M112 783.9v6.1M112 790.5v1.9M112.9 779.7v11.6M112.9 791.3v0.9M112.9 792.2v0.4M113.8 779.1v0.9M113.8 780.9v0.8M113.8 782.3v3.9M113.8 787.2v2.9M113.8 790.1v1.9M114.7 780.2v6.3M114.7 787.6v2.2M114.7 789.8v1.8M114.7 791.6v0.6M115.6 779.7v1.5M115.6 782.1v4.7M115.6 786.9v4.4M116.5 780.1v4M116.5 785.1v1.6M116.5 787.6v1.7M116.5 789.3v1.9M117.4 780.4v4.8M117.4 785.2v4.6M117.4 789.8v2.7M118.3 779.4v1.7M118.3 781.7v2.5M118.3 785.1v7M119.2 779v3.9M119.2 783.5v1.7M119.2 785.7v0.9M119.2 786.6v4.4M120.1 779.9v7.6M120.1 788.3v2.4M121 781.3v5.2M121 786.4v0.9M121 788.2v1.9M121.9 780.9v2.7M121.9 783.6v1.3M121.9 785.9v3.8M121.9 790.7v0M122.8 780.6v2.9M122.8 783.5v4.2M122.8 787.7v3.3M122.8 791v0.4M123.7 780.7v10.8M124.6 779.7v3.4M124.6 784.1v2.7M124.6 787.7v3.6M125.5 779.2v6.9M125.5 786.8v3.1M125.5 790.5v1.5M126.4 780.2v6.1M126.4 786.3v5M127.3 780.8v7.1M127.3 787.8v3.6M128.2 781v7.3M128.2 789v2.3M129.1 780v10.1M129.1 790.8v1.3M130 778.5v3.2M130 782.7v1.8M130 784.5v1.6M130 786.7v3.5M130 791v2.1M130.9 778.8v2.9M130.9 782.3v1.3M130.9 783.6v4.3M130.9 787.9v4.3M131.8 778.9v2.9M131.8 782.6v9.5M132.7 779.7v1.9M132.7 782.3v2.6M132.7 784.8v2.6M132.7 787.5v1.4M132.7 788.9v2.8M132.7 791.7v0.8M133.6 780.2v3.4M133.6 783.6v9.3M134.5 778.6v2M134.5 780.6v7.1M134.5 787.7v2.8M134.5 791.6v0.8M135.4 779.2v2.5M135.4 782.2v2.3M135.4 785v3.1M135.4 788.1v3.6M136.3 779.4v0.9M136.3 781.2v7.3M136.3 789v3.1M137.2 779.8v3.8M137.2 783.6v8.8M138.1 780.8v2.3M138.1 783.1v2.8M138.1 786.7v1.4M138.1 788.6v2.5M138.1 791.6v0.6M139 780v3.5M139 783.6v4.9M139 789v1.4M139 790.4v2.6M139.9 779.4v1.8M139.9 781.2v3.5M139.9 785.3v5.2M139.9 790.4v1.6M139.9 792.6v1.4M140.8 780v1.8M140.8 782.5v1.4M140.8 784.5v0.8M140.8 785.3v1M140.8 787.3v4.1M140.8 792.2v1.2M141.7 780.9v1.6M141.7 783.1v4.1M141.7 788.1v3.8M153.6 780.8v2.3M153.6 783.1v4.3M153.6 787.9v3.4M153.6 791.3v0.2M154.5 779.4v3.4M154.5 783.7v3.1M154.5 787.7v4.5M155.4 778.5v3M155.4 782.4v2.7M155.4 785.7v4.1M155.4 789.7v2.7M156.3 778.6v8.4M156.3 787v4.3M157.2 779v4.5M157.2 783.4v7.8M158.1 778.9v8.5M158.1 787.4v4.6M159 779.3v12.5M159.9 780v3.8M159.9 784.9v4.2M159.9 789.7v1.2M160.8 780.4v2.9M160.8 783.3v4.8M160.8 789.1v0.9M160.8 790.5v1.5M161.7 779.2v8.9M161.7 788.9v2.8M167.4 779.8v1.1M167.4 781v3.6M167.4 784.6v2.8M167.4 787.9v3.8M168.3 779.4v2.2M168.3 781.6v5.2M168.3 786.8v3.8M168.3 791.2v1.7M168.3 793.6v0.1M169.2 781.3v3.3M169.2 785.5v1.6M169.2 787.1v1.4M169.2 788.5v2.1M169.2 791.2v1.6M170.1 779.8v2.6M170.1 782.4v1.1M170.1 784.4v2.2M170.1 787.2v4.8M172.4 780.1v2M172.4 782.9v5.6M172.4 789.4v1.3M172.4 791.3v0.7M173.3 778.3v5.3M173.3 784.5v2.2M173.3 787.6v2.7M173.3 791.3v2.4M174.2 778.3v1.1M174.2 780.1v5.9M174.2 786v6.7M175.1 779.5v3.1M175.1 783.6v7.4M176 779.7v2.8M176 782.6v6.4M176 788.9v2.5M176.9 779.2v1.3M176.9 780.5v7.9M176.9 789.4v2.5M177.8 779.7v1.2M177.8 782v7.2M177.8 789.2v2.4M178.7 779.9v12.1M179.6 780.8v1.6M179.6 782.4v4.3M179.6 787.5v2.7M179.6 790.9v1M179.6 792v1.4M180.5 780.6v5.5M180.5 786.1v1.2M180.5 787.9v4.6M181.4 780.6v1.5M181.4 783.1v9.1M182.3 781.3v2.8M182.3 784.8v8.5M183.2 780.4v3.1M183.2 784.4v1.2M183.2 785.6v2M183.2 788.2v5.2M184.1 780.4v1M184.1 781.4v3.5M184.1 784.8v9M185 780.3v1.8M185 782.1v5.3M185 788v5.7M185.9 778.7v5.6M185.9 784.3v1.4M185.9 785.7v5.2M185.9 791.5v1.2M186.8 778.3v2.4M186.8 780.7v1.4M186.8 782.8v1.9M186.8 784.7v7.1M186.8 791.8v1.6M187.7 779.6v3.5M187.7 784.1v6.7M187.7 790.7v1.1M188.6 779.5v10.3M188.6 790.4v2.1M189.5 778.6v5.2M189.5 783.8v0.9M189.5 785.7v4.5M189.5 790.1v2M190.4 780.1v1.6M190.4 781.7v2M190.4 783.7v4.5M190.4 789.1v2.2M191.3 780.4v5.1M191.3 786.1v5.5M192.2 778.6v5.5M192.2 784.2v3.4M192.2 788.7v4M193.1 778.8v6.6M193.1 785.4v4.2M193.1 790.4v1.3M193.1 792.7v0.4M194 778.8v3.1M194 782.9v2.6M194 786.2v1.9M194 789v3.4M194.9 778.9v1.9M194.9 780.8v4.6M194.9 785.4v5.6M194.9 792v0.3M195.8 779.5v11.3M195.8 790.8v1.4M196.7 780v7.7M196.7 788.5v3.6M197.6 780.8v6.2M197.6 787.6v4.8M198.5 780.2v5.5M198.5 786.6v5.2M198.5 792.9v0.7M200.8 781.8v4.1M200.8 785.9v4M200.8 790.5v1.4M201.7 780.5v11.9M202.6 779.3v0.8M202.6 781.1v1.6M202.6 783.7v2.9M202.6 787.5v5.8M203.5 779.2v4.1M203.5 783.9v3.1M203.5 787.7v5.1M204.4 780.4v2.3M204.4 783.4v6.6M204.4 790.7v1.2M205.3 781.6v7.4M205.3 789.6v1.1M205.3 790.7v1.4M206.2 781.6v5.4M206.2 787v1M206.2 788.7v4M207.1 781.3v4.3M207.1 786.6v5.2M208 780.1v7M208 788.1v0.8M208 788.9v2.9M208 791.8v0.6M208.9 779.6v0.8M208.9 781v5.1M208.9 786.1v4.3M208.9 790.4v3.2M209.8 779.9v2.7M209.8 782.6v2.2M209.8 785.5v2.7M209.8 788.1v1.2M209.8 789.3v0.8M209.8 790.2v2.3M209.8 792.5v1M210.7 780.3v4.6M210.7 785.9v4.8M210.7 791.3v2.6M211.6 781.4v2.8M211.6 785v2.6M211.6 788.5v4.2M212.5 780.2v12.1M213.4 779.6v1.4M213.4 781.8v6.6M213.4 788.5v0.9M213.4 789.4v3M214.3 779.9v1.8M214.3 782.7v8.8M215.2 778.9v3M215.2 782.6v1.3M215.2 784.5v2.1M215.2 787.3v5.4M216.1 778.9v5.3M216.1 784.8v7.7M217 780.4v3.8M217 784.2v1.6M217 786.7v5.2M217 792.4v0.3M217.9 780.3v1.2M217.9 781.6v5.3M217.9 786.8v6.9M218.8 780.4v2M218.8 783.3v1.2M218.8 784.5v1M218.8 786.3v0.9M218.8 788.2v4.3M219.7 780.6v1.1M219.7 782.6v4.9M219.7 788.5v4.1M219.7 792.6v0.5M220.6 779.4v1.9M220.6 782.3v4M220.6 787.4v3.3M220.6 790.7v2.4M221.5 780.2v3.1M221.5 783.3v2.6M221.5 786.5v2.4M221.5 789.9v1.4M221.5 792.2v1.1M222.4 781.5v7M222.4 788.5v2.3M222.4 791.6v0.8M222.4 793v0.5M223.3 781.1v4.5M223.3 786.2v0.8M223.3 787.1v2.5M223.3 790.2v2.8M224.2 780.9v3.4M224.2 784.9v7.6M225.1 781.4v2M225.1 784.4v1.8M225.1 787.3v4M227.5 781.4v4.7M227.5 787.1v4.3M228.4 779.5v4.4M228.4 784v2.3M228.4 786.3v1.3M228.4 788.2v1.1M228.4 789.3v2.7M228.4 793.1v0M229.3 780.5v5.8M229.3 786.3v2M229.3 788.3v6.6M230.2 782v1.1M230.2 784v1M230.2 785.7v5.4M230.2 792v1.5M231.1 780.9v7.4M231.1 788.3v1.7M231.1 790.5v1.6M232 779.8v6.6M232 786.5v2.5M232 789v1.2M232 791.2v2.6M232.9 780.5v4M232.9 785.5v2.9M232.9 788.4v5.3M232.9 793.7v0.8M233.8 780.4v1M233.8 781.4v4.9M233.8 786.3v6.4M234.7 780v3.6M234.7 783.6v1M234.7 785.4v4.7M234.7 790.6v2.9M235.6 781v3.9M235.6 785.7v1.8M235.6 788.1v3.5M235.6 792.2v2.3M236.5 781.5v5.2M236.5 786.7v2.4M236.5 789.1v2.2M236.5 791.3v1.9M237.4 780.9v2M237.4 783.6v2.4M237.4 786.8v4.6M237.4 792.5v0.6M238.3 780.3v3.8M238.3 785v1.1M238.3 786.1v2.7M238.3 789.9v2M238.3 791.9v1.4M239.2 780.9v11.6M240.1 781.2v4.7M240.1 786.5v3.8M240.1 791.3v2M241 779.9v13.1M241 793.5v0.3M241.9 779.8v1.4M241.9 781.7v1M241.9 782.7v0.9M241.9 784.4v9.7M242.8 780.3v1.3M242.8 781.6v7.8M242.8 789.5v5.1M243.7 781.1v2.3M243.7 784.1v1.1M243.7 785.2v5.9M243.7 791.9v0.9M243.7 793.4v0.5M244.6 782v0.8M244.6 783.4v5.6M244.6 790v2.2M244.6 793v1.1M245.5 781.1v1.5M245.5 783.3v3.1M245.5 786.4v1.3M245.5 788.3v5.2M246.4 781.3v2.1M246.4 783.4v2.7M246.4 786v1.1M246.4 787.8v4.4M247.3 780.8v12.4M248.2 779.4v2.6M248.2 782.8v3.3M248.2 786.6v3M248.2 789.6v2.6M249.1 779.6v2.7M249.1 783.3v0.9M249.1 784.9v4M249.1 788.8v1.2M249.1 790.9v2M250 780.8v1.3M250 782.1v4.2M250 786.3v3.3M250 790.3v1.1M250 792.4v0.8M252.7 780.6v10.8M253.6 780.5v0.9M253.6 782v3.5M253.6 786.5v3.1M253.6 790.3v1.7M254.5 780.1v2.3M254.5 783.2v2M254.5 785.6v5.5M255.4 778.3v4.9M255.4 783.8v0.8M255.4 785.6v3.4M255.4 789.8v1.7M256.3 778v13.9M257.2 779.6v4.9M257.2 785.2v4.6M257.2 790.5v1.4M258.1 780.3v4.2M258.1 784.5v4M258.1 789.1v4M259 778.8v2M259 780.9v1M259 782.8v9.4M259.9 779.1v12.4M259.9 792.1v0.4M260.8 780.7v5.1M260.8 786.5v1.1M260.8 787.5v3.3M260.8 791.7v0.5M261.7 779.9v6M261.7 786.7v1.8M261.7 788.5v2.1M261.7 791.1v0M262.6 779.8v2M262.6 782.6v7.4M262.6 790v0.7M263.5 781v1.9M263.5 782.9v3M263.5 786.7v4.5M264.4 779.9v3.1M264.4 783.9v1.6M264.4 785.5v3.2M264.4 789.6v1.5M264.4 791.1v1.2M265.3 779.4v6.9M265.3 787.3v2M265.3 789.3v2.2M266.2 780.2v3.1M266.2 784.1v1.7M266.2 786.3v1.7M266.2 788.7v2.7M267.1 780.2v4.1M267.1 785.3v1.3M267.1 787.1v6.1M268 779.8v3.7M268 783.5v8.9M268 793.1v0.2M268.9 780v0.9M268.9 781.9v2.7M268.9 784.6v8M269.8 779.4v2M269.8 781.4v6.5M269.8 787.9v1M269.8 788.9v3M270.7 779.4v1.2M270.7 781.4v0.8M270.7 782.2v2.7M270.7 785.6v2.1M270.7 787.7v4.1M271.6 779.7v5.4M271.6 785.1v0.9M271.6 786.5v5.8M272.5 779.9v5M272.5 785.6v2.8M272.5 788.4v3.4M272.5 791.8v0.4M273.4 779.8v3.2M273.4 784v3.6M273.4 787.6v3.8M275.6 780.2v0.8M275.6 781v0.9M275.6 781.9v1.1M275.6 782.9v2.8M275.6 786.7v1.8M275.6 788.5v2.5M275.6 791v1M276.5 779.5v1.7M276.5 781.7v1.9M276.5 784.5v1.3M276.5 787v4.4M276.5 792.4v0.6M277.4 779.1v1.3M277.4 781v3M277.4 784v7.1M277.4 791.6v0.7M278.3 778.3v3.9M278.3 782.9v2.2M278.3 785.7v1.7M278.3 788.3v3.2M279.2 779.6v3.8M279.2 784v2.6M279.2 786.7v3.7M280.1 781.1v5M280.1 786.1v5.3M281 781.6v3M281 784.6v8.2M281.9 781.5v1.2M281.9 783.3v2.1M281.9 786.2v1.1M281.9 788.3v2M281.9 790.3v2.7M282.8 780v1.8M282.8 782.8v9.5M283.7 779.9v7.8M283.7 788.7v1.7M283.7 790.4v1.3M283.7 792.5v0M284.6 781.5v7.5M284.6 789.6v2.5M285.5 780.1v6.9M285.5 787.5v0.9M285.5 788.4v0.9M285.5 789.3v1.3M285.5 790.6v0.9M285.5 791.5v1.6M286.4 779.3v7.4M286.4 787.8v2M286.4 790.5v2.3M287.3 780.7v6.1M287.3 786.7v6.3M288.2 779.9v2.7M288.2 783.6v3M288.2 786.7v1.8M288.2 788.5v3.9M289.1 779.9v2.6M289.1 783.2v2.1M289.1 786.2v1.4M289.1 788.3v3.5M290 781.1v10.6M290 792.7v0.5M290.9 779.5v4.5M290.9 784v2.9M290.9 787.4v5.3M291.8 778.1v1.6M291.8 779.6v0.9M291.8 781v2M291.8 783.7v4.9M291.8 788.6v3.5M292.7 778.3v2.1M292.7 780.4v6.9M292.7 788v0.8M292.7 788.9v1.2M292.7 790.7v1.2M292.7 791.9v0.3M293.6 778.7v3.1M293.6 781.8v6.6M293.6 789.3v1.9M293.6 791.8v1M294.5 779.4v1.5M294.5 781.6v8.3M294.5 790.8v1M296.7 780.9v5.8M296.7 787.3v3.1M296.7 791.2v0.1M297.6 779.1v2M297.6 781.1v3.3M297.6 785.2v5M297.6 790.2v2.3M298.5 779.2v6.8M298.5 786.8v5.5M299.4 779.8v1.2M299.4 781.6v6M299.4 787.6v1.3M299.4 788.9v3.3M300.3 779.8v3.4M300.3 784.4v7.5M300.3 791.9v0.2M301.2 780.3v4M301.2 784.9v6.6M302.2 781.1v2.4M302.2 783.5v5.6M302.2 790v0.7M303.1 779.7v1.7M303.1 782.5v2.2M303.1 784.7v7.3M304 778.9v6.8M304 785.7v7.2M304.9 779.7v1.1M304.9 781.8v3.6M304.9 785.4v2.2M304.9 788.2v5.3M305.8 780.2v0.9M305.8 781.2v2M305.8 783.9v3.1M305.8 787.9v1.5M305.8 789.5v2.2M305.8 792.7v0.7M306.7 779.3v2.3M306.7 782.6v1.5M306.7 784.1v3.1M306.7 787.1v5.1M306.7 792.3v0.1M307.6 779.8v1.6M307.6 781.4v3.7M307.6 785.1v5.7M307.6 790.8v0.9M308.5 780.3v2.3M308.5 783.2v3.3M308.5 787.3v4.5M309.4 779.5v2.1M309.4 781.7v3.9M309.4 786.3v1.7M309.4 788v1.1M309.4 789.1v3.1M309.4 792.9v0.3M310.3 779.8v3.7M310.3 784v0.9M310.3 784.9v0.8M310.3 786.3v5.5M310.3 792.4v1.1M311.2 779.5v11.7M311.2 791.2v1M311.2 792.2v1M312.1 780v1.8M312.1 781.8v10.9M313 780.1v2.4M313 783.4v2.1M313 786.4v3.6M313 790v2.3M313.9 778.7v1M313.9 780.4v6.1M313.9 786.5v1.4M313.9 787.9v5.5M314.8 779.3v1.9M314.8 781.1v1.3M314.8 783.2v6.8M314.8 790v3.5M316.7 780v0.8M316.7 780.8v10.9M317.6 779.9v4.2M317.6 784.9v0.9M317.6 786.7v5.9M318.5 781.1v3.6M318.5 785.8v0.9M318.5 787.6v2.9M318.5 791.2v1M319.4 780.7v4.7M319.4 786v3.5M319.4 790.1v1.9M320.3 780.9v0.9M320.3 781.8v8.7M320.3 791.3v0.3M321.2 780.8v4.5M321.2 785.9v4.5M321.2 790.4v0.8M326.5 780.6v1.5M326.5 782.6v5.6M326.5 788.8v2.2M327.4 779.6v4.8M327.4 784.4v7.1M328.3 779.6v0.9M328.3 781.3v1M328.3 783.2v1.2M328.3 784.4v1.8M328.3 786.9v1.9M328.3 789.5v2.4M329.2 779v5.6M329.2 784.6v7.1M330.1 778.7v4.1M330.1 782.8v5.6M330.1 789.1v3.1M331 779.4v6.3M331 785.8v2.2M331 788.7v4.9M331.9 780.7v1.5M331.9 783v1M331.9 784.7v7.7M331.9 792.3v1.3M332.8 779.8v0.8M332.8 780.6v6.2M332.8 786.8v6.9M333.7 778.3v14.1M336 780.4v7M336 788.4v0.9M336 789.8v2.1M336.9 779.6v2.2M336.9 781.8v1.2M336.9 783.8v3.2M336.9 787.1v0.9M336.9 788.6v2.8M336.9 791.4v2M337.8 779.4v1.2M337.8 781.1v2.9M337.8 784.7v2.3M337.8 787v1.1M337.8 788.7v2.8M337.8 792.5v0.5M338.7 779.1v1.7M338.7 780.8v2.4M338.7 783.2v9.8M339.6 779.5v3.4M339.6 782.8v3.1M339.6 785.9v3.2M339.6 790.1v1.2M339.6 791.3v0.8M339.6 792.1v0.6M340.5 779.3v6.8M340.5 786.1v1.2M340.5 788.2v4.3M341.4 779.5v1.1M341.4 780.6v2.9M341.4 783.5v1.2M341.4 785.2v7.1M342.3 780.6v2.5M342.3 783.1v1.7M342.3 784.9v2.2M342.3 787.8v2.3M342.3 790.6v1.1M343.2 780.4v1.6M343.2 782.5v2.3M343.2 785.4v6M344.1 778.6v1.1M344.1 779.6v5.4M344.1 785v2.4M344.1 787.4v1.2M344.1 788.6v2.6M345 778.6v2.8M345 782.2v7.4M345 790.4v1.4M345.9 780.5v1M345.9 782.4v2.8M345.9 786v6.9M346.8 781v1.8M346.8 783.7v6.5M346.8 790.2v2.6M346.8 792.8v1.1M347.7 779.3v3.6M347.7 783v2.4M347.7 786.4v5.6M347.7 792v1.4M348.6 778.2v8.4M348.6 787.6v1.2M348.6 789.3v2.8M348.6 792.8v0.9M349.5 778.2v2.1M349.5 781v1.8M349.5 782.8v6.3M349.5 789.2v4.5M350.4 778.5v13.8M351.3 778.7v1.4M351.3 780.1v3.3M351.3 784.3v1.7M351.3 786v4.3M351.3 790.2v2M352.2 778.9v7.9M352.2 786.8v3.2M352.2 790v3.5M353.1 779.2v2.7M353.1 782.5v2.7M353.1 785.2v5.7M353.1 790.9v1.2M355.7 781.1v6.1M355.7 788v1.7M355.7 789.8v0.8M356.6 779.7v5.5M356.6 785.8v1.2M356.6 787.6v2.6M356.6 790.3v1.3M360.5 781.4v2.3M360.5 784.4v1.1M360.5 785.5v3.2M360.5 788.6v2.2M360.5 790.8v0.2M361.4 780.7v2.8M361.4 784.3v1M361.4 785.9v6.8M362.3 780.7v4.6M362.3 786.1v2.6M362.3 789.5v1M362.3 791.1v0.9M363.2 780.8v11.1M364.1 779.4v5.8M364.1 785.2v0.8M364.1 786.6v4.9M364.1 792.3v0.3M365 779.6v2.4M365 782.6v5M365 788.1v3.6M365.9 779.2v5.9M365.9 785.8v5.9M366.8 779.6v1.1M366.8 780.6v4.4M366.8 785.9v3.2M366.8 789.9v0.8M366.8 790.7v1.1M367.7 780.3v6M367.7 787.3v2.4M367.7 789.6v2.5M368.6 778.8v3.2M368.6 782.6v6.1M368.6 789.2v1.3M368.6 790.6v1.4M369.5 779.3v0.9M369.5 781.3v2.2M369.5 783.4v4.2M369.5 788.5v3.1M370.4 779.5v1.7M370.4 782.2v3.2M370.4 786.2v5.7M371.3 779.6v5.8M371.3 786.1v2.9M371.3 788.9v0.9M371.3 790.5v1.5M372.2 780.1v1.7M372.2 782.7v2.2M372.2 786v3.3M372.2 789.3v3.2M373.1 778.8v3.8M373.1 783.3v2.7M373.1 786.8v3M373.1 790.6v2.3M376.8 781.1v1.1M376.8 782.1v2.7M376.8 784.8v3.9M376.8 789.4v2.3M377.7 779.8v9.6M377.7 790.1v1.5M378.6 780.2v11.1M379.5 779.7v5M379.5 784.7v4.4M379.5 789.7v3.1M388.6 780v1M388.6 781v1.9M388.6 783.9v1.6M388.6 786v4.5M389.5 779.2v1.4M389.5 780.6v6.6M389.5 787.2v0.9M389.5 789v3.1M390.4 780v2M390.4 783v3.6M390.4 787.3v2.2M390.4 790.1v2.9M391.3 780.1v8.4M391.3 789.4v2.1M394.3 781.6v1.3M394.3 782.9v4.8M394.3 788.8v2.5M395.2 780.1v7.7M395.2 788.8v2.3M395.2 791.1v0.8M396.1 780.1v2.3M396.1 782.4v6.5M396.1 790v1.4M396.1 791.3v0.3M397 780.9v3.2M397 784v6.3M397 791.3v0.7M397.9 779.3v3.3M397.9 782.5v10M398.8 779.9v1.6M398.8 782.3v1.7M398.8 784.8v4.8M398.8 790.6v2M399.7 780.9v3.8M399.7 785.8v5.9M399.7 791.7v0.4M400.6 780.9v4.5M400.6 785.4v1M400.6 787.2v2.6M400.6 790.5v1.2M401.5 781.4v4.4M401.5 786.5v4.8M401.5 792.3v0.2M402.4 780.9v1.7M402.4 783.3v10.7M403.3 779.6v5.1M403.3 785.5v4.5M403.3 789.9v3.2M404.2 778.7v1.6M404.2 780.3v1M404.2 781.9v3.6M404.2 786.5v1.2M404.2 787.7v3.8M405.1 778.9v3.4M405.1 783v1.1M405.1 785.1v3.3M405.1 788.3v2.7M406 779.8v0.9M406 781.4v3.3M406 785.2v4.1M406 789.3v3.3M409.5 781v6.5M409.5 787.5v2.1M409.5 790.3v0.6M410.4 779.7v3.5M410.4 784.1v1.8M410.4 785.9v3.9M410.4 789.8v2.7M411.3 778.8v6.9M411.3 786.7v2.3M411.3 789v3.7M411.3 792.6v1M412.2 779.9v9.2M412.2 789.9v3.8M412.2 793.7v0.1M413.1 781.5v5.3M413.1 787.6v3.7M413.1 792.1v0.1M414 780.5v1.2M414 782.2v0.9M414 783.9v1.5M414 786v6.2M414.9 779.7v2.8M414.9 783.1v10M415.8 779.5v1.2M415.8 781.3v1.5M415.8 783.5v7M415.8 790.5v2.7M416.7 778.6v4.7M416.7 783.3v6.8M416.7 790.1v2.2M417.6 779.8v6.1M417.6 786.6v4.1M418.5 781.1v1.7M418.5 782.8v8.1M419.4 781.2v2.9M419.4 785v1.7M419.4 787.6v2.7M419.4 790.4v1.7M420.3 781.6v1.1M420.3 783.3v3.1M420.3 787.4v4.9M422.5 781.6v2.8M422.5 784.4v1.7M422.5 786.8v4.5M422.5 791.3v0.1M423.4 780.2v1.4M423.4 781.6v2.9M423.4 784.5v1.6M423.4 786.1v6.8M424.3 779.9v2.4M424.3 782.3v1.5M424.3 784.5v3.5M424.3 788v0.9M424.3 789.4v3M425.2 779.8v1.4M425.2 781.3v0.9M425.2 783v4.4M425.2 788.3v2.9M425.2 791.9v0.5M426.1 779.8v10M426.1 789.8v3M427 781.4v1.9M427 783.3v8.6M427.9 781.1v0.8M427.9 782v2M427.9 785v5.4M427.9 790.4v1.8M428.8 779.6v1.8M428.8 781.4v2.8M428.8 784.2v8M428.8 792.2v0.5M429.7 779.3v2M429.7 782.2v1.6M429.7 784.9v1.9M429.7 786.8v4.6M430.6 780.7v6.9M430.6 788.2v2.6M431.5 780.1v2.1M431.5 782.2v10.4M432.4 779.3v3.5M432.4 782.8v3.8M432.4 787.4v3.3M432.4 790.6v3.4M433.3 780.7v2.3M433.3 783v3M433.3 787v1.7M433.3 788.7v1.1M433.3 789.8v2.7M435.5 781.8v1.1M435.5 782.9v2.6M435.5 786.1v1.4M435.5 788v3.6M435.5 791.6v0.5M436.4 780.4v1.6M436.4 783v5.6M436.4 789.2v1.4M436.4 790.6v1.6M437.3 779.6v1.9M437.3 782.3v6.3M437.3 789.6v2.3M438.2 780.4v12.4M438.2 792.8v0.6M439.1 780.4v2.9M439.1 783.3v6.1M439.1 790.4v1.2M439.1 792.5v0.9M440 779.9v1.4M440 781.8v3.5M440 786v3.2M440 790.1v1.3M440 792.2v1M440.9 779.7v1.8M440.9 782.4v8.9M440.9 792v2.5M441.8 779.7v3.4M441.8 783.1v3.6M441.8 786.8v0.8M441.8 788.6v3.1M441.8 791.8v2.8M442.7 781.4v1.4M442.7 782.8v10.4M443.6 782.1v5.1M443.6 788.2v2.9M443.6 791.8v1.2M444.5 780.3v2.3M444.5 782.7v2.1M444.5 785.8v2.6M444.5 788.4v2M444.5 791v2M445.4 779.4v4.8M445.4 784.8v2.8M445.4 787.6v1.7M445.4 789.3v3.7M447.7 783.3v1.5M447.7 784.8v3.8M447.7 789.3v1.8M447.7 792.1v0.7M448.6 781.4v5M448.6 786.5v2.1M448.6 788.5v2.1M448.6 790.7v1.3M448.6 792.9v0.4M449.5 781.6v4.2M449.5 786.5v1.7M449.5 788.2v4.5M450.4 781.6v6.2M450.4 788.8v4.5M451.3 781.1v1.5M451.3 782.6v10.2M451.3 792.8v0.8M452.2 782v4M452.2 785.9v4.5M452.2 791.2v1.8M452.2 794v0.9M453.1 781.4v4.4M453.1 785.8v1.1M453.1 786.9v1.5M453.1 788.9v2.6M453.1 791.5v1.8M453.1 793.2v1.6M454 781.9v1M454 782.9v2.3M454 785.2v1.1M454 787v1.4M454 789.4v0.9M454 790.3v2.3M454 792.6v1.7M454.9 782.1v2.9M454.9 785v3.1M454.9 789.2v1.3M454.9 790.5v5.1M455.8 782.4v12.3M455.8 794.7v0.9M456.7 782.2v10M456.7 792.8v2.5M457.6 781.4v1.2M457.6 783.5v2.4M457.6 785.9v1.9M457.6 788.8v3.5M457.6 793.3v1.2M457.6 795.3v0.7M459.7 780.7v3.5M459.7 785.2v5.5M460.6 778.7v3.1M460.6 781.8v9M460.6 790.8v0.2M461.5 778.7v1.7M461.5 781.1v10.1M462.4 778.7v0.9M462.4 780.5v4.6M462.4 785.1v6.1M463.3 779.4v6.9M463.3 787.1v4.7M464.2 779.8v1.2M464.2 781v0.9M464.2 781.9v3.1M464.2 785v1.3M464.2 787.1v4.5M465.1 779.2v4.6M465.1 784.8v2.6M465.1 787.4v5.1M467.7 781.9v3.5M467.7 786.2v1.2M467.7 788.3v0.8M467.7 789.9v1.5M468.6 781.6v1.7M468.6 783.3v2.3M468.6 786.3v4.2M468.6 791.2v1.8M469.5 780.5v5.8M469.5 787.3v4.7M469.5 792v1.8M470.4 779.4v13.4M471.3 779.7v2.5M471.3 782.2v1.3M471.3 784.1v6M471.3 790.7v3.2M472.2 779.3v2.8M472.2 782.1v3.2M472.2 785.8v5.9M472.2 791.6v2.7M473.1 780.3v6.2M473.1 786.5v3.7M473.1 791v2M474 780.9v2.3M474 783.2v5.4M474 788.6v1.5M474 791v2.4M478.4 781.6v6.6M478.4 788.1v2.5M479.3 780v1.1M479.3 782.1v4.9M479.3 787v1.3M479.3 789.1v0.9M479.3 790v1.4M479.3 792.4v0.1M480.2 778.7v1.1M480.2 779.9v2.8M480.2 782.6v3M480.2 785.7v2.2M480.2 788.7v1.7M480.2 791v1.9M481.1 778.9v1M481.1 779.9v2.6M481.1 782.5v1.2M481.1 783.8v7.6M482 779.9v11M485.3 782.3v3.4M485.3 786.3v3.2M485.3 789.5v2.3M486.2 781v4.3M486.2 786v4.4M486.2 790.4v2.9M487.1 780.3v1.9M487.1 782.2v2.4M487.1 785.2v8.7M488 780.9v1M488 782v1.9M488 783.9v1.7M488 786.5v4M488 790.5v3M488.9 781.3v6.9M488.9 788.9v4.2M489.8 781.2v1.7M489.8 783v7.6M489.8 791.5v2.4M491.6 782.5v1.3M491.6 783.8v3.4M491.6 787.2v4.8M491.6 793v2.1M492.5 780.4v4.4M492.5 785.9v1.3M492.5 787.8v1.3M492.5 789v6.2M493.4 780.7v1.8M493.4 783.4v0.8M493.4 784.2v6.7M493.4 791v4.5M494.3 782.5v4.1M494.3 786.5v5.9M494.3 792.4v5.6M495.2 781.6v3.2M495.2 785.6v4.7M495.2 791.3v1.1M495.2 793.4v1.5M495.2 795.6v1.2M495.2 796.8v2M496.1 781.1v7.9M496.1 790v2M496.1 792.5v5.6M497 780.2v3.8M497 784v6.2M497 791.2v1.7M497 792.9v0.8M497 793.8v3.4M497 797.1v0.5M497.9 779.9v7.3M497.9 787.3v1.6M497.9 788.9v4M497.9 793.7v2.9M498.8 781.2v2.1M498.8 784.4v2.5M498.8 787.5v2.6M498.8 791.2v5.8M499.7 779.9v10.7M499.7 791.6v6.1M499.7 797.7v0.3M500.6 778.4v0.9M500.6 779.3v1M500.6 780.3v7.5M500.6 787.8v1.3M500.6 789.7v5M500.6 795.3v1.6M501.5 778.3v5M501.5 784v1.5M501.5 786.1v2M501.5 788v1.1M501.5 789.1v3.2M501.5 792.8v2.6M501.5 795.5v1.6M502.4 780v5.9M502.4 786.7v2.4M502.4 789.6v2.1M502.4 791.7v3.2M502.4 794.9v2.1M503.3 781.8v2.3M503.3 784.8v3.2M503.3 788.7v6.1M503.3 794.8v1.2M504.2 781.1v2.2M504.2 783.3v3.3M504.2 786.5v6.2M504.2 793.6v2.9M504.2 797.2v0.8M505.1 779.9v4.1M505.1 784.8v2.9M505.1 787.7v3.1M505.1 790.7v7.7M506 780.5v0.9M506 781.4v7.1M506 789.2v1.6M506 791.9v1.1M506 793.8v1.6M506 796.3v0M506.9 780.5v1.3M506.9 782.7v6.4M506.9 789.1v4M506.9 793.6v2.3M507.8 779.4v8.6M507.8 788v5.3M507.8 793.3v1.4M507.8 794.7v2.5M508.7 780.9v9M508.7 789.9v7.7M509.6 782.7v7.3M509.6 790.1v3.2M509.6 794v2.4M510.5 781.5v1.4M510.5 782.9v3.8M510.5 787.5v2.3M510.5 789.9v2M510.5 792.6v3.6M511.4 781.5v2.9M511.4 784.5v6M511.4 791.1v1.8M511.4 793.9v2.1M512.3 780.6v4.2M512.3 785.7v1.9M512.3 787.6v1.7M512.3 790.1v6.9" stroke="#0a0aec" stroke-width="1.25" fill="none"/><path d="M78.2 790.5h1.6v1.6h-1.6zM79.3 791h1.6v1.6h-1.6zM86.1 794h1.6v1.6h-1.6zM75.3 779.6h1.6v1.6h-1.6zM84.2 779.9h1.6v1.6h-1.6zM77.1 792.7h1.6v1.6h-1.6zM77 794.3h1.6v1.6h-1.6zM73.7 778.4h1.6v1.6h-1.6zM85.5 793.6h1.6v1.6h-1.6zM81.7 773.9h1.6v1.6h-1.6zM83.8 789.6h1.6v1.6h-1.6zM77.9 791.4h1.6v1.6h-1.6zM79.2 793.5h1.6v1.6h-1.6zM75.5 796.1h1.6v1.6h-1.6zM75.7 775.6h1.6v1.6h-1.6zM81.1 791.4h1.6v1.6h-1.6zM97.8 790.5h1.6v1.6h-1.6zM102.4 777.6h1.6v1.6h-1.6zM105.1 776.2h1.6v1.6h-1.6zM101.6 776.8h1.6v1.6h-1.6zM102.5 780.5h1.6v1.6h-1.6zM92.8 791.4h1.6v1.6h-1.6zM100.7 790h1.6v1.6h-1.6zM101.5 790.8h1.6v1.6h-1.6zM91.8 778.3h1.6v1.6h-1.6zM96.8 776h1.6v1.6h-1.6zM94.3 776.5h1.6v1.6h-1.6zM97.3 791.5h1.6v1.6h-1.6zM91.5 792.9h1.6v1.6h-1.6zM104.5 790.1h1.6v1.6h-1.6zM99.5 779.1h1.6v1.6h-1.6zM105.4 778.8h1.6v1.6h-1.6zM93.8 791.7h1.6v1.6h-1.6zM97.7 780.4h1.6v1.6h-1.6zM99.6 789.9h1.6v1.6h-1.6zM100.8 794.6h1.6v1.6h-1.6zM134 796.1h1.6v1.6h-1.6zM137.7 776h1.6v1.6h-1.6zM115.6 795.2h1.6v1.6h-1.6zM127.8 790.2h1.6v1.6h-1.6zM140 792.4h1.6v1.6h-1.6zM131.5 776.8h1.6v1.6h-1.6zM125.9 794.2h1.6v1.6h-1.6zM115.6 777.1h1.6v1.6h-1.6zM119.8 775.5h1.6v1.6h-1.6zM115.5 774h1.6v1.6h-1.6zM138.6 790.6h1.6v1.6h-1.6zM122.6 776.7h1.6v1.6h-1.6zM125.2 780.3h1.6v1.6h-1.6zM135 795.7h1.6v1.6h-1.6zM120 775.6h1.6v1.6h-1.6zM130.5 776.2h1.6v1.6h-1.6zM131.6 793.9h1.6v1.6h-1.6zM131.7 780.8h1.6v1.6h-1.6zM131.9 789.6h1.6v1.6h-1.6zM124.6 791.4h1.6v1.6h-1.6zM128.9 795.4h1.6v1.6h-1.6zM108.1 778.3h1.6v1.6h-1.6zM129.1 775.2h1.6v1.6h-1.6zM109.2 793.5h1.6v1.6h-1.6zM117.3 779.3h1.6v1.6h-1.6zM130.7 789.9h1.6v1.6h-1.6zM130.8 790.4h1.6v1.6h-1.6zM138.9 779.9h1.6v1.6h-1.6zM140.8 795.5h1.6v1.6h-1.6zM133.2 779.8h1.6v1.6h-1.6zM109.8 792.4h1.6v1.6h-1.6zM136.6 776.3h1.6v1.6h-1.6zM139.7 796.2h1.6v1.6h-1.6zM114.6 792.1h1.6v1.6h-1.6zM141 792.4h1.6v1.6h-1.6zM134.3 791.6h1.6v1.6h-1.6zM113.4 791.7h1.6v1.6h-1.6zM154.2 792h1.6v1.6h-1.6zM157.5 791.9h1.6v1.6h-1.6zM154.7 792.6h1.6v1.6h-1.6zM161.2 796.1h1.6v1.6h-1.6zM155.3 779.1h1.6v1.6h-1.6zM159 790.7h1.6v1.6h-1.6zM152.9 780.6h1.6v1.6h-1.6zM161.1 776.5h1.6v1.6h-1.6zM167.3 780h1.6v1.6h-1.6zM166.9 779.2h1.6v1.6h-1.6zM166.7 790.4h1.6v1.6h-1.6zM169.7 779.9h1.6v1.6h-1.6zM167.2 780.6h1.6v1.6h-1.6zM167.3 792.5h1.6v1.6h-1.6zM185.5 789.9h1.6v1.6h-1.6zM175.9 777.3h1.6v1.6h-1.6zM179.3 791.9h1.6v1.6h-1.6zM174.6 789.8h1.6v1.6h-1.6zM197.3 790.8h1.6v1.6h-1.6zM172 793h1.6v1.6h-1.6zM174.4 793.5h1.6v1.6h-1.6zM188.4 789.6h1.6v1.6h-1.6zM175 790.7h1.6v1.6h-1.6zM189.2 791.3h1.6v1.6h-1.6zM181.8 779.3h1.6v1.6h-1.6zM193.4 790.8h1.6v1.6h-1.6zM196.7 790h1.6v1.6h-1.6zM187.5 790.2h1.6v1.6h-1.6zM186.9 780.4h1.6v1.6h-1.6zM182.3 791.4h1.6v1.6h-1.6zM184.9 789.9h1.6v1.6h-1.6zM192.5 775.4h1.6v1.6h-1.6zM188.7 777h1.6v1.6h-1.6zM173.1 793.7h1.6v1.6h-1.6zM176.4 780.1h1.6v1.6h-1.6zM184 780h1.6v1.6h-1.6zM189 779.5h1.6v1.6h-1.6zM182.6 791.4h1.6v1.6h-1.6zM188.2 790.6h1.6v1.6h-1.6zM179.5 779.9h1.6v1.6h-1.6zM181.2 792.1h1.6v1.6h-1.6zM195.9 775.5h1.6v1.6h-1.6zM182.4 794.5h1.6v1.6h-1.6zM209.3 795.1h1.6v1.6h-1.6zM205 791.2h1.6v1.6h-1.6zM207.9 775.2h1.6v1.6h-1.6zM204.8 791.8h1.6v1.6h-1.6zM222.6 779.3h1.6v1.6h-1.6zM213 778.1h1.6v1.6h-1.6zM201.8 790.5h1.6v1.6h-1.6zM223.7 780.7h1.6v1.6h-1.6zM217.1 790.3h1.6v1.6h-1.6zM208.4 776.9h1.6v1.6h-1.6zM219.8 775.6h1.6v1.6h-1.6zM208.1 778.7h1.6v1.6h-1.6zM215.4 790.9h1.6v1.6h-1.6zM217.4 779.4h1.6v1.6h-1.6zM206.9 778.4h1.6v1.6h-1.6zM205.7 793.9h1.6v1.6h-1.6zM214.7 790.6h1.6v1.6h-1.6zM222.3 793.1h1.6v1.6h-1.6zM209.6 793.9h1.6v1.6h-1.6zM218.3 777.4h1.6v1.6h-1.6zM209 780h1.6v1.6h-1.6zM208.5 779.7h1.6v1.6h-1.6zM217.7 780.8h1.6v1.6h-1.6zM207.1 791.8h1.6v1.6h-1.6zM205.1 780.2h1.6v1.6h-1.6zM217.4 780.9h1.6v1.6h-1.6zM223.4 792h1.6v1.6h-1.6zM219.3 778.9h1.6v1.6h-1.6zM200.3 777.4h1.6v1.6h-1.6zM248.3 780.8h1.6v1.6h-1.6zM245.3 790.9h1.6v1.6h-1.6zM235 790.9h1.6v1.6h-1.6zM249.3 781.6h1.6v1.6h-1.6zM240.9 796.8h1.6v1.6h-1.6zM248.8 781.8h1.6v1.6h-1.6zM237.3 790.7h1.6v1.6h-1.6zM231.3 793.3h1.6v1.6h-1.6zM242 790.9h1.6v1.6h-1.6zM235.6 791.3h1.6v1.6h-1.6zM246.1 781.6h1.6v1.6h-1.6zM238.1 790.9h1.6v1.6h-1.6zM239.9 781.1h1.6v1.6h-1.6zM228.8 793.9h1.6v1.6h-1.6zM234.9 778.7h1.6v1.6h-1.6zM238.9 781.7h1.6v1.6h-1.6zM242.8 795h1.6v1.6h-1.6zM232.4 777.2h1.6v1.6h-1.6zM249.2 791.1h1.6v1.6h-1.6zM230.3 780.5h1.6v1.6h-1.6zM232.2 795.3h1.6v1.6h-1.6zM247 791.4h1.6v1.6h-1.6zM236.2 790.6h1.6v1.6h-1.6zM237.7 791.7h1.6v1.6h-1.6zM244.8 780.4h1.6v1.6h-1.6zM226.7 778.2h1.6v1.6h-1.6zM239.3 776.5h1.6v1.6h-1.6zM237 792.4h1.6v1.6h-1.6zM270.6 778h1.6v1.6h-1.6zM257.3 792.7h1.6v1.6h-1.6zM257.2 792.4h1.6v1.6h-1.6zM255.4 777.6h1.6v1.6h-1.6zM258.8 778.1h1.6v1.6h-1.6zM271.4 776.9h1.6v1.6h-1.6zM266.7 777.9h1.6v1.6h-1.6zM266.5 794.6h1.6v1.6h-1.6zM253.9 790.6h1.6v1.6h-1.6zM270.7 775.5h1.6v1.6h-1.6zM258.4 791.7h1.6v1.6h-1.6zM262.8 780.3h1.6v1.6h-1.6zM259.3 779.7h1.6v1.6h-1.6zM267.8 780.3h1.6v1.6h-1.6zM268.5 778.4h1.6v1.6h-1.6zM263.3 790.3h1.6v1.6h-1.6zM265.6 793.5h1.6v1.6h-1.6zM268.3 790.1h1.6v1.6h-1.6zM255.4 775.8h1.6v1.6h-1.6zM262.9 794.3h1.6v1.6h-1.6zM266.9 790h1.6v1.6h-1.6zM261.4 776h1.6v1.6h-1.6zM283.3 779.7h1.6v1.6h-1.6zM286.4 791.1h1.6v1.6h-1.6zM279.9 790.9h1.6v1.6h-1.6zM274.9 792.8h1.6v1.6h-1.6zM286.9 775.8h1.6v1.6h-1.6zM283.3 789.8h1.6v1.6h-1.6zM286 790.9h1.6v1.6h-1.6zM275.6 776.9h1.6v1.6h-1.6zM281.7 779.1h1.6v1.6h-1.6zM289 780.7h1.6v1.6h-1.6zM277.6 780h1.6v1.6h-1.6zM275.9 791.2h1.6v1.6h-1.6zM278.7 790h1.6v1.6h-1.6zM290.9 776.2h1.6v1.6h-1.6zM291.8 792.5h1.6v1.6h-1.6zM290 778.8h1.6v1.6h-1.6zM286.7 790.6h1.6v1.6h-1.6zM279.5 790.7h1.6v1.6h-1.6zM276.9 776.6h1.6v1.6h-1.6zM277.5 790.1h1.6v1.6h-1.6zM275.4 791.4h1.6v1.6h-1.6zM297.8 780.2h1.6v1.6h-1.6zM296.9 777.4h1.6v1.6h-1.6zM304.1 777.8h1.6v1.6h-1.6zM305.3 790.5h1.6v1.6h-1.6zM303 790.3h1.6v1.6h-1.6zM311.9 795.1h1.6v1.6h-1.6zM307.8 791.7h1.6v1.6h-1.6zM309.9 779.9h1.6v1.6h-1.6zM306.3 774.1h1.6v1.6h-1.6zM306 790.7h1.6v1.6h-1.6zM313.8 778.6h1.6v1.6h-1.6zM301.5 790h1.6v1.6h-1.6zM304 777.4h1.6v1.6h-1.6zM310.2 794.3h1.6v1.6h-1.6zM302.1 790.9h1.6v1.6h-1.6zM311.8 779h1.6v1.6h-1.6zM313 780.1h1.6v1.6h-1.6zM318.7 779.2h1.6v1.6h-1.6zM317.8 791.4h1.6v1.6h-1.6zM318.7 793.5h1.6v1.6h-1.6zM317.2 778.4h1.6v1.6h-1.6zM318.8 779.1h1.6v1.6h-1.6zM327.9 778.9h1.6v1.6h-1.6zM330.3 780.3h1.6v1.6h-1.6zM332.2 790.3h1.6v1.6h-1.6zM331.6 791.2h1.6v1.6h-1.6zM326.8 778.9h1.6v1.6h-1.6zM331.7 795.7h1.6v1.6h-1.6zM326.9 780.2h1.6v1.6h-1.6zM328.4 778.5h1.6v1.6h-1.6zM339.3 793h1.6v1.6h-1.6zM345.1 790.6h1.6v1.6h-1.6zM351.7 777.4h1.6v1.6h-1.6zM340.4 791.9h1.6v1.6h-1.6zM348.6 790.5h1.6v1.6h-1.6zM350 792.8h1.6v1.6h-1.6zM338.1 794.1h1.6v1.6h-1.6zM339.3 780.2h1.6v1.6h-1.6zM346.6 789.8h1.6v1.6h-1.6zM347.9 778.8h1.6v1.6h-1.6zM339.2 775.2h1.6v1.6h-1.6zM352.4 779.9h1.6v1.6h-1.6zM351 776.4h1.6v1.6h-1.6zM337.6 792.6h1.6v1.6h-1.6zM349.8 790.9h1.6v1.6h-1.6zM343.1 790.4h1.6v1.6h-1.6zM348.2 778.6h1.6v1.6h-1.6zM351.8 780.5h1.6v1.6h-1.6zM355.9 780.9h1.6v1.6h-1.6zM368.5 792.8h1.6v1.6h-1.6zM360.8 779.8h1.6v1.6h-1.6zM372.1 789.7h1.6v1.6h-1.6zM368.9 792.8h1.6v1.6h-1.6zM372.1 790.3h1.6v1.6h-1.6zM361.3 780.3h1.6v1.6h-1.6zM371 777.4h1.6v1.6h-1.6zM362.5 796.4h1.6v1.6h-1.6zM360.8 776h1.6v1.6h-1.6zM361.7 791.4h1.6v1.6h-1.6zM371 790h1.6v1.6h-1.6zM362.5 779.7h1.6v1.6h-1.6zM368.8 789.8h1.6v1.6h-1.6zM363.2 776.7h1.6v1.6h-1.6zM364.7 789.5h1.6v1.6h-1.6zM379.2 790.4h1.6v1.6h-1.6zM379 775.8h1.6v1.6h-1.6zM378.7 794h1.6v1.6h-1.6zM389.6 790.8h1.6v1.6h-1.6zM389.6 790.1h1.6v1.6h-1.6zM388.5 776h1.6v1.6h-1.6zM396.4 777.6h1.6v1.6h-1.6zM402.7 789.7h1.6v1.6h-1.6zM396.9 779.3h1.6v1.6h-1.6zM402 780.8h1.6v1.6h-1.6zM396.6 790.6h1.6v1.6h-1.6zM404.3 779.5h1.6v1.6h-1.6zM398.7 780.1h1.6v1.6h-1.6zM400.7 790.7h1.6v1.6h-1.6zM395 790.2h1.6v1.6h-1.6zM398 775.4h1.6v1.6h-1.6zM405.2 790.9h1.6v1.6h-1.6zM404.2 780.6h1.6v1.6h-1.6zM411.4 792.2h1.6v1.6h-1.6zM419.1 789.7h1.6v1.6h-1.6zM416.8 789.9h1.6v1.6h-1.6zM409.5 791.8h1.6v1.6h-1.6zM413.4 774.8h1.6v1.6h-1.6zM412.7 791h1.6v1.6h-1.6zM418.5 795.2h1.6v1.6h-1.6zM418.7 792h1.6v1.6h-1.6zM417.3 790h1.6v1.6h-1.6zM426.5 791.5h1.6v1.6h-1.6zM430 789.8h1.6v1.6h-1.6zM429.2 789.8h1.6v1.6h-1.6zM425.1 778.2h1.6v1.6h-1.6zM430.7 780.6h1.6v1.6h-1.6zM424.3 791.1h1.6v1.6h-1.6zM428 790.6h1.6v1.6h-1.6zM425.7 791.1h1.6v1.6h-1.6zM427.5 794.6h1.6v1.6h-1.6zM442.1 777.7h1.6v1.6h-1.6zM440.9 779.1h1.6v1.6h-1.6zM437.5 794.7h1.6v1.6h-1.6zM439.4 791h1.6v1.6h-1.6zM443.7 779.5h1.6v1.6h-1.6zM440.8 781.7h1.6v1.6h-1.6zM441.3 779.9h1.6v1.6h-1.6zM438.3 777.4h1.6v1.6h-1.6zM437.9 780.8h1.6v1.6h-1.6zM437.8 797.4h1.6v1.6h-1.6zM451.6 779.3h1.6v1.6h-1.6zM450.7 779.2h1.6v1.6h-1.6zM452.6 781.5h1.6v1.6h-1.6zM453.5 781.1h1.6v1.6h-1.6zM449.3 778h1.6v1.6h-1.6zM452.8 792h1.6v1.6h-1.6zM455.9 792.7h1.6v1.6h-1.6zM449.6 781.2h1.6v1.6h-1.6zM452.3 792.1h1.6v1.6h-1.6zM453.8 795.2h1.6v1.6h-1.6zM452.9 794.8h1.6v1.6h-1.6zM457.1 793.7h1.6v1.6h-1.6zM454 792.2h1.6v1.6h-1.6zM462 791h1.6v1.6h-1.6zM459.7 778h1.6v1.6h-1.6zM460 779.3h1.6v1.6h-1.6zM463.1 778.5h1.6v1.6h-1.6zM462.6 790.4h1.6v1.6h-1.6zM459.5 780.5h1.6v1.6h-1.6zM460.9 792.2h1.6v1.6h-1.6zM468.8 781.4h1.6v1.6h-1.6zM470.6 793.7h1.6v1.6h-1.6zM470.6 780.1h1.6v1.6h-1.6zM471.9 792.9h1.6v1.6h-1.6zM472.3 791h1.6v1.6h-1.6zM471.7 791.1h1.6v1.6h-1.6zM481.3 776.1h1.6v1.6h-1.6zM478.6 780.4h1.6v1.6h-1.6zM479.9 779h1.6v1.6h-1.6zM477.9 780.5h1.6v1.6h-1.6zM481.3 796.1h1.6v1.6h-1.6zM481.3 780.7h1.6v1.6h-1.6zM488.5 796.1h1.6v1.6h-1.6zM485.4 778h1.6v1.6h-1.6zM486.6 781.2h1.6v1.6h-1.6zM485 781.8h1.6v1.6h-1.6zM487.1 791.5h1.6v1.6h-1.6zM496.2 795.5h1.6v1.6h-1.6zM500.4 797.1h1.6v1.6h-1.6zM503 779h1.6v1.6h-1.6zM493.1 794.8h1.6v1.6h-1.6zM492.8 778.5h1.6v1.6h-1.6zM507.8 797.9h1.6v1.6h-1.6zM492.3 780.3h1.6v1.6h-1.6zM491.6 781.5h1.6v1.6h-1.6zM498 779.4h1.6v1.6h-1.6zM503.2 779h1.6v1.6h-1.6zM496.9 780.8h1.6v1.6h-1.6zM498.2 794.7h1.6v1.6h-1.6zM501.6 797.9h1.6v1.6h-1.6zM504.3 800.5h1.6v1.6h-1.6zM495.3 781.3h1.6v1.6h-1.6zM509.5 795.1h1.6v1.6h-1.6zM510.7 773.8h1.6v1.6h-1.6zM508.6 780.9h1.6v1.6h-1.6zM498.1 798.6h1.6v1.6h-1.6zM503.8 795.4h1.6v1.6h-1.6zM504.2 803.3h1.6v1.6h-1.6zM502.9 780.6h1.6v1.6h-1.6zM503.9 794.1h1.6v1.6h-1.6zM109.1 763.9h1.6v1.6h-1.6zM139.2 765.8h1.6v1.6h-1.6zM178.6 732.4h1.6v1.6h-1.6zM193 763.2h1.6v1.6h-1.6zM285.2 771.8h1.6v1.6h-1.6zM81.2 768.5h1.6v1.6h-1.6zM426.9 727.9h1.6v1.6h-1.6zM413.6 815.6h1.6v1.6h-1.6zM433.2 800.9h1.6v1.6h-1.6z" fill="#0a0aec"/><path d="M144 794.4v1.8M144 796.2v6.4M144 802.6v0.5M144.9 793.9v3.9M144.9 798.6v3.2M144.9 802.6v2.4M145.8 792.7v2.9M145.8 796.7v1.3M145.8 798.6v3M145.8 802v1.4M145.8 804.2v1.3M146.7 792.6v4M146.7 797.4v5.1M146.7 803.3v0.6M147.6 792.9v4.6M147.6 798.5v5.7M148.5 793.5v2.3M148.5 796.8v1.4M148.5 798.8v0.9M148.5 799.7v1.7M148.5 801.9v4.5M149.4 794.3v1.8M149.4 796.1v5.1M149.4 801.2v3.9M150.3 794.3v4.7M150.3 799v5.3M151.2 794v4.4M151.2 798.4v6.1M152.1 793.4v2.1M152.1 795.6v1.4M152.1 797v2.1M152.1 799v4.6M152.1 804.7v1.2M153 793.1v3M153 797.1v1.2M153 798.3v3.5M153 802.9v1.9M162.6 787.9v5.3M162.6 793.2v4.4M163.5 787.2v3.9M163.5 791v7.5M164.4 785.7v2.9M164.4 789.2v3.1M164.4 793.1v1.2M164.4 795.4v3.6M165.3 785.4v2M165.3 788.2v3.8M165.3 792.8v4.1M165.3 797.8v0.4M166.2 786.1v5.6M166.2 792.7v2.4M166.2 795.1v3.2M167.1 785.9v2.3M167.1 788.2v2.9M167.1 791.8v2M167.1 793.8v5.1M321.4 792.8v4.5M321.4 797.3v1M321.4 799v2.3M322.3 792v1.2M322.3 793.2v4.3M322.3 798.2v1.9M322.3 800.1v1.1M322.3 801.2v1.9M323.2 792.3v8.8M323.2 801.9v1.3M324.1 791.5v3.2M324.1 795.7v5.5M324.1 801.9v1.4M325 791.3v2.2M325 794.2v1.8M325 797v2.9M325 800.7v2.5M325.9 792.7v0.8M325.9 793.5v5.5M325.9 799.7v3.5M357.3 791.1v4.1M357.3 795.1v4.3M358.2 791v4.6M358.2 795.7v1.2M358.2 797.5v3.5M359.1 790.8v1.6M359.1 793.3v2.8M359.1 796.1v1M359.1 797.1v5.1M360 789.6v2M360 792.4v8.2" stroke="#0f9a2a" stroke-width="1.25" fill="none"/><path d="M148 792.1h1.6v1.6h-1.6zM144.6 803.2h1.6v1.6h-1.6zM145.2 791.2h1.6v1.6h-1.6zM150.4 802.4h1.6v1.6h-1.6zM145.2 803.2h1.6v1.6h-1.6zM150.8 803.7h1.6v1.6h-1.6zM147 793.4h1.6v1.6h-1.6zM144.9 806.5h1.6v1.6h-1.6zM143.9 789.4h1.6v1.6h-1.6zM148.1 804h1.6v1.6h-1.6zM164.4 787.1h1.6v1.6h-1.6zM163.7 786.3h1.6v1.6h-1.6zM164.8 796.5h1.6v1.6h-1.6zM163.5 785.9h1.6v1.6h-1.6zM165.6 799h1.6v1.6h-1.6zM164.2 799.4h1.6v1.6h-1.6zM166.6 786.1h1.6v1.6h-1.6zM162.4 798h1.6v1.6h-1.6zM162.9 798h1.6v1.6h-1.6zM323.6 802.2h1.6v1.6h-1.6zM321.4 801.2h1.6v1.6h-1.6zM324.4 802.8h1.6v1.6h-1.6zM321.8 789.9h1.6v1.6h-1.6zM324 790.6h1.6v1.6h-1.6zM358.3 799.8h1.6v1.6h-1.6zM358.6 789h1.6v1.6h-1.6zM359.2 788.6h1.6v1.6h-1.6zM357.3 799h1.6v1.6h-1.6zM356.7 798.3h1.6v1.6h-1.6zM359.3 801.9h1.6v1.6h-1.6zM331.1 787.5h1.6v1.6h-1.6zM331.9 789.1h1.6v1.6h-1.6zM332.3 790.1h1.6v1.6h-1.6zM331.7 785.8h1.6v1.6h-1.6zM331.8 765.7h1.6v1.6h-1.6zM332.4 782h1.6v1.6h-1.6zM330.9 770.2h1.6v1.6h-1.6zM331.7 799.5h1.6v1.6h-1.6zM332.9 779.7h1.6v1.6h-1.6zM331.4 793.2h1.6v1.6h-1.6zM331.7 767.5h1.6v1.6h-1.6zM332 769.9h1.6v1.6h-1.6zM331.8 786.7h1.6v1.6h-1.6zM331.6 798.5h1.6v1.6h-1.6zM331.5 789.9h1.6v1.6h-1.6zM331.9 792.8h1.6v1.6h-1.6zM332.1 776h1.6v1.6h-1.6zM332 787.2h1.6v1.6h-1.6zM332.2 781.5h1.6v1.6h-1.6zM331.4 777.2h1.6v1.6h-1.6zM331.2 784h1.6v1.6h-1.6zM332 793.2h1.6v1.6h-1.6zM332.7 795.2h1.6v1.6h-1.6zM332.3 769.1h1.6v1.6h-1.6zM331.9 773.9h1.6v1.6h-1.6zM332.2 765.5h1.6v1.6h-1.6zM332.5 782.3h1.6v1.6h-1.6zM331.7 787.5h1.6v1.6h-1.6zM331.9 799.6h1.6v1.6h-1.6zM331 798h1.6v1.6h-1.6zM332.2 788.8h1.6v1.6h-1.6zM332.7 779.9h1.6v1.6h-1.6zM332.6 766.5h1.6v1.6h-1.6zM331.6 779.8h1.6v1.6h-1.6zM332.4 778.7h1.6v1.6h-1.6zM331.8 767.1h1.6v1.6h-1.6zM332 785.8h1.6v1.6h-1.6zM331.4 797.9h1.6v1.6h-1.6zM331.1 785h1.6v1.6h-1.6zM331.8 784.7h1.6v1.6h-1.6zM199.7 778.6h1.6v1.6h-1.6zM199 783.2h1.6v1.6h-1.6zM199.5 790.4h1.6v1.6h-1.6zM200.2 779.3h1.6v1.6h-1.6zM199.7 771.4h1.6v1.6h-1.6zM199.6 784.8h1.6v1.6h-1.6zM200 787.5h1.6v1.6h-1.6zM199.6 794.4h1.6v1.6h-1.6zM198.8 786.4h1.6v1.6h-1.6zM199.1 772.5h1.6v1.6h-1.6zM199.3 779.1h1.6v1.6h-1.6zM200.1 798.4h1.6v1.6h-1.6zM199.9 776h1.6v1.6h-1.6zM199.7 786.8h1.6v1.6h-1.6zM200.1 774.8h1.6v1.6h-1.6zM200.1 796.9h1.6v1.6h-1.6zM199.5 774.3h1.6v1.6h-1.6zM199.9 785.7h1.6v1.6h-1.6zM200.5 794.5h1.6v1.6h-1.6zM200 772.9h1.6v1.6h-1.6zM200.1 776.9h1.6v1.6h-1.6zM199.7 772.9h1.6v1.6h-1.6zM199.8 795.1h1.6v1.6h-1.6zM200 773.3h1.6v1.6h-1.6zM199.8 770h1.6v1.6h-1.6zM199.7 792.7h1.6v1.6h-1.6zM199.3 798.7h1.6v1.6h-1.6zM199.5 796.9h1.6v1.6h-1.6zM199.6 791.7h1.6v1.6h-1.6zM200.3 769.4h1.6v1.6h-1.6zM199.5 789.4h1.6v1.6h-1.6zM199.9 772.9h1.6v1.6h-1.6zM199.1 797.5h1.6v1.6h-1.6zM199.2 782.1h1.6v1.6h-1.6zM200.2 781.9h1.6v1.6h-1.6zM431.9 782.7h1.6v1.6h-1.6zM431.7 780.5h1.6v1.6h-1.6zM432.2 785.3h1.6v1.6h-1.6zM431.9 775.9h1.6v1.6h-1.6zM431.9 778.4h1.6v1.6h-1.6zM431.9 782.4h1.6v1.6h-1.6zM431.7 784h1.6v1.6h-1.6zM432 777.3h1.6v1.6h-1.6zM431.8 771.6h1.6v1.6h-1.6zM431.8 774.7h1.6v1.6h-1.6zM431.1 770.3h1.6v1.6h-1.6zM431.9 782.9h1.6v1.6h-1.6zM432.2 771.6h1.6v1.6h-1.6zM432.3 771h1.6v1.6h-1.6zM432.1 781.1h1.6v1.6h-1.6zM431.9 786.9h1.6v1.6h-1.6zM431.9 777.2h1.6v1.6h-1.6zM432 783.8h1.6v1.6h-1.6zM431.9 780.3h1.6v1.6h-1.6zM431.7 776.9h1.6v1.6h-1.6zM432.3 775.6h1.6v1.6h-1.6zM431.9 779.7h1.6v1.6h-1.6zM431.8 779.2h1.6v1.6h-1.6zM431.5 778.6h1.6v1.6h-1.6zM474 787.4h1.6v1.6h-1.6zM474.3 791.9h1.6v1.6h-1.6zM473.9 796h1.6v1.6h-1.6zM474.2 797.7h1.6v1.6h-1.6zM474.6 786.6h1.6v1.6h-1.6zM473.6 787.8h1.6v1.6h-1.6zM474.1 787.4h1.6v1.6h-1.6zM474.2 793.4h1.6v1.6h-1.6zM474.3 793h1.6v1.6h-1.6zM474 797.7h1.6v1.6h-1.6zM473.8 785.6h1.6v1.6h-1.6zM474.2 790.9h1.6v1.6h-1.6zM473.9 792.9h1.6v1.6h-1.6zM474.7 796.2h1.6v1.6h-1.6zM473.9 784.3h1.6v1.6h-1.6zM474.3 796h1.6v1.6h-1.6zM474.3 799.2h1.6v1.6h-1.6zM473.4 800.9h1.6v1.6h-1.6zM474.8 794.1h1.6v1.6h-1.6zM474.3 800.1h1.6v1.6h-1.6zM474 800.6h1.6v1.6h-1.6zM320 808.4h1.9v1.9h-1.9zM320.1 820.5h1.9v1.9h-1.9zM320.1 834.5h1.9v1.9h-1.9z" fill="#0f9a2a"/><path d="M72.5 784.9h2.4v2.4h-2.4zM73.6 784.4h2.4v2.4h-2.4zM74.7 784.5h2.4v2.4h-2.4zM75.8 784.5h2.4v2.4h-2.4zM76.9 784.9h2.4v2.4h-2.4zM78 785.2h2.4v2.4h-2.4zM79.1 784.9h2.4v2.4h-2.4zM80.2 785.1h2.4v2.4h-2.4zM81.3 784.7h2.4v2.4h-2.4zM82.4 785.3h2.4v2.4h-2.4zM83.5 784.5h2.4v2.4h-2.4zM84.6 784.7h2.4v2.4h-2.4zM85.7 785.3h2.4v2.4h-2.4zM92.3 786.6h2.4v2.4h-2.4zM93.4 785.8h2.4v2.4h-2.4zM94.5 786.5h2.4v2.4h-2.4zM95.6 785.8h2.4v2.4h-2.4zM96.7 786h2.4v2.4h-2.4zM97.8 786.1h2.4v2.4h-2.4zM98.9 782h2.4v2.4h-2.4zM100 782.4h2.4v2.4h-2.4zM101.1 782.2h2.4v2.4h-2.4zM102.2 782.1h2.4v2.4h-2.4zM103.3 782.7h2.4v2.4h-2.4zM104.4 782.3h2.4v2.4h-2.4zM105.5 785.8h2.4v2.4h-2.4zM108.7 786.1h2.4v2.4h-2.4zM109.8 786h2.4v2.4h-2.4zM110.9 786.1h2.4v2.4h-2.4zM112 785.9h2.4v2.4h-2.4zM113.1 785.4h2.4v2.4h-2.4zM114.2 786.8h2.4v2.4h-2.4zM115.3 786.6h2.4v2.4h-2.4zM116.4 786.9h2.4v2.4h-2.4zM117.5 786.5h2.4v2.4h-2.4zM118.6 784.1h2.4v2.4h-2.4zM119.7 784.3h2.4v2.4h-2.4zM120.8 783.3h2.4v2.4h-2.4zM121.9 784.5h2.4v2.4h-2.4zM123 784.8h2.4v2.4h-2.4zM124.1 785.9h2.4v2.4h-2.4zM125.2 785h2.4v2.4h-2.4zM126.3 785.6h2.4v2.4h-2.4zM127.4 785.3h2.4v2.4h-2.4zM128.5 784.8h2.4v2.4h-2.4zM129.6 785.8h2.4v2.4h-2.4zM130.7 785h2.4v2.4h-2.4zM131.8 784.4h2.4v2.4h-2.4zM132.9 784.8h2.4v2.4h-2.4zM134 784.6h2.4v2.4h-2.4zM135.1 784.5h2.4v2.4h-2.4zM136.2 784.7h2.4v2.4h-2.4zM137.3 784.7h2.4v2.4h-2.4zM138.4 784h2.4v2.4h-2.4zM139.5 785.1h2.4v2.4h-2.4zM140.6 785.7h2.4v2.4h-2.4zM141.7 785.3h2.4v2.4h-2.4zM144.3 798.6h2.4v2.4h-2.4zM145.4 798.9h2.4v2.4h-2.4zM146.5 798.5h2.4v2.4h-2.4zM147.6 799.1h2.4v2.4h-2.4zM148.7 798.4h2.4v2.4h-2.4zM149.8 798.5h2.4v2.4h-2.4zM150.9 798h2.4v2.4h-2.4zM152 798.1h2.4v2.4h-2.4zM153.1 797.9h2.4v2.4h-2.4zM153.9 786.6h2.4v2.4h-2.4zM155 786.2h2.4v2.4h-2.4zM156.1 785.8h2.4v2.4h-2.4zM157.2 786.6h2.4v2.4h-2.4zM158.3 787h2.4v2.4h-2.4zM159.4 785.9h2.4v2.4h-2.4zM160.5 786h2.4v2.4h-2.4zM161.6 786.5h2.4v2.4h-2.4zM162.9 791.2h2.4v2.4h-2.4zM164 791.7h2.4v2.4h-2.4zM165.1 791.7h2.4v2.4h-2.4zM166.2 791.1h2.4v2.4h-2.4zM167.7 782.6h2.4v2.4h-2.4zM168.8 782.3h2.4v2.4h-2.4zM169.9 786.2h2.4v2.4h-2.4zM172.7 784.8h2.4v2.4h-2.4zM173.8 785.3h2.4v2.4h-2.4zM174.9 785.6h2.4v2.4h-2.4zM176 785.2h2.4v2.4h-2.4zM177.1 785.2h2.4v2.4h-2.4zM178.2 785.4h2.4v2.4h-2.4zM179.3 786.1h2.4v2.4h-2.4zM180.4 786.3h2.4v2.4h-2.4zM181.5 785.7h2.4v2.4h-2.4zM182.6 786.3h2.4v2.4h-2.4zM183.7 784.7h2.4v2.4h-2.4zM184.8 784.1h2.4v2.4h-2.4zM185.9 783.9h2.4v2.4h-2.4zM187 784.6h2.4v2.4h-2.4zM188.1 784.5h2.4v2.4h-2.4zM189.2 785.6h2.4v2.4h-2.4zM190.3 785.5h2.4v2.4h-2.4zM191.4 785.3h2.4v2.4h-2.4zM192.5 785.1h2.4v2.4h-2.4zM193.6 785.7h2.4v2.4h-2.4zM194.7 784.9h2.4v2.4h-2.4zM195.8 784.8h2.4v2.4h-2.4zM196.9 784.6h2.4v2.4h-2.4zM198 786.5h2.4v2.4h-2.4zM201.1 784.9h2.4v2.4h-2.4zM202.2 785.1h2.4v2.4h-2.4zM203.3 785h2.4v2.4h-2.4zM204.4 785.5h2.4v2.4h-2.4zM205.5 787.9h2.4v2.4h-2.4zM206.6 787.3h2.4v2.4h-2.4zM207.7 788.5h2.4v2.4h-2.4zM208.8 785.8h2.4v2.4h-2.4zM209.9 785.5h2.4v2.4h-2.4zM211 785.9h2.4v2.4h-2.4zM212.1 784.9h2.4v2.4h-2.4zM213.2 784.4h2.4v2.4h-2.4zM214.3 784.2h2.4v2.4h-2.4zM215.4 784.3h2.4v2.4h-2.4zM216.5 783.8h2.4v2.4h-2.4zM217.6 786.1h2.4v2.4h-2.4zM218.7 785.8h2.4v2.4h-2.4zM219.8 786.3h2.4v2.4h-2.4zM220.9 784h2.4v2.4h-2.4zM222 784.9h2.4v2.4h-2.4zM223.1 786.8h2.4v2.4h-2.4zM224.2 786.6h2.4v2.4h-2.4zM227.8 785.2h2.4v2.4h-2.4zM228.9 785.5h2.4v2.4h-2.4zM230 785.9h2.4v2.4h-2.4zM231.1 785.6h2.4v2.4h-2.4zM232.2 785.8h2.4v2.4h-2.4zM233.3 785.5h2.4v2.4h-2.4zM234.4 785.2h2.4v2.4h-2.4zM235.5 785.7h2.4v2.4h-2.4zM236.6 783.6h2.4v2.4h-2.4zM237.7 783.6h2.4v2.4h-2.4zM238.8 783.8h2.4v2.4h-2.4zM239.9 784.3h2.4v2.4h-2.4zM241 784h2.4v2.4h-2.4zM242.1 785.3h2.4v2.4h-2.4zM243.2 785.7h2.4v2.4h-2.4zM244.3 786h2.4v2.4h-2.4zM245.4 786.2h2.4v2.4h-2.4zM246.5 786.1h2.4v2.4h-2.4zM247.6 785.9h2.4v2.4h-2.4zM248.7 785.6h2.4v2.4h-2.4zM249.8 785.5h2.4v2.4h-2.4zM253 784.2h2.4v2.4h-2.4zM254.1 784.4h2.4v2.4h-2.4zM255.2 783.9h2.4v2.4h-2.4zM256.3 784.5h2.4v2.4h-2.4zM257.4 784h2.4v2.4h-2.4zM258.5 786.4h2.4v2.4h-2.4zM259.6 785.3h2.4v2.4h-2.4zM260.7 786.1h2.4v2.4h-2.4zM261.8 784.1h2.4v2.4h-2.4zM262.9 784.4h2.4v2.4h-2.4zM264 784.7h2.4v2.4h-2.4zM265.1 784.9h2.4v2.4h-2.4zM266.2 785.4h2.4v2.4h-2.4zM267.3 785.6h2.4v2.4h-2.4zM268.4 785.2h2.4v2.4h-2.4zM269.5 785.8h2.4v2.4h-2.4zM270.6 784.9h2.4v2.4h-2.4zM271.7 784.2h2.4v2.4h-2.4zM272.8 784.5h2.4v2.4h-2.4zM275.9 785.1h2.4v2.4h-2.4zM277 784.8h2.4v2.4h-2.4zM278.1 785.1h2.4v2.4h-2.4zM279.2 786.8h2.4v2.4h-2.4zM280.3 786.2h2.4v2.4h-2.4zM281.4 786.4h2.4v2.4h-2.4zM282.5 786.2h2.4v2.4h-2.4zM283.6 786.4h2.4v2.4h-2.4zM284.7 783.9h2.4v2.4h-2.4zM285.8 783.7h2.4v2.4h-2.4zM286.9 784h2.4v2.4h-2.4zM288 783.5h2.4v2.4h-2.4zM289.1 783.7h2.4v2.4h-2.4zM290.2 783.9h2.4v2.4h-2.4zM291.3 783.8h2.4v2.4h-2.4zM292.4 783.7h2.4v2.4h-2.4zM293.5 784.2h2.4v2.4h-2.4zM297 783.8h2.4v2.4h-2.4zM298.1 784h2.4v2.4h-2.4zM299.2 784.6h2.4v2.4h-2.4zM300.3 783.6h2.4v2.4h-2.4zM302.5 784.8h2.4v2.4h-2.4zM303.6 785.8h2.4v2.4h-2.4zM304.7 785.8h2.4v2.4h-2.4zM305.8 785.6h2.4v2.4h-2.4zM306.9 785.5h2.4v2.4h-2.4zM308 785.5h2.4v2.4h-2.4zM309.1 786.9h2.4v2.4h-2.4zM310.2 786.7h2.4v2.4h-2.4zM311.3 786.2h2.4v2.4h-2.4zM312.4 786.9h2.4v2.4h-2.4zM313.5 786.8h2.4v2.4h-2.4zM317 781.8h2.4v2.4h-2.4zM318.1 782.1h2.4v2.4h-2.4zM319.2 781.9h2.4v2.4h-2.4zM320.3 782.7h2.4v2.4h-2.4zM321.7 794.4h2.4v2.4h-2.4zM322.8 794.5h2.4v2.4h-2.4zM323.9 794.8h2.4v2.4h-2.4zM325 794.1h2.4v2.4h-2.4zM326.8 784.4h2.4v2.4h-2.4zM327.9 785.1h2.4v2.4h-2.4zM329 784.9h2.4v2.4h-2.4zM330.1 785.1h2.4v2.4h-2.4zM331.2 784h2.4v2.4h-2.4zM332.3 784.7h2.4v2.4h-2.4zM333.4 784.9h2.4v2.4h-2.4zM336.3 784.9h2.4v2.4h-2.4zM337.4 785.2h2.4v2.4h-2.4zM338.5 786h2.4v2.4h-2.4zM339.6 784.5h2.4v2.4h-2.4zM340.7 785.1h2.4v2.4h-2.4zM341.8 785.6h2.4v2.4h-2.4zM342.9 785.5h2.4v2.4h-2.4zM344 785h2.4v2.4h-2.4zM345.1 784.6h2.4v2.4h-2.4zM346.2 783h2.4v2.4h-2.4zM347.3 784.1h2.4v2.4h-2.4zM348.4 784.3h2.4v2.4h-2.4zM349.5 783.7h2.4v2.4h-2.4zM350.6 783.6h2.4v2.4h-2.4zM351.7 784h2.4v2.4h-2.4zM352.8 783.6h2.4v2.4h-2.4zM356 785.4h2.4v2.4h-2.4zM357.6 793.5h2.4v2.4h-2.4zM358.7 793.6h2.4v2.4h-2.4zM359.8 793.3h2.4v2.4h-2.4zM360.8 785.4h2.4v2.4h-2.4zM361.9 786.3h2.4v2.4h-2.4zM363 785.5h2.4v2.4h-2.4zM364.1 786h2.4v2.4h-2.4zM365.2 785.2h2.4v2.4h-2.4zM366.3 783h2.4v2.4h-2.4zM367.4 783.5h2.4v2.4h-2.4zM368.5 783.3h2.4v2.4h-2.4zM369.6 782.6h2.4v2.4h-2.4zM370.7 783.3h2.4v2.4h-2.4zM371.8 783h2.4v2.4h-2.4zM372.9 785.5h2.4v2.4h-2.4zM377.1 783.6h2.4v2.4h-2.4zM378.2 784.7h2.4v2.4h-2.4zM379.3 784.1h2.4v2.4h-2.4zM388.9 784.9h2.4v2.4h-2.4zM390 784.8h2.4v2.4h-2.4zM394.6 785.5h2.4v2.4h-2.4zM395.7 785.9h2.4v2.4h-2.4zM396.8 786.7h2.4v2.4h-2.4zM397.9 785.5h2.4v2.4h-2.4zM399 785.4h2.4v2.4h-2.4zM400.1 786.8h2.4v2.4h-2.4zM401.2 785.9h2.4v2.4h-2.4zM402.3 786.3h2.4v2.4h-2.4zM403.4 786.2h2.4v2.4h-2.4zM404.5 785.6h2.4v2.4h-2.4zM409.8 784.6h2.4v2.4h-2.4zM410.9 785h2.4v2.4h-2.4zM412 784.3h2.4v2.4h-2.4zM413.1 784.4h2.4v2.4h-2.4zM414.2 784.1h2.4v2.4h-2.4zM415.3 784.7h2.4v2.4h-2.4zM416.4 783.1h2.4v2.4h-2.4zM417.5 783.2h2.4v2.4h-2.4zM418.6 783.5h2.4v2.4h-2.4zM419.7 783.6h2.4v2.4h-2.4zM422.8 784h2.4v2.4h-2.4zM423.9 784h2.4v2.4h-2.4zM425 783.6h2.4v2.4h-2.4zM426.1 784.1h2.4v2.4h-2.4zM427.2 784.5h2.4v2.4h-2.4zM428.3 785.4h2.4v2.4h-2.4zM429.4 785.4h2.4v2.4h-2.4zM430.5 785.8h2.4v2.4h-2.4zM431.6 785.1h2.4v2.4h-2.4zM432.7 785.2h2.4v2.4h-2.4zM435.8 785.2h2.4v2.4h-2.4zM436.9 784.9h2.4v2.4h-2.4zM438 784.6h2.4v2.4h-2.4zM439.1 785h2.4v2.4h-2.4zM440.2 785.7h2.4v2.4h-2.4zM441.3 785.8h2.4v2.4h-2.4zM442.4 786.5h2.4v2.4h-2.4zM443.5 786h2.4v2.4h-2.4zM444.6 786.5h2.4v2.4h-2.4zM448 786.8h2.4v2.4h-2.4zM449.1 786.8h2.4v2.4h-2.4zM450.2 787.1h2.4v2.4h-2.4zM451.3 786.9h2.4v2.4h-2.4zM452.4 787.6h2.4v2.4h-2.4zM453.5 789h2.4v2.4h-2.4zM454.6 789.6h2.4v2.4h-2.4zM455.7 786.4h2.4v2.4h-2.4zM456.8 786h2.4v2.4h-2.4zM460 785.1h2.4v2.4h-2.4zM461.1 784.9h2.4v2.4h-2.4zM462.2 785.1h2.4v2.4h-2.4zM463.3 785.5h2.4v2.4h-2.4zM464.4 785.2h2.4v2.4h-2.4zM468 784.4h2.4v2.4h-2.4zM469.1 784h2.4v2.4h-2.4zM470.2 784.9h2.4v2.4h-2.4zM471.3 784.5h2.4v2.4h-2.4zM472.4 785.5h2.4v2.4h-2.4zM473.5 785.2h2.4v2.4h-2.4zM478.7 785.6h2.4v2.4h-2.4zM479.8 785.6h2.4v2.4h-2.4zM480.9 785.8h2.4v2.4h-2.4zM485.6 785.2h2.4v2.4h-2.4zM486.7 784.6h2.4v2.4h-2.4zM487.8 785.6h2.4v2.4h-2.4zM488.9 785.4h2.4v2.4h-2.4zM491.9 789h2.4v2.4h-2.4zM493 788.6h2.4v2.4h-2.4zM494.1 788.9h2.4v2.4h-2.4zM495.2 788.7h2.4v2.4h-2.4zM496.3 788.6h2.4v2.4h-2.4zM497.4 788.6h2.4v2.4h-2.4zM498.5 788.9h2.4v2.4h-2.4zM499.6 789h2.4v2.4h-2.4zM500.7 789.1h2.4v2.4h-2.4zM501.8 788.7h2.4v2.4h-2.4zM502.9 789.1h2.4v2.4h-2.4zM504 788.8h2.4v2.4h-2.4zM505.1 789.2h2.4v2.4h-2.4zM506.2 789.3h2.4v2.4h-2.4zM507.3 788.9h2.4v2.4h-2.4zM508.4 788.4h2.4v2.4h-2.4zM509.5 788.6h2.4v2.4h-2.4zM510.6 788.4h2.4v2.4h-2.4zM511.7 788.1h2.4v2.4h-2.4z" fill="#ff1414"/><path d="M151.3 820.5h1.6v1.6h-1.6zM151 800.6h1.6v1.6h-1.6zM151.8 815.1h1.6v1.6h-1.6zM151.7 813.1h1.6v1.6h-1.6zM151.6 820.5h1.6v1.6h-1.6zM151.5 820.5h1.6v1.6h-1.6zM151.8 823h1.6v1.6h-1.6zM152.1 820.6h1.6v1.6h-1.6zM150.8 818.8h1.6v1.6h-1.6zM152.3 824.6h1.6v1.6h-1.6zM151.7 814.7h1.6v1.6h-1.6zM151.9 799.5h1.6v1.6h-1.6zM151.7 809.4h1.6v1.6h-1.6zM151.9 805h1.6v1.6h-1.6zM151.8 821.7h1.6v1.6h-1.6zM151.5 802h1.6v1.6h-1.6zM152.3 823.4h1.6v1.6h-1.6zM151.5 817h1.6v1.6h-1.6zM151.7 817h1.6v1.6h-1.6zM152.3 799.3h1.6v1.6h-1.6zM151.9 807.6h1.6v1.6h-1.6zM152 818h1.6v1.6h-1.6zM151.5 810.7h1.6v1.6h-1.6zM152.4 815.8h1.6v1.6h-1.6zM152 816.7h1.6v1.6h-1.6zM151.7 810.9h1.6v1.6h-1.6zM151.7 801h1.6v1.6h-1.6zM151.2 800h1.6v1.6h-1.6zM152.4 808.1h1.6v1.6h-1.6zM152.1 814.9h1.6v1.6h-1.6zM158.3 787.8h1.6v1.6h-1.6zM158.5 778h1.6v1.6h-1.6zM157.9 774.9h1.6v1.6h-1.6zM158.3 783.8h1.6v1.6h-1.6zM157.8 775.4h1.6v1.6h-1.6zM157.7 794.5h1.6v1.6h-1.6zM158.3 783.3h1.6v1.6h-1.6zM157.4 786.1h1.6v1.6h-1.6zM158.7 787.3h1.6v1.6h-1.6zM158.4 794h1.6v1.6h-1.6zM158.2 793h1.6v1.6h-1.6zM158.1 779.7h1.6v1.6h-1.6zM158 776.6h1.6v1.6h-1.6zM158.2 785.6h1.6v1.6h-1.6zM157.7 791.9h1.6v1.6h-1.6zM158.6 791.8h1.6v1.6h-1.6zM158.2 785.4h1.6v1.6h-1.6zM157.8 786.2h1.6v1.6h-1.6zM159.1 786.9h1.6v1.6h-1.6zM158 778.5h1.6v1.6h-1.6zM158.1 784.1h1.6v1.6h-1.6zM157.6 775.6h1.6v1.6h-1.6zM158.3 794.5h1.6v1.6h-1.6zM157.7 779.9h1.6v1.6h-1.6zM157.6 772.9h1.6v1.6h-1.6zM158.9 789.4h1.6v1.6h-1.6zM384.6 773.8h2v2h-2zM384.8 773.8h2v2h-2zM380.4 770.7h2v2h-2zM380.1 774.9h2v2h-2zM388.4 769.9h2v2h-2zM383.4 773.2h2v2h-2zM382.2 777.8h2v2h-2zM384.2 779.1h2v2h-2zM388.4 774h2v2h-2zM382.1 776.6h2v2h-2zM383.1 769.9h2v2h-2zM383.3 776h2v2h-2zM382 771.7h2v2h-2zM385.6 771.5h2v2h-2zM385.6 776.3h2v2h-2zM382.6 768.7h2v2h-2zM381.1 776.4h2v2h-2zM384.9 772.7h2v2h-2zM382.9 775.8h2v2h-2zM382.7 779.1h2v2h-2zM384.4 767.4h2v2h-2zM386 773.2h2v2h-2zM383.7 771.8h2v2h-2zM386.3 770.9h2v2h-2zM387.1 770h2v2h-2zM385.7 767.7h2v2h-2zM385.8 769.4h2v2h-2zM383.2 774.8h2v2h-2zM382 774.1h2v2h-2zM383.7 776.5h2v2h-2zM385.6 773.2h2v2h-2zM383.3 769.6h2v2h-2zM386.7 771.7h2v2h-2zM381 769.9h2v2h-2zM379.6 769.7h2v2h-2zM382.7 773.2h2v2h-2zM385.7 775h2v2h-2zM379.8 770.9h2v2h-2zM385 773.5h2v2h-2zM383.6 769.9h2v2h-2zM385.2 772.1h2v2h-2zM383.2 772h2v2h-2zM383.2 773.3h2v2h-2zM386.1 772.6h2v2h-2zM382.3 772h2v2h-2zM383.3 773.9h2v2h-2zM385.3 777.5h2v2h-2zM385.6 767.1h2v2h-2zM381.9 768.4h2v2h-2zM384.3 779.1h2v2h-2zM384.7 770.6h2v2h-2zM386.7 774.3h2v2h-2zM381.9 769.4h2v2h-2zM386.9 774.7h2v2h-2zM379.2 770h2v2h-2zM384.9 768.1h2v2h-2zM383.7 769.6h2v2h-2zM380.1 770.7h2v2h-2zM382.5 773.2h2v2h-2zM380 773.2h2v2h-2zM382.9 767.3h2v2h-2zM386.3 770.9h2v2h-2zM384.6 777.2h2v2h-2zM384.6 775.3h2v2h-2zM384.1 770.5h2v2h-2zM384.1 767.4h2v2h-2zM384.7 774.9h2v2h-2zM384.6 770.2h2v2h-2zM381.1 770h2v2h-2zM383.1 767.8h2v2h-2zM387.8 769.8h2v2h-2zM384 770.8h2v2h-2zM383.9 765.7h2v2h-2zM381.5 772.2h2v2h-2zM383.6 773.6h2v2h-2zM382.5 774.9h2v2h-2zM384.2 772.2h2v2h-2zM383.7 775.7h2v2h-2zM383.6 777.2h2v2h-2zM383.9 773.1h2v2h-2zM383.7 773.3h2v2h-2zM384.7 770.3h2v2h-2zM385.4 779.1h2v2h-2zM384.8 772.7h2v2h-2zM382 769.9h2v2h-2zM381.9 773.1h2v2h-2zM382.2 777.4h2v2h-2zM382.8 769.5h2v2h-2zM381.7 772h2v2h-2zM383.4 775.2h2v2h-2zM382.1 773.4h2v2h-2zM385.7 771.4h2v2h-2zM379.9 773.1h2v2h-2zM385.9 773.6h2v2h-2zM383.7 766.2h2v2h-2zM387.2 771.7h2v2h-2zM381.1 771.2h2v2h-2zM384 772.4h2v2h-2zM381.7 779.1h2v2h-2zM386.4 775.5h2v2h-2zM385 771h2v2h-2zM381.1 768.3h2v2h-2zM386 772.6h2v2h-2zM387.2 765.7h2v2h-2zM386.5 773.8h2v2h-2zM382.5 775.1h2v2h-2zM382.2 771.4h2v2h-2zM384.8 772.8h2v2h-2zM384.3 773h2v2h-2zM385.9 769.6h2v2h-2zM403.9 763.9h1.6v1.6h-1.6zM403.9 762.8h1.6v1.6h-1.6zM403.9 769.8h1.6v1.6h-1.6zM403.4 769.9h1.6v1.6h-1.6zM403.4 764.5h1.6v1.6h-1.6zM403.8 770.2h1.6v1.6h-1.6zM403.9 770.7h1.6v1.6h-1.6zM404.1 763.9h1.6v1.6h-1.6zM403.6 762.2h1.6v1.6h-1.6zM404.3 764.4h1.6v1.6h-1.6z" fill="#a80000"/><path d="M152.5 808.9h1.6v1.6h-1.6zM152 820.8h1.6v1.6h-1.6zM153.1 811.5h1.6v1.6h-1.6zM152.9 809.2h1.6v1.6h-1.6zM152.5 817.6h1.6v1.6h-1.6zM153.4 809.5h1.6v1.6h-1.6zM153.2 821.2h1.6v1.6h-1.6zM152.6 804.9h1.6v1.6h-1.6zM152.9 819.2h1.6v1.6h-1.6zM152.6 818h1.6v1.6h-1.6zM152.7 806h1.6v1.6h-1.6zM153.1 807.2h1.6v1.6h-1.6zM153.2 816.4h1.6v1.6h-1.6zM152.8 822.1h1.6v1.6h-1.6zM153 809.2h1.6v1.6h-1.6zM153 819.8h1.6v1.6h-1.6zM152.4 810.4h1.6v1.6h-1.6zM153.4 815.8h1.6v1.6h-1.6zM152.9 811.7h1.6v1.6h-1.6zM152.7 808h1.6v1.6h-1.6zM152.3 815.9h1.6v1.6h-1.6zM152.8 819.7h1.6v1.6h-1.6zM156.9 777.3h1.6v1.6h-1.6zM156.9 782.1h1.6v1.6h-1.6zM157.4 788.5h1.6v1.6h-1.6zM157.1 788.7h1.6v1.6h-1.6zM156.4 776.6h1.6v1.6h-1.6zM157.2 787h1.6v1.6h-1.6zM156.6 782.7h1.6v1.6h-1.6zM156.8 784.6h1.6v1.6h-1.6zM156.9 788.9h1.6v1.6h-1.6zM156.8 778.5h1.6v1.6h-1.6zM156.7 782.1h1.6v1.6h-1.6zM156.4 779h1.6v1.6h-1.6zM157.5 777.9h1.6v1.6h-1.6zM157.3 775.6h1.6v1.6h-1.6zM156.4 775.3h1.6v1.6h-1.6zM157.2 788.9h1.6v1.6h-1.6zM156.9 778.9h1.6v1.6h-1.6zM381.1 770.6h1.8v1.8h-1.8zM380.6 776h1.8v1.8h-1.8zM382.8 772.3h1.8v1.8h-1.8zM384.1 770.9h1.8v1.8h-1.8zM383.1 772.8h1.8v1.8h-1.8zM383.7 773.9h1.8v1.8h-1.8zM383.4 771.1h1.8v1.8h-1.8zM381.8 769.1h1.8v1.8h-1.8zM384 772.9h1.8v1.8h-1.8zM383.2 774.6h1.8v1.8h-1.8zM380.2 773.6h1.8v1.8h-1.8zM382.2 771.7h1.8v1.8h-1.8zM383.4 770.9h1.8v1.8h-1.8zM383.3 772.9h1.8v1.8h-1.8zM386.8 772.3h1.8v1.8h-1.8zM384.6 773.9h1.8v1.8h-1.8zM382.5 773.2h1.8v1.8h-1.8zM383.2 774h1.8v1.8h-1.8zM383 774.4h1.8v1.8h-1.8zM382.5 771.4h1.8v1.8h-1.8zM384.8 774.3h1.8v1.8h-1.8zM384.8 776.1h1.8v1.8h-1.8zM385 772.3h1.8v1.8h-1.8zM384.9 770.8h1.8v1.8h-1.8zM384.7 773.1h1.8v1.8h-1.8zM383.5 771h1.8v1.8h-1.8zM385.1 768.5h1.8v1.8h-1.8zM403.8 767.1h1.6v1.6h-1.6zM403.6 769.1h1.6v1.6h-1.6zM403.3 765.6h1.6v1.6h-1.6zM405.2 762h1.6v1.6h-1.6zM405 769.2h1.6v1.6h-1.6zM404.3 760.6h1.6v1.6h-1.6zM403.3 765.2h1.6v1.6h-1.6zM403.6 771h1.6v1.6h-1.6zM404.9 770.8h1.6v1.6h-1.6zM404.1 769.1h1.6v1.6h-1.6zM404.2 770.4h1.6v1.6h-1.6zM402.9 768.2h1.6v1.6h-1.6zM405.1 767.3h1.6v1.6h-1.6zM404.4 774h1.6v1.6h-1.6zM405 774h1.6v1.6h-1.6zM404.1 761.4h1.6v1.6h-1.6zM404.6 763.7h1.6v1.6h-1.6zM404 767.9h1.6v1.6h-1.6zM404 760.3h1.6v1.6h-1.6zM403.3 760.5h1.6v1.6h-1.6zM404.9 767.8h1.6v1.6h-1.6zM402.3 761.3h1.6v1.6h-1.6zM402.8 773.6h1.6v1.6h-1.6zM403.8 760.9h1.6v1.6h-1.6zM403.6 772.1h1.6v1.6h-1.6zM402.9 763.8h1.6v1.6h-1.6zM402.8 765.7h1.6v1.6h-1.6zM404.8 763.7h1.6v1.6h-1.6zM404.2 769.1h1.6v1.6h-1.6zM404.4 769.3h1.6v1.6h-1.6zM445.6 763.9h1.6v1.6h-1.6zM445.8 762.3h1.6v1.6h-1.6zM446.2 770.6h1.6v1.6h-1.6zM446.5 759.5h1.6v1.6h-1.6zM446.4 759.2h1.6v1.6h-1.6zM446.6 758h1.6v1.6h-1.6zM445.9 761h1.6v1.6h-1.6zM446.2 770.3h1.6v1.6h-1.6zM446.3 771.4h1.6v1.6h-1.6zM446.1 753.8h1.6v1.6h-1.6zM445.8 753.7h1.6v1.6h-1.6zM446 770.8h1.6v1.6h-1.6zM445.8 755.8h1.6v1.6h-1.6zM446.1 766.1h1.6v1.6h-1.6zM445.8 752.3h1.6v1.6h-1.6zM445.8 758.7h1.6v1.6h-1.6zM446 767.2h1.6v1.6h-1.6zM446.2 761.1h1.6v1.6h-1.6zM446.5 754.3h1.6v1.6h-1.6zM446.4 766h1.6v1.6h-1.6zM446.1 755.1h1.6v1.6h-1.6zM446.1 763.3h1.6v1.6h-1.6zM446.3 761.8h1.6v1.6h-1.6zM445.9 755.3h1.6v1.6h-1.6zM321.3 766.8h1.6v1.6h-1.6zM321.1 780.9h1.6v1.6h-1.6zM321.5 778.4h1.6v1.6h-1.6zM321.8 767.5h1.6v1.6h-1.6zM322 772.7h1.6v1.6h-1.6zM321.9 777.4h1.6v1.6h-1.6zM321.9 762.5h1.6v1.6h-1.6zM322.1 778.7h1.6v1.6h-1.6zM321.5 774.3h1.6v1.6h-1.6zM321.5 771.1h1.6v1.6h-1.6zM322 762.2h1.6v1.6h-1.6zM321.4 767h1.6v1.6h-1.6zM321.7 774.9h1.6v1.6h-1.6zM321.1 765.3h1.6v1.6h-1.6zM322.2 766.7h1.6v1.6h-1.6zM322.6 782.5h1.6v1.6h-1.6zM321.7 782.2h1.6v1.6h-1.6zM322.7 781h1.6v1.6h-1.6zM321.7 772.5h1.6v1.6h-1.6zM322 779h1.6v1.6h-1.6zM322.3 765.7h1.6v1.6h-1.6zM321.8 779.9h1.6v1.6h-1.6zM321.2 778.2h1.6v1.6h-1.6zM322 768.9h1.6v1.6h-1.6zM356.6 778.5h1.6v1.6h-1.6zM356.4 774h1.6v1.6h-1.6zM356.7 783.1h1.6v1.6h-1.6zM356.7 784.7h1.6v1.6h-1.6zM356.1 783.6h1.6v1.6h-1.6zM356.2 784h1.6v1.6h-1.6zM356.7 775.9h1.6v1.6h-1.6zM356.6 774.5h1.6v1.6h-1.6zM356.2 777.3h1.6v1.6h-1.6zM356.4 783.3h1.6v1.6h-1.6zM356.4 780.1h1.6v1.6h-1.6zM356.2 773.2h1.6v1.6h-1.6zM356.5 782.3h1.6v1.6h-1.6zM355.9 779.5h1.6v1.6h-1.6zM356.7 783.9h1.6v1.6h-1.6zM356.4 777.4h1.6v1.6h-1.6zM320.5 812.1h1.9v1.9h-1.9zM320.1 815h1.9v1.9h-1.9zM321.4 825.5h1.9v1.9h-1.9zM321.3 830.8h1.9v1.9h-1.9zM320.8 837.9h1.9v1.9h-1.9zM320.9 843.6h1.9v1.9h-1.9zM109.1 768.5h1.6v1.6h-1.6zM139.2 762.7h1.6v1.6h-1.6zM139.7 768.7h1.6v1.6h-1.6zM192.6 765.8h1.6v1.6h-1.6zM192.6 768.7h1.6v1.6h-1.6zM222.7 768.5h1.6v1.6h-1.6zM248.2 764.8h1.6v1.6h-1.6zM273.7 769.5h1.6v1.6h-1.6zM365.5 766.2h1.6v1.6h-1.6zM366.4 761.8h1.6v1.6h-1.6zM165.7 839.6h1.6v1.6h-1.6zM484.8 803.2h1.6v1.6h-1.6zM490.2 809.8h1.6v1.6h-1.6zM85.2 799.2h1.6v1.6h-1.6zM225.2 794.2h1.6v1.6h-1.6zM252.2 799.2h1.6v1.6h-1.6zM354.2 780.2h1.6v1.6h-1.6z" fill="#ff1414"/></g></g>
</svg></body></html>
